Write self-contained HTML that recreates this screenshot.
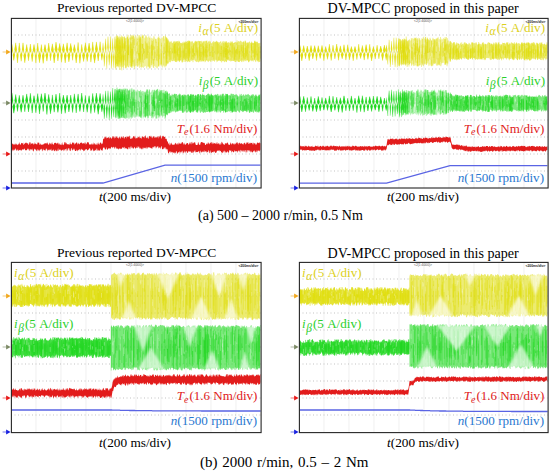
<!DOCTYPE html>
<html><head><meta charset="utf-8"><style>
html,body{margin:0;padding:0;background:#fff;width:550px;height:473px;overflow:hidden;position:relative;font-family:"Liberation Serif",serif;}
.t{position:absolute;white-space:nowrap;color:#000;line-height:1;}
</style></head><body>
<svg width="550" height="473" viewBox="0 0 550 473" style="position:absolute;left:0;top:0">
<defs><filter id="sb" x="-20%" y="-20%" width="140%" height="140%"><feGaussianBlur stdDeviation="1.2"/></filter></defs>
<rect width="550" height="473" fill="#fff"/>
<path d="M36 18V188M61 18V188M86 18V188M111 18V188M136 18V188M161 18V188M186 18V188M211 18V188M236 18V188" stroke="#e6e6e6" stroke-width="0.6" fill="none"/>
<path d="M11 35H261M11 52H261M11 69H261M11 86H261M11 103H261M11 120H261M11 137H261M11 154H261M11 171H261" stroke="#b4b4b4" stroke-width="0.8" stroke-dasharray="1 2.5" fill="none"/>
<path d="M12 44.2L13.8 60.4M13.8 60.4L15.7 42.8M15.7 42.8L17.5 62.9M17.5 62.9L19.3 42.9M19.3 42.9L21.2 61.3M21.2 61.3L23 42.8M23 42.8L24.8 62.8M24.8 62.8L26.7 44.5M26.7 44.5L28.5 60.8M28.5 60.8L30.4 44M30.4 44L32.2 61.6M32.2 61.6L34 44.4M34 44.4L35.9 63.1M35.9 63.1L37.7 43M37.7 43L39.5 62.7M39.5 62.7L41.4 44.6M41.4 44.6L43.2 63.4M43.2 63.4L45 44.6M45 44.6L46.9 61.2M46.9 61.2L48.7 43.1M48.7 43.1L50.5 60.7M50.5 60.7L52.4 43.8M52.4 43.8L54.2 63M54.2 63L56 42.1M56 42.1L57.9 61M57.9 61L59.7 43.4M59.7 43.4L61.5 62.3M61.5 62.3L63.4 43.8M63.4 43.8L65.2 63M65.2 63L67.1 42.8M67.1 42.8L68.9 61.9M68.9 61.9L70.7 43.4M70.7 43.4L72.6 60.3M72.6 60.3L74.4 44.6M74.4 44.6L76.2 63M76.2 63L78.1 42.4M78.1 42.4L79.9 63.3M79.9 63.3L81.7 44.4M81.7 44.4L83.6 61.6M83.6 61.6L85.4 42.7M85.4 42.7L87.2 61.5M87.2 61.5L89.1 43.1M89.1 43.1L90.9 62.2M90.9 62.2L92.7 41.9M92.7 41.9L94.6 63.1M94.6 63.1L96.4 41.9M96.4 41.9L98.2 61M98.2 61L100.1 41.7M100.1 41.7L101.9 60.4" stroke="#e0de10" stroke-width="0.7" opacity="0.55" fill="none"/>
<path d="M12 44.2L13 50L12.3 53.1L11 50ZM13.8 60.4L15 54.9L14.1 51.9L12.7 54.9ZM15.7 42.8L16.9 49.6L16 53.1L14.4 49.6ZM17.5 62.9L18.4 55.6L17.8 51.9L16.6 55.6ZM19.3 42.9L20.3 49.6L19.6 53.1L18.4 49.6ZM21.2 61.3L22.3 55.1L21.5 51.9L20.1 55.1ZM23 42.8L24 49.6L23.3 53.1L22 49.6ZM24.8 62.8L26.1 55.6L25.1 51.9L23.5 55.6ZM26.7 44.5L27.7 50.1L27 53.1L25.6 50.1ZM28.5 60.8L29.5 55L28.8 51.9L27.5 55ZM30.4 44L31.3 50L30.7 53.1L29.4 50ZM32.2 61.6L33.3 55.2L32.5 51.9L31.1 55.2ZM34 44.4L35.4 50.1L34.3 53.1L32.7 50.1ZM35.9 63.1L36.7 55.7L36.2 51.9L35 55.7ZM37.7 43L38.6 49.7L38 53.1L36.7 49.7ZM39.5 62.7L41 55.6L39.8 51.9L38.1 55.6ZM41.4 44.6L42.2 50.1L41.7 53.1L40.5 50.1ZM43.2 63.4L44.4 55.8L43.5 51.9L42 55.8ZM45 44.6L46.4 50.1L45.3 53.1L43.6 50.1ZM46.9 61.2L48.2 55.1L47.2 51.9L45.5 55.1ZM48.7 43.1L49.8 49.7L49 53.1L47.6 49.7ZM50.5 60.7L51.4 55L50.8 51.9L49.7 55ZM52.4 43.8L53.7 49.9L52.7 53.1L51.1 49.9ZM54.2 63L55.5 55.6L54.5 51.9L52.9 55.6ZM56 42.1L57.5 49.4L56.3 53.1L54.6 49.4ZM57.9 61L59 55L58.2 51.9L56.8 55ZM59.7 43.4L61.2 49.8L60 53.1L58.2 49.8ZM61.5 62.3L62.5 55.4L61.8 51.9L60.6 55.4ZM63.4 43.8L64.8 49.9L63.7 53.1L62 49.9ZM65.2 63L66.5 55.6L65.5 51.9L63.9 55.6ZM67.1 42.8L68.3 49.6L67.4 53.1L65.8 49.6ZM68.9 61.9L70.3 55.3L69.2 51.9L67.4 55.3ZM70.7 43.4L72.2 49.8L71 53.1L69.2 49.8ZM72.6 60.3L73.4 54.8L72.9 51.9L71.7 54.8ZM74.4 44.6L75.7 50.1L74.7 53.1L73.1 50.1ZM76.2 63L77.4 55.7L76.5 51.9L75 55.7ZM78.1 42.4L78.9 49.5L78.4 53.1L77.2 49.5ZM79.9 63.3L81 55.7L80.2 51.9L78.8 55.7ZM81.7 44.4L82.6 50.1L82 53.1L80.9 50.1ZM83.6 61.6L85 55.2L83.9 51.9L82.2 55.2ZM85.4 42.7L86.7 49.6L85.7 53.1L84.1 49.6ZM87.2 61.5L88.6 55.2L87.5 51.9L85.9 55.2ZM89.1 43.1L90.6 49.7L89.4 53.1L87.6 49.7ZM90.9 62.2L91.9 55.4L91.2 51.9L90 55.4ZM92.7 41.9L93.7 49.3L93 53.1L91.8 49.3ZM94.6 63.1L96 55.7L94.9 51.9L93.1 55.7ZM96.4 41.9L97.8 49.3L96.7 53.1L95 49.3ZM98.2 61L99.4 55L98.5 51.9L97.1 55ZM100.1 41.7L101 49.3L100.4 53.1L99.1 49.3ZM101.9 60.4L103 54.9L102.2 51.9L100.8 54.9Z" fill="#e0de10" opacity="1.0"/>
<path d="M115 35.7L115.7 39.5L116.4 38.8L117.1 35.5L117.8 37.9L118.5 36.4L119.2 39.3L119.9 39.1L120.6 36.6L121.3 37.8L122 37.3L122.7 36.3L123.4 36.9L124.1 36.7L124.8 37L125.5 39.1L126.2 38.1L126.9 34.9L127.6 36.3L128.3 39L129 38L129.7 37.3L130.4 37.4L131.1 37.6L131.8 35.3L132.5 36.4L133.2 35.8L133.9 35.4L134.6 37.7L135.3 34.7L136 35.4L136.7 37.8L137.4 38.6L138.1 36L138.8 38.5L139.5 38.4L140.2 35.3L140.9 38.8L141.6 35.4L142.3 36.8L143 35.1L143.7 35.1L144.4 37.7L145.1 38.5L145.8 35.2L146.5 36.2L147.2 37.5L147.9 37.4L148.6 35.4L149.3 37.9L150 35.3L150.7 39L151.4 37.8L152.1 37.8L152.8 39L153.5 35.9L154.2 35.8L154.9 37.7L155.6 38.9L156.3 39.1L157 38.5L157.7 37.6L158.4 36.5L159.1 38.5L159.8 37.8L160.5 38.9L161.2 38.4L161.9 37.2L162.6 37.9L163.3 35.9L164 36.3L164.7 39.3L165 39.3L165 65.4L164.7 67L164 67.7L163.3 64.4L162.6 68L161.9 67L161.2 65.3L160.5 64.2L159.8 64.8L159.1 66.8L158.4 65.1L157.7 68.2L157 68.7L156.3 67.6L155.6 67.3L154.9 66L154.2 65.7L153.5 68.1L152.8 67.2L152.1 64.6L151.4 66.6L150.7 68.7L150 66.3L149.3 67.6L148.6 66.8L147.9 65.9L147.2 67.8L146.5 68.9L145.8 66.2L145.1 66L144.4 66.8L143.7 67.9L143 67.5L142.3 67.1L141.6 66.4L140.9 67L140.2 67.6L139.5 68.2L138.8 67L138.1 65.3L137.4 66.7L136.7 65L136 66.5L135.3 65.5L134.6 67.8L133.9 65.3L133.2 67.4L132.5 68.1L131.8 65.1L131.1 66.9L130.4 67.3L129.7 65.1L129 68.1L128.3 67.1L127.6 65.6L126.9 68.2L126.2 66.4L125.5 68.1L124.8 65.4L124.1 65.2L123.4 68.3L122.7 66.6L122 67.4L121.3 64.6L120.6 66.8L119.9 67L119.2 64.4L118.5 67L117.8 67L117.1 66L116.4 66.6L115.7 67.5L115 68.3Z" fill="#e0de10" opacity="0.42"/>
<path d="M128.6 39V66.7M117.6 35.8V54.7M119.8 41.7V59.1M143.4 48.2V54.2M145.3 41.4V59.2M132.8 37.3V61.9M140.3 38.4V62.1M133.6 35.8V54.3M141.6 43.5V67.8M130.4 35.2V55.7M147.2 42.5V58.3M136.9 42.7V53.7M120.5 45.4V62.6M124.7 37.5V60.2M119.2 47.5V62.4M130.2 41.3V63M137.2 39.4V63M128 46.4V60.2M132.8 39.8V64.1M163.5 45.1V54.4M159.5 45.9V59.3M131.4 44V67.7M138.6 45.5V61.4M139.9 44.8V60.1M143.1 43.5V63.1M142.4 34.7V59.7M126.2 45.1V68.1M142.2 39.3V61.8M157.2 46V56M143.6 48.3V53.8M158.7 38.3V66.8M131.5 43.2V65.9M164.7 43.2V53.8M121.4 35.4V61.1M155.7 39.2V54M120.9 49.3V53.7M151.2 44.9V58.7M128.2 34.8V58.9M151.8 40.4V63.3M119.3 36.3V57.1M135.1 45.9V55.5M116.4 35.8V54.8M125.8 37.9V61.4M152 43.6V55.9M163.8 36.1V58.4M128.7 46.5V57.8M161.6 42.7V64.7M155.2 50V57.8M146.9 43.2V58.6M151.3 44.8V65M139.1 42.2V65.3M147.4 44.4V55.1M138.5 45.2V55.2M152.7 45.7V60.4M119 36.8V62M139.5 35.2V60.9M118.1 39.9V63.9M131.6 35.4V67.4M156.4 39.6V60.4M127.4 36.9V65.3M117.5 37.9V65.8M120.2 46.1V55.8M130.9 37.4V66.4M140 38.8V56.2M125.5 41.3V68.4M118.2 45.4V67.5M132.8 34.8V65.9M160.9 49.1V65.6M157.2 49.4V61.1M137.4 48.2V66.8M123.8 43.3V61.7M139.3 49.6V57.2M115.5 46.6V65.1M119.9 40.2V60.8M132.5 42V55.5M132.8 49.1V62.3M158.4 42.2V62.5M127.9 40.4V55.1M130.9 47.1V58.1M116.9 44.6V64.1M116.3 47.5V62.8M116.6 40.2V63.8M127.6 37.2V61.5M153.4 39.7V64.1M163.9 43.2V65.6M128.2 44.9V63.1M139.2 44.9V59.3M134.6 38.7V69M122.2 38.9V57.1M149.2 42.4V68.4M158.9 36.4V56.8M146.8 43.6V58.2M140 36.7V59.6M149.7 38.3V68.3M154.5 46.5V60.4M152.5 41.1V55.2M153.8 45.8V68M131.2 43.9V65.5M140.5 36.8V59.6M161.5 44.9V63.9M158.5 46.1V66M127.9 47.5V66.8M142.7 36.2V56.5M145.9 35.1V57.7M140.1 43.5V63.6M159.2 47.9V54.6M148.4 41.4V66.6M144.5 49V59.9M138.1 49.6V55.2M138.1 34.9V56.1" stroke="#e0de10" stroke-width="0.6" opacity="0.75" fill="none"/>
<path d="M134.7 45.7V57.3M164.4 54.4V56.2M142.3 48.5V53.6M115.9 53.7V62.3M144.3 46.8V47.1M137.7 51.9V58.7M159.3 45.8V54.5M120 43.9V45.4M155.1 49.1V52.3M116.1 47.6V58.6M134.3 45.2V46.6M125.1 51V52.8M163.2 42.7V53.1M149.9 49.1V52.4M138.9 42.1V53M134.5 51.2V59.2M131.1 40.2V42.1M137.9 45.3V51.9M148.5 53.4V53.7M156.5 38.6V41.6M161.1 46.4V53.3M136.5 45.8V51.4M124.7 49.5V49.8M142.5 38.2V44M137.6 40V41.4M133.7 48.2V60.2M156 43.1V53.9M150.1 39.2V46.4M119 54V60.2M117.8 52.4V53.7M116.9 54.8V59.3M128.5 55.1V66.3M153.5 49.8V59M129.4 39.4V44.6M132 38.9V48.8M164 40.8V46.8M137.4 54.1V58.3M148.2 41.5V45.8M118.1 51.1V51.6M124.7 46.5V54.9" stroke="#ffffff" stroke-width="0.8" opacity="0.4" fill="none"/>
<path d="M103 42.8L104.3 66.4M104.3 66.4L105.6 38.7M105.6 38.7L106.8 68.6M106.8 68.6L108 36.6M108 36.6L109.2 65.3M109.2 65.3L110.4 36.5M110.4 36.5L111.6 68.6M111.6 68.6L112.7 38.4M112.7 38.4L113.8 67.8M113.8 67.8L114.9 36.8M114.9 36.8L115.9 69.7M115.9 69.7L117 35.4M117 35.4L118 66M118 66L119 38M119 38L119.9 70M119.9 70L120.9 36.7M120.9 36.7L121.8 70.4M121.8 70.4L122.7 36.5M122.7 36.5L123.6 68.1M123.6 68.1L124.5 36" stroke="#e0de10" stroke-width="0.7" opacity="0.3" fill="none"/>
<path d="M103 42.8L103.8 49.6L103.3 53.1L102.2 49.6ZM104.3 66.4L105.1 56.3L104.6 51.4L103.5 56.3ZM105.6 38.7L106.4 48L105.9 52.6L104.7 48ZM106.8 68.6L107.4 57L107.1 51.4L106.2 57ZM108 36.6L108.7 47.4L108.3 52.6L107.3 47.4ZM109.2 65.3L110.1 56L109.5 51.4L108.4 56ZM110.4 36.5L111.1 47.4L110.7 52.6L109.7 47.4ZM111.6 68.6L112.4 57L111.9 51.4L110.8 57ZM112.7 38.4L113.3 47.9L113 52.6L112.1 47.9ZM113.8 67.8L114.5 56.7L114.1 51.4L113.1 56.7ZM114.9 36.8L115.5 47.5L115.2 52.6L114.2 47.5ZM115.9 69.7L116.8 57.3L116.2 51.4L115.1 57.3ZM117 35.4L117.8 47L117.3 52.6L116.1 47ZM118 66L118.8 56.2L118.3 51.4L117.2 56.2ZM119 38L119.9 47.8L119.3 52.6L118.1 47.8ZM119.9 70L120.6 57.4L120.2 51.4L119.3 57.4ZM120.9 36.7L121.6 47.4L121.2 52.6L120.2 47.4ZM121.8 70.4L122.7 57.5L122.1 51.4L120.9 57.5ZM122.7 36.5L123.5 47.4L123 52.6L122 47.4ZM123.6 68.1L124.2 56.8L123.9 51.4L123 56.8ZM124.5 36L125.1 47.2L124.8 52.6L123.9 47.2Z" fill="#e0de10" opacity="0.95"/>
<path d="M165 35.4L165.7 35.8L166.4 38.3L167.1 37.8L167.8 39.8L168.5 39.2L169.2 42.5L169.9 42.4L170.6 41.4L171.3 40.7L172 43L172.7 43.2L173.4 41.5L174.1 40.8L174.8 43.4L175.5 43.2L176.2 41.9L176.9 40.8L177.6 42.8L178.3 43.4L179 41.4L179.7 41.6L180.4 43.1L181.1 42.7L181.8 43.3L182.5 42.4L183.2 41.2L183.9 43.4L184.6 42.9L185.3 43.1L186 41.5L186.7 41.4L187.4 43.4L188.1 43.3L188.8 40.8L189.5 40.7L190.2 40.9L190.9 42.5L191.6 41.3L192.3 41L193 42.1L193.7 43.4L194.4 41.9L195.1 40.7L195.8 40.9L196.5 41.4L197.2 41.5L197.9 41.1L198.6 40.7L199.3 41.5L200 41.2L200.7 41.1L201.4 40.8L202.1 42.2L202.8 42.8L203.5 41.6L204.2 40.8L204.9 41.8L205.6 40.7L206.3 40.9L207 41.3L207.7 43.2L208.4 40.7L209.1 42L209.8 40.5L210.5 41.6L211.2 43.4L211.9 43L212.6 41.9L213.3 41.3L214 41.3L214.7 42.1L215.4 41.8L216.1 41.3L216.8 40.6L217.5 42.8L218.2 43.5L218.9 43.4L219.6 42L220.3 41.7L221 40.8L221.7 43.5L222.4 41.8L223.1 40.7L223.8 43.4L224.5 42.5L225.2 42.7L225.9 42.1L226.6 41.1L227.3 42.9L228 42.7L228.7 42L229.4 43.3L230.1 41L230.8 43.4L231.5 42.2L232.2 40.8L232.9 43L233.6 43.1L234.3 43L235 41.8L235.7 42.3L236.4 42.3L237.1 42.7L237.8 41.7L238.5 40.9L239.2 41.5L239.9 41.6L240.6 40.6L241.3 41L242 42.5L242.7 42.1L243.4 41.1L244.1 43L244.8 40.6L245.5 40.5L246.2 42.5L246.9 43.2L247.6 43.1L248.3 42.4L249 41.9L249.7 41.3L250.4 43.3L251.1 42.5L251.8 41.1L252.5 43.1L253.2 42.7L253.9 43.4L254.6 41.6L255.3 41.8L256 42.2L256.7 41.4L257.4 41.4L258.1 43.3L258.8 43L259.5 43.2L260.2 42.8L260.4 42.5L260.4 60.5L260.2 61.8L259.5 61.9L258.8 61.4L258.1 62.4L257.4 60.9L256.7 59.7L256 62.3L255.3 61.4L254.6 60.3L253.9 59.8L253.2 62.1L252.5 60.3L251.8 60.1L251.1 61.5L250.4 59.8L249.7 61.8L249 61.1L248.3 62.3L247.6 60.1L246.9 61.5L246.2 60L245.5 61.1L244.8 61.6L244.1 59.9L243.4 62.1L242.7 61.3L242 59.6L241.3 61.7L240.6 60.4L239.9 61.5L239.2 62.3L238.5 61.5L237.8 62L237.1 59.6L236.4 61.7L235.7 61.9L235 62L234.3 61.3L233.6 61L232.9 61L232.2 60.7L231.5 61L230.8 61.8L230.1 60.6L229.4 61L228.7 60.2L228 60.5L227.3 60L226.6 62.4L225.9 61.2L225.2 60.8L224.5 62.4L223.8 61.5L223.1 60.6L222.4 61.6L221.7 59.5L221 61.5L220.3 60.9L219.6 59.9L218.9 60.8L218.2 60.6L217.5 61.4L216.8 62.5L216.1 59.6L215.4 59.9L214.7 62.2L214 60.5L213.3 61.1L212.6 60.2L211.9 62.2L211.2 59.7L210.5 62.3L209.8 61.1L209.1 60.6L208.4 62.3L207.7 61.6L207 60.4L206.3 59.8L205.6 61.8L204.9 62.4L204.2 59.9L203.5 62.1L202.8 60.5L202.1 62L201.4 61.4L200.7 60.1L200 60.6L199.3 62.1L198.6 62.4L197.9 61.4L197.2 61.8L196.5 62.3L195.8 60.7L195.1 61.8L194.4 59.6L193.7 59.7L193 60L192.3 60.5L191.6 60.9L190.9 59.9L190.2 61.9L189.5 62.2L188.8 61L188.1 61.1L187.4 62.5L186.7 60.9L186 61.6L185.3 59.9L184.6 59.6L183.9 59.6L183.2 60.2L182.5 61.9L181.8 62.3L181.1 59.6L180.4 61.1L179.7 60.1L179 61.8L178.3 59.7L177.6 61.1L176.9 62.2L176.2 61.7L175.5 60.1L174.8 59.9L174.1 60.9L173.4 60.6L172.7 61L172 61.5L171.3 60.2L170.6 62.2L169.9 62.4L169.2 61.4L168.5 63.8L167.8 63.3L167.1 64.2L166.4 66.4L165.7 65.4L165 68.6Z" fill="#e0de10" opacity="0.6"/>
<path d="M221.9 46.2V53.9M180.4 47.7V57.6M206.4 48.9V55.6M203.1 41.1V54.5M236.3 48.8V53.4M251.6 44.9V56.9M226.7 46.6V55M174.2 45.8V58.3M202.2 43.7V60.4M252.9 46.2V52.7M204.8 47.3V56.4M221.6 45.7V62.4M194.6 48.6V54.4M174.8 41.7V57.4M247.4 42.3V60M241.8 47V62.1M188.1 41.4V55.9M174.3 45.9V61.2M184.4 41.9V56.5M224 41.1V57.9M199.5 45.4V60.5M203.2 49.4V55.2M230.6 43.3V56.7M169.8 48.4V60M189.5 41.8V57.6M255.2 40.8V56.8M225.9 42.9V57M167.7 40.7V56M206.6 50.3V55.1M179 41.6V61.2M248.7 43.4V62.3M257 49.5V56.3M231 41.5V59.7M178.8 40.8V60.6M197 47.1V55.7M213.9 43.1V59.5M194 43.5V58M203.3 45.8V54.8M176.8 41.6V60.4M215.8 42.1V54.3M235.7 50.1V56.8M206.2 49.3V53.1M182.3 43.8V62.5M183.4 48.2V57.9M227.2 45.9V59M226 46.4V61.9M251.5 42.8V52.6M226.5 43.4V59M203.8 50V57.8M196.5 41.7V54.7M166.9 38.1V63M201.2 47.6V56.9M194.5 49.7V55.7M189.4 48.5V54.1M225.7 48.4V57.6M189.9 48.2V54.1M167.1 42.1V58.9M246.9 49.6V57.5M191.4 46.4V59.2M243.6 41.7V57.9M201.2 44.4V52.8M246.5 46.1V55.9M223 49.9V60.7M255.9 43.6V54.6M253.3 42.9V56.8M189.5 41.4V56.1M240.7 45.2V54.4M195.5 42.1V56.3M175.6 42.2V61.9M260.2 46.3V58.6M257.4 46.8V59.7M173.1 42.5V59.3M188.5 49.8V60M239.6 45V57.4M184 43.1V61.9M245.5 47.7V57.2M257.1 42.1V55.1M258.7 47V60M175.6 49.6V61.7M237.1 40.5V54.6M245.6 48.1V53.1M221 46.4V56.3M197.6 48.5V59.6M199.5 41.2V56.2M223.4 43.1V56.8M209.3 44.4V52.8M209.5 43.8V56.2M218.6 42V60.4M234.2 42.6V60.3M255.1 42.5V57.7M216.9 41.8V60.1M210.7 46V56.1M186.2 42V58.8M239.2 49V59M232.2 42.2V57.6M205.6 43.8V57.4M232.8 44.4V54.4M228.2 44.8V58.7M193.7 45.8V54.7M174.5 44V57.5M170.9 47.6V59.4M225 41.9V57.1M180.2 46.5V60.3M207.9 49.4V53.2M174.2 44.2V54.1M251.4 44.5V57.6M187.5 40.9V58.6M237.4 47V53.8M197.9 50.3V57.7M193 49.6V56.9M177.2 46.7V55.4M185.3 41.4V61.9M225.9 41.1V55M245.6 41.5V59.2M169.1 45.7V56.6M172.1 48.3V54.2M193 45.7V62.2M186.3 43.9V57.5M254.6 49.2V58.5M254.5 40.8V59.7M207.3 50.3V53.4M234.4 47.3V59.7M205.7 49V53.3M166.9 39.3V64.3M241.2 44.6V57.3M252 43.4V61.1M206.9 44.7V57.9M188.6 40.6V61.6M166.2 37V62.3M238.8 45.1V62M227.6 46.3V53.9M177.4 41V55.3M247.7 44.9V53.9M229.4 47.4V54.9M193.7 43.8V53.7M251.1 48.6V53.2M203.6 49.5V54.5M192.8 48.7V53.2M180.9 43.4V57.1M242 45V56.2M212.8 47V57M224.4 43.8V53.5M234.3 47.5V59.4M207.8 47.5V56.9M244 47.4V59.7M227.8 42.5V59.6M175.1 41.1V54M244.1 48.1V58.9M217.5 41.7V54.3M237.2 45.5V61.1M206.8 40.5V56.6M200.4 44.1V61.6M219.9 45.3V60.9M166.3 44.9V58.7M200.8 50.4V59.7M229.8 49.7V55.3M203.4 48.7V61M258 43.7V61M206.3 46.4V60.7M220.4 50.2V54.1M179.5 46.6V62.1M169.2 41.3V54.4M188.3 42.5V53.2M243.3 45.3V56.7M192.8 48.4V56.3M203.5 46.3V56.3M177.7 49.3V56.8M235.8 49.6V59.9M184 49.1V58.3M225.4 48.9V54.2M212.2 46V57.3" stroke="#e0de10" stroke-width="0.7" opacity="0.75" fill="none"/>
<path d="M172.7 53.2V59.9M193.4 44.4V44.8M218.5 53.5V56.6M210.3 45.6V52.1M201 47.3V48M183.1 45.2V50.4M174.8 53.4V60.4M228.8 53.3V57M211 44.9V45.4M201.1 46.7V52.3M236.5 45.2V48.9M252.8 53.7V57.8M248.9 48.3V53.8M194.7 48.5V53.3M178.7 45.7V48.2M196 52.4V59.4M208.2 52V58.6M225 52.2V52.7M250.4 48.3V55.4M213.1 51V51.6M230.5 45.5V50.3M198.7 45.1V46.9M252.8 44.9V50.2M228.2 47.4V49.6M226.1 47.1V48.1M234.7 44V45.6M251.8 50.5V56.4M186.1 48.9V53.1M244.6 46V53M167.8 52.5V60.8M207.2 48V54.6M220.5 43V44.4M257.1 46.7V53.5M208.9 50.6V52.6M221 49.8V53.1M170.5 48.9V51.1M224.1 43V47.2M239.9 44.6V50.9M178.8 50.6V54.1M192.9 52.6V55.1M241.1 51.3V58M230.1 52V58.5M227.8 48.2V49M253.1 53.3V55M181.3 46.3V50.7M202.1 48.6V51.6M194.3 45.5V53" stroke="#ffffff" stroke-width="0.8" opacity="0.3" fill="none"/>
<path d="M12 92.8L13.8 113.2M13.8 113.2L15.7 94.5M15.7 94.5L17.5 111.4M17.5 111.4L19.3 95.3M19.3 95.3L21.2 112.3M21.2 112.3L23 95.2M23 95.2L24.8 111.8M24.8 111.8L26.7 93.9M26.7 93.9L28.5 112M28.5 112L30.4 93.3M30.4 93.3L32.2 113.1M32.2 113.1L34 95.6M34 95.6L35.9 112.8M35.9 112.8L37.7 93.6M37.7 93.6L39.5 114M39.5 114L41.4 93.7M41.4 93.7L43.2 111.5M43.2 111.5L45 93M45 93L46.9 114.5M46.9 114.5L48.7 94.4M48.7 94.4L50.5 113.8M50.5 113.8L52.4 94.9M52.4 94.9L54.2 112.2M54.2 112.2L56 94.1M56 94.1L57.9 112.4M57.9 112.4L59.7 93.1M59.7 93.1L61.5 113.8M61.5 113.8L63.4 95.1M63.4 95.1L65.2 113.3M65.2 113.3L67.1 95.1M67.1 95.1L68.9 112M68.9 112L70.7 95.1M70.7 95.1L72.6 112.5M72.6 112.5L74.4 93.8M74.4 93.8L76.2 112.9M76.2 112.9L78.1 93.9M78.1 93.9L79.9 111.5M79.9 111.5L81.7 93M81.7 93L83.6 112M83.6 112L85.4 95.4M85.4 95.4L87.2 112.3M87.2 112.3L89.1 95.7M89.1 95.7L90.9 113.5M90.9 113.5L92.7 93.4M92.7 93.4L94.6 112.6M94.6 112.6L96.4 93.1M96.4 93.1L98.2 114.3M98.2 114.3L100.1 93.4M100.1 93.4L101.9 112.1" stroke="#22d822" stroke-width="0.7" opacity="0.55" fill="none"/>
<path d="M12 92.8L13.2 100.3L12.3 104.1L10.8 100.3ZM13.8 113.2L15.3 106.4L14.1 102.9L12.4 106.4ZM15.7 94.5L16.8 100.8L16 104.1L14.5 100.8ZM17.5 111.4L18.5 105.9L17.8 102.9L16.5 105.9ZM19.3 95.3L20.4 101L19.6 104.1L18.2 101ZM21.2 112.3L22.6 106.1L21.5 102.9L19.7 106.1ZM23 95.2L24.2 101L23.3 104.1L21.8 101ZM24.8 111.8L25.7 106L25.1 102.9L24 106ZM26.7 93.9L28.1 100.6L27 104.1L25.3 100.6ZM28.5 112L29.6 106.1L28.8 102.9L27.4 106.1ZM30.4 93.3L31.4 100.4L30.7 104.1L29.3 100.4ZM32.2 113.1L33.1 106.4L32.5 102.9L31.3 106.4ZM34 95.6L35.3 101.1L34.3 104.1L32.8 101.1ZM35.9 112.8L36.8 106.3L36.2 102.9L34.9 106.3ZM37.7 93.6L38.8 100.5L38 104.1L36.6 100.5ZM39.5 114L40.6 106.7L39.8 102.9L38.5 106.7ZM41.4 93.7L42.7 100.6L41.7 104.1L40 100.6ZM43.2 111.5L44 105.9L43.5 102.9L42.4 105.9ZM45 93L46.4 100.3L45.3 104.1L43.6 100.3ZM46.9 114.5L47.8 106.8L47.2 102.9L45.9 106.8ZM48.7 94.4L49.9 100.8L49 104.1L47.5 100.8ZM50.5 113.8L51.9 106.6L50.8 102.9L49.2 106.6ZM52.4 94.9L53.2 100.9L52.7 104.1L51.6 100.9ZM54.2 112.2L55.3 106.1L54.5 102.9L53.1 106.1ZM56 94.1L57.2 100.7L56.3 104.1L54.8 100.7ZM57.9 112.4L59.2 106.2L58.2 102.9L56.5 106.2ZM59.7 93.1L60.6 100.4L60 104.1L58.8 100.4ZM61.5 113.8L62.5 106.6L61.8 102.9L60.6 106.6ZM63.4 95.1L64.8 101L63.7 104.1L62 101ZM65.2 113.3L66.5 106.4L65.5 102.9L63.9 106.4ZM67.1 95.1L68.4 101L67.4 104.1L65.7 101ZM68.9 112L70.1 106L69.2 102.9L67.7 106ZM70.7 95.1L71.7 101L71 104.1L69.7 101ZM72.6 112.5L73.5 106.2L72.9 102.9L71.6 106.2ZM74.4 93.8L75.5 100.6L74.7 104.1L73.3 100.6ZM76.2 112.9L77 106.3L76.5 102.9L75.4 106.3ZM78.1 93.9L79.2 100.6L78.4 104.1L76.9 100.6ZM79.9 111.5L81.2 105.9L80.2 102.9L78.6 105.9ZM81.7 93L82.8 100.3L82 104.1L80.7 100.3ZM83.6 112L84.4 106.1L83.9 102.9L82.7 106.1ZM85.4 95.4L86.2 101.1L85.7 104.1L84.6 101.1ZM87.2 112.3L88.4 106.1L87.5 102.9L86 106.1ZM89.1 95.7L90.1 101.1L89.4 104.1L88 101.1ZM90.9 113.5L91.8 106.5L91.2 102.9L90 106.5ZM92.7 93.4L93.8 100.5L93 104.1L91.7 100.5ZM94.6 112.6L95.6 106.2L94.9 102.9L93.6 106.2ZM96.4 93.1L97.8 100.4L96.7 104.1L95 100.4ZM98.2 114.3L99.7 106.7L98.5 102.9L96.8 106.7ZM100.1 93.4L101.4 100.5L100.4 104.1L98.7 100.5ZM101.9 112.1L103.4 106.1L102.2 102.9L100.5 106.1Z" fill="#22d822" opacity="1.0"/>
<path d="M115 89.1L115.7 89.2L116.4 90.6L117.1 89.2L117.8 92.7L118.5 88.8L119.2 91L119.9 90.1L120.6 92.4L121.3 89.2L122 90L122.7 89.9L123.4 89.5L124.1 88.3L124.8 90.3L125.5 88.6L126.2 90.9L126.9 88.5L127.6 89.6L128.3 90.1L129 92.1L129.7 88.4L130.4 88.7L131.1 91.6L131.8 88.1L132.5 92.2L133.2 90.7L133.9 89.3L134.6 91.9L135.3 91.6L136 89.7L136.7 91.8L137.4 89.1L138.1 91L138.8 90.6L139.5 91.9L140.2 89.7L140.9 90.1L141.6 91.8L142.3 90.7L143 91.5L143.7 91.3L144.4 91.4L145.1 92.4L145.8 90.7L146.5 91.5L147.2 90.2L147.9 88.7L148.6 91.9L149.3 89.4L150 92.3L150.7 92.7L151.4 91.6L152.1 89.4L152.8 90.2L153.5 90.5L154.2 89L154.9 90.8L155.6 91.3L156.3 90.3L157 89.6L157.7 89.2L158.4 91.7L159.1 88.9L159.8 90.5L160.5 89.9L161.2 91.3L161.9 92.2L162.6 93.1L163.3 91.9L164 93.5L164.7 94L165 92.8L165 113.3L164.7 116L164 116L163.3 116.3L162.6 117.9L161.9 116.2L161.2 114.7L160.5 116.3L159.8 118.5L159.1 115.1L158.4 117.3L157.7 115.7L157 114.3L156.3 115.4L155.6 114.8L154.9 117.2L154.2 115.8L153.5 118.2L152.8 118.6L152.1 117.1L151.4 115.3L150.7 116.1L150 116.6L149.3 114.5L148.6 118.4L147.9 117.2L147.2 115.5L146.5 114.9L145.8 116.1L145.1 118.4L144.4 116.7L143.7 116.8L143 118.9L142.3 115.2L141.6 118.8L140.9 118.1L140.2 117.5L139.5 116.2L138.8 116L138.1 117.4L137.4 115.3L136.7 114.9L136 116.4L135.3 117.8L134.6 117.9L133.9 116L133.2 117.3L132.5 118.2L131.8 115L131.1 117.6L130.4 116.4L129.7 119.2L129 117.1L128.3 119.4L127.6 117.5L126.9 119L126.2 117.8L125.5 119.1L124.8 118.8L124.1 117.4L123.4 117.3L122.7 118L122 117.6L121.3 118L120.6 118.3L119.9 118.5L119.2 118.9L118.5 115.7L117.8 117L117.1 114.6L116.4 118.2L115.7 116.8L115 117.9Z" fill="#22d822" opacity="0.36"/>
<path d="M132 91.9V112.3M125.2 92.8V113.8M161.9 90V115.9M125 102.2V106.9M124.7 96.2V118.1M130.9 92.9V111.9M161.5 99.7V111.4M154.3 95.3V108.9M153.8 92.2V107.5M143.9 95.1V113.6M126.2 95.2V117.6M146.7 100.8V108.2M145.5 95.3V109.5M121.1 89.2V107.3M133.1 97.5V113.5M132.9 98.9V114.6M152.7 99.8V116.4M163.9 89.8V113M140 99.8V116.8M143 93.5V106.4M121.1 92.2V107.9M131.1 101.4V118.7M134.4 89.6V111.3M163.2 93.3V109.9M128.3 94.3V111.4M127.4 97.9V112.4M160.3 92.6V105.8M124.1 88.6V110.1M151.7 95.1V118.3M164.9 91.7V106.7M159.6 91.8V107.1M138.2 100.8V106.9M153.7 92.6V110.9M164.1 93.3V113.3M149.4 89.4V115.5M123.4 94.1V113.3M145.4 95.3V116.8M117.3 95.9V108.6M161.3 100.1V114.5M158.3 95.1V114.9M119.6 94.7V111.6M129 90.8V106.2M118.4 101.5V113.5M154.6 90.2V111.1M153.1 94.6V114M139.7 91V116.3M127.1 88.7V106.6M118.7 101.3V118.9M147.8 96V118.4M162.1 98.7V106.8M136.8 92.3V116.7M120.6 97.8V107.8M125.6 88.6V114.3M122.6 91.5V116.1M148.1 94.5V111.3M134.5 102V112.4M117.1 90.6V109.1M160.6 90.6V112.5M158.1 96.2V118.4M141 92.3V116.2M161.8 90.3V107.5M152.7 96.7V114.4M119.1 97.8V105.9M124 90.1V112.7M157.6 88.9V108.1M119.3 89V117.1M137.9 101.3V110M118 90.7V112.7M119.5 97.8V114.2M162.8 99.9V107.7M126.8 94.2V110M119.5 88.7V114.6M135 99.2V107.9M117.9 89.6V106.4M129.4 89.8V108.3M154.2 96.9V108.4M158 100.3V115.1M136 102V114.2M146.3 100.1V107M145.1 93.3V109.5M115.2 93.6V108.7M147.3 89.6V109.1M145.5 94.6V117.6M144.8 98.7V116.3M146.7 89.5V116.2M132.9 99.1V115.4M159.5 102V116.4M116.3 98.7V108.6M160 97.9V108.2M133.3 89.5V105.3M145.2 92.2V106.8M118.7 89.4V115.6M121.5 94.1V110.6M141 96V117.5M141.7 101.9V114.6M155 97.4V108.5M147.9 94.5V115.8M119.7 90.1V117.7M153.4 100V107.7M159.2 93.7V109.6M156 90.5V118.7M125.5 101.1V108M121.5 100.2V116.8M128.3 90.5V107M156.4 89.7V118.4M154.6 94V111.1M146.9 96V116.4M130.5 96.5V108.4M131.9 88.4V117.4M129.2 101.6V113.4" stroke="#22d822" stroke-width="0.6" opacity="0.75" fill="none"/>
<path d="M139.9 97.9V107.3M155 94.1V101.1M142.5 105.3V105.9M143.9 94.4V100.5M155.9 98.3V103.9M133.3 106V115.5M119.5 92.3V98M130.6 91.7V99.1M122.8 101.4V102.5M150.7 104.3V112.8M159.1 101V104.5M124.1 101.6V112.2M147.9 93.2V93.6M122.6 103.9V105.3M150.3 100.5V104.3M136 95.4V99.9M124.2 99.6V106.8M142.5 106.7V116.7M159.5 100.8V102.3M152.9 105.9V112.3M137.7 101.5V108.3M156.4 98.9V102.8M155.4 98.7V105.5M129.2 99.6V105.8M144.3 103.5V107.2M123.5 97.2V103.6M139.5 97.1V101.7M123.9 93.1V100.2M118.6 100.4V110.8M140.3 102.4V110.7M139.4 99.5V102M146.4 99.6V103.1M161.9 101.3V105.6M160.1 103.2V113.3M131.9 98.7V101.3M151.4 104.4V111.7M150.6 93.8V103.7M122 103.9V105.7M149.3 102.9V104.8M142.9 95.3V105.5" stroke="#ffffff" stroke-width="0.8" opacity="0.4" fill="none"/>
<path d="M103 93.9L104.3 118.8M104.3 118.8L105.6 90.8M105.6 90.8L106.8 118.3M106.8 118.3L108 90.7M108 90.7L109.2 119.8M109.2 119.8L110.4 91.6M110.4 91.6L111.6 118.8M111.6 118.8L112.7 88M112.7 88L113.8 117.2M113.8 117.2L114.9 88.9M114.9 88.9L115.9 118.3M115.9 118.3L117 87.6M117 87.6L118 118.5M118 118.5L119 91M119 91L119.9 118.4M119.9 118.4L120.9 88.7M120.9 88.7L121.8 117.8M121.8 117.8L122.7 88.8M122.7 88.8L123.6 118.2M123.6 118.2L124.5 90.4" stroke="#22d822" stroke-width="0.7" opacity="0.3" fill="none"/>
<path d="M103 93.9L103.8 100.6L103.3 104.1L102.2 100.6ZM104.3 118.8L105.2 108.4L104.6 103.4L103.4 108.4ZM105.6 90.8L106.4 100L105.9 104.6L104.7 100ZM106.8 118.3L107.7 108.3L107.1 103.4L105.9 108.3ZM108 90.7L108.8 100L108.3 104.6L107.3 100ZM109.2 119.8L110 108.7L109.5 103.3L108.5 108.7ZM110.4 91.6L111.2 100.2L110.7 104.5L109.6 100.2ZM111.6 118.8L112.4 108.4L111.9 103.3L110.8 108.4ZM112.7 88L113.4 99.2L113 104.5L112 99.2ZM113.8 117.2L114.5 107.9L114.1 103.3L113 107.9ZM114.9 88.9L115.8 99.4L115.2 104.5L113.9 99.4ZM115.9 118.3L116.7 108.2L116.2 103.3L115.2 108.2ZM117 87.6L117.8 99L117.3 104.5L116.2 99ZM118 118.5L118.6 108.3L118.3 103.3L117.3 108.3ZM119 91L119.8 100L119.3 104.5L118.2 100ZM119.9 118.4L120.9 108.2L120.2 103.2L119 108.2ZM120.9 88.7L121.9 99.3L121.2 104.4L119.9 99.3ZM121.8 117.8L122.5 108L122.1 103.2L121.1 108ZM122.7 88.8L123.7 99.3L123 104.4L121.8 99.3ZM123.6 118.2L124.2 108.1L123.9 103.2L123.1 108.1ZM124.5 90.4L125.2 99.8L124.8 104.4L123.8 99.8Z" fill="#22d822" opacity="0.95"/>
<path d="M165 91.4L165.7 90.8L166.4 90.4L167.1 93.5L167.8 92.5L168.5 94.4L169.2 92.8L169.9 93.9L170.6 96.4L171.3 95.9L172 93.6L172.7 94.9L173.4 94.8L174.1 94.2L174.8 93.8L175.5 94.4L176.2 93.9L176.9 94.1L177.6 96.1L178.3 94.6L179 94.4L179.7 94.7L180.4 93.8L181.1 96.2L181.8 95L182.5 95.5L183.2 96.5L183.9 93.8L184.6 95.2L185.3 94.9L186 95.8L186.7 95.3L187.4 94.8L188.1 93.9L188.8 95.1L189.5 95.9L190.2 96.3L190.9 94.9L191.6 95L192.3 95.9L193 94.8L193.7 94.7L194.4 95.7L195.1 96.1L195.8 95.8L196.5 96.3L197.2 94L197.9 95.1L198.6 93.7L199.3 96.3L200 94.2L200.7 95.1L201.4 95.6L202.1 94.9L202.8 94.9L203.5 94.9L204.2 95.2L204.9 95.4L205.6 95.7L206.3 94.9L207 94.7L207.7 94L208.4 93.6L209.1 94.4L209.8 96.4L210.5 94.9L211.2 94L211.9 94.9L212.6 95.7L213.3 96L214 94.6L214.7 95.3L215.4 93.7L216.1 96L216.8 94.7L217.5 93.8L218.2 94.1L218.9 95.9L219.6 96.2L220.3 94.1L221 96.4L221.7 94.2L222.4 93.7L223.1 93.6L223.8 94L224.5 95.7L225.2 95.2L225.9 96.2L226.6 94.1L227.3 94L228 96.1L228.7 94.9L229.4 94.9L230.1 95.8L230.8 93.5L231.5 93.7L232.2 93.8L232.9 94.6L233.6 93.8L234.3 95.1L235 94.8L235.7 94.6L236.4 94.3L237.1 94.8L237.8 95.8L238.5 96.4L239.2 96.4L239.9 93.6L240.6 95.4L241.3 95.7L242 96.3L242.7 95.1L243.4 94.2L244.1 94.8L244.8 96.3L245.5 93.9L246.2 95L246.9 94.6L247.6 94.5L248.3 93.7L249 94.9L249.7 95.3L250.4 95.9L251.1 96.4L251.8 94.4L252.5 94.4L253.2 93.9L253.9 95.1L254.6 95.9L255.3 95.5L256 94.8L256.7 96.4L257.4 96.4L258.1 96.2L258.8 94.5L259.5 95.6L260.2 93.6L260.4 95.4L260.4 110.3L260.2 111.6L259.5 110.7L258.8 111.8L258.1 111.8L257.4 112.5L256.7 110.2L256 111.4L255.3 111.6L254.6 110.3L253.9 112.2L253.2 113L252.5 111.6L251.8 111.5L251.1 112.1L250.4 111.1L249.7 112.9L249 112.6L248.3 110.1L247.6 110.4L246.9 112.7L246.2 110.8L245.5 111.3L244.8 110.4L244.1 111L243.4 111.3L242.7 110.2L242 111.1L241.3 111.2L240.6 110.1L239.9 112.2L239.2 112.8L238.5 111.5L237.8 110.6L237.1 111L236.4 112.6L235.7 111.2L235 112.2L234.3 110.8L233.6 111.5L232.9 112.1L232.2 112.5L231.5 111.1L230.8 110.7L230.1 110.9L229.4 111.7L228.7 111.2L228 111.2L227.3 112.2L226.6 111.7L225.9 112.7L225.2 112.5L224.5 110.7L223.8 111.1L223.1 110L222.4 111L221.7 111.1L221 111.8L220.3 113L219.6 111.7L218.9 110.1L218.2 112.7L217.5 110.1L216.8 110.9L216.1 111.6L215.4 111.3L214.7 112.3L214 110.1L213.3 110.6L212.6 111.1L211.9 110.7L211.2 110.5L210.5 111.6L209.8 112.8L209.1 111.9L208.4 111.1L207.7 111.9L207 111.9L206.3 111.7L205.6 112.7L204.9 112.1L204.2 112.6L203.5 112.9L202.8 112.6L202.1 111.4L201.4 111.6L200.7 112.7L200 112.7L199.3 110.2L198.6 110.2L197.9 111.9L197.2 111L196.5 113L195.8 110.3L195.1 110.3L194.4 110.5L193.7 111.8L193 110.3L192.3 111.7L191.6 111.6L190.9 112.5L190.2 112.8L189.5 110.4L188.8 110.4L188.1 111.2L187.4 112.4L186.7 112.7L186 112.3L185.3 110.2L184.6 111.5L183.9 112.7L183.2 112.5L182.5 112.7L181.8 111L181.1 110.5L180.4 111L179.7 110.8L179 110.7L178.3 111.4L177.6 110.6L176.9 111.7L176.2 111.3L175.5 112.8L174.8 111.7L174.1 110.3L173.4 111.7L172.7 111.7L172 110.7L171.3 112.6L170.6 110.6L169.9 112.3L169.2 113.6L168.5 112.7L167.8 114.8L167.1 115.5L166.4 114.2L165.7 116.5L165 118Z" fill="#22d822" opacity="0.6"/>
<path d="M246 101.2V110.7M208.1 93.6V107.5M175.8 97.4V107.9M251.2 94.9V112.1M225.5 93.8V112.1M169.4 101.7V108.1M209.6 95.8V110.8M222.8 98.6V109.7M180.4 97.3V109.5M209.7 97.3V111.5M232.5 98.3V112.4M210.2 96.4V105.6M187.9 101.3V105.3M186.6 101.6V109M259.3 94.7V111.7M177.2 99.4V106.4M193 94.6V105.2M215.8 95V109.4M246.9 98.1V111.9M220.8 99.4V110M227.3 93.9V105.6M234.3 99V109.7M213 95.8V111.1M202.3 100.2V110.2M174.9 93.7V107.5M203.9 94.6V109.6M199.2 99V105.4M186.9 99.4V108.6M218.2 96.2V104.8M254.6 101.2V109.7M206.6 100.8V110M234.5 100.2V108.3M206.6 95.2V106.2M237.2 98V109.8M222.4 94.6V111M183.8 97V106M178.2 98.9V106.5M255.9 94.4V106.3M193.1 94.5V112.3M223.9 101.3V110.4M193.6 101.1V110.2M200.3 94.1V105.8M225.2 97.8V107.5M211.6 98.2V108.6M197.6 96.9V112.8M255.3 97V111.8M170.7 95.4V112.8M223.6 101.3V112.6M175.8 97.8V105.4M229.6 99.9V104.7M223.1 99.1V106M166 95.7V113.8M196.2 101.3V111.9M192.9 98.4V112.1M191.3 93.9V111M232.6 101.2V104.2M188.8 97.2V111.6M166.9 92.7V114.3M189.4 95.7V107.3M217.7 101.9V107.5M194.9 98V106.8M241.3 93.9V105.8M177.6 100.2V110.5M166.3 99.6V111.4M220.2 99.9V105.4M192.8 101.4V104.8M196.9 97.2V107.2M189.2 101.7V109.4M243.9 99.7V109.9M216 100.4V110.4M221.2 96.6V109.1M227.1 94.5V105M188.3 94.5V105.6M204.1 97.8V111.4M179.9 99.9V108.9M195.5 94.8V109.8M209 98.9V106.2M221.2 101.9V107.6M218.1 96.4V105.7M232.1 99.3V111.5M233 96V111.8M209.1 95.4V111.8M244.7 98.8V109.7M177.3 98.9V110.1M199.4 101.6V106M201.2 98.1V108.8M177.5 98.1V104.2M196 95.1V108.3M209.7 94.2V108.1M245.7 98.7V106.5M211.9 95.7V112M217.1 97.9V112.4M244.8 99.2V111.1M190.6 94.2V112.3M192.7 94.8V110M198.4 94V106.4M212.3 95V109.3M209.2 100.4V111M193.9 98.4V111.2M190.6 94.5V112.6M212.2 97.9V104.9M197.7 94.5V111.7M211 94.9V111.2M223.4 96.5V109.3M169.6 102.1V107.5M190.1 98.3V111.9M167.7 97.9V107.8M190.6 96.1V105.6M249.8 97.4V112.6M248 101.8V108.2M259.3 96.9V105.8M250.8 100.8V110.8M211.4 93.6V110.7M208.3 96.5V105.3M256.7 95.8V112.3M175.4 100.4V106M225.7 100.4V111.9M234.2 98V108M227.4 94.6V108.2M165.3 93.7V107.6M189.8 102.1V112.3M205.9 98.9V107.9M200.5 94.5V107.3M172.4 100.2V108.6M185.1 94.6V104.9M165.1 94.5V118.7M176.2 102.2V106.9M210.3 96.9V111.8M169.3 96.3V113.1M179.6 93.6V110M205.2 98.7V108.6M248.7 99V110.3M188.9 102V109.8M232.9 99V108.9M183.7 95.6V106M250.4 99.9V108.8M192.3 96.3V106.3M177.2 101.2V111.9M171.1 100.1V104.3M246.1 99.9V109.8M237.4 96.5V107.3M197.5 98.5V106.8M240.5 101V109.9M258.8 95.8V112.8M231.5 99.9V109.5M252.2 96V109.4M235 99.4V112.1M242.7 101.4V111.8M179.8 95.2V106.2M217.2 101.6V105.7M230.8 101.2V110.7M256.5 100V105.8M180.8 101V106.2M247.2 101.5V109.4M220.1 101.1V106.2M182.7 94.8V110.7M226.7 94V109.1M237.1 101.2V105.8M231.1 99V112.7M254.4 97.9V108.9M202.4 93.7V107.2M170.3 97V109.9M216.4 94.7V112.3M170.6 99.5V105.6M220 94.7V104.7M230.3 95.8V108.3M243.1 101.7V112.1M254.9 102V108.4M182.4 95V112.7M167.5 91.6V106.5M174.5 100.4V107.1" stroke="#22d822" stroke-width="0.7" opacity="0.75" fill="none"/>
<path d="M174.9 98.6V103.4M219.4 97.5V101.3M206.1 103.2V106.6M200.3 100.7V102.8M199.9 104.2V108M221.9 101V102.3M200.5 96.3V96.8M174.7 97.8V101.6M192.9 96.1V100.7M230.8 101.8V102.1M204.6 101.4V103.7M174.5 101.9V102M240.1 105V105.1M247.9 97.5V98.5M237.1 105.1V109.8M168.8 95.4V98.9M257.9 103.2V105.5M259.9 100.3V107.1M230.1 100.7V102M244.7 100.8V105.5M205.7 96.7V98.5M201.2 99.9V101.1M235.8 97.3V101.3M235 100.4V105.8M213 103.6V110.1M251.6 98.1V101.1M174 97.4V99.1M169.7 100.4V101.1M174 102.9V107.6M166.9 98.8V104.4M237 99V102.6M224.9 104.5V109.1M169.2 105.4V107.3M248.3 99.7V104.5M176.7 102V103.5M228.9 98.9V102.4M194.6 101.9V102.9M172.2 102.5V102.8M248.8 102V102.9M172.9 102.4V104.8M216.3 104.6V106.5M187.8 104.2V110.6M217.2 100.2V104.2M190.3 102.4V106.4M215.2 97.7V103.4M214.6 104.7V107.8M221.5 104.9V107.1" stroke="#ffffff" stroke-width="0.8" opacity="0.3" fill="none"/>
<path d="M11.6 142.3L12.1 144L12.6 143.3L13.1 145.2L13.6 144.1L14.1 143.8L14.6 145.2L15.1 142.9L15.6 144.9L16.1 143.4L16.6 144.3L17.1 145.3L17.6 144.8L18.1 144.1L18.6 144.8L19.1 142L19.6 143.5L20.1 145L20.6 144.6L21.1 143.5L21.6 142.8L22.1 143.2L22.6 143.5L23.1 142.4L23.6 145.2L24.1 144.2L24.6 143.8L25.1 142.6L25.6 143.1L26.1 143.4L26.6 142.5L27.1 143.1L27.6 143.2L28.1 144.5L28.6 145.1L29.1 142L29.6 142.4L30.1 144.9L30.6 142L31.1 142.9L31.6 143.9L32.1 143.8L32.6 142.7L33.1 144.6L33.6 144.4L34.1 142L34.6 144.4L35.1 143.3L35.6 143.7L36.1 144L36.6 144.2L37.1 144.8L37.6 142.6L38.1 142.6L38.6 142.7L39.1 142.6L39.6 144.7L40.1 145L40.6 143.2L41.1 144.4L41.6 144.7L42.1 145L42.6 144.6L43.1 144L43.6 144.7L44.1 143.1L44.6 144L45.1 142.9L45.6 143.4L46.1 143.3L46.6 143.7L47.1 142L47.6 143.5L48.1 143.7L48.6 145.1L49.1 144.4L49.6 142.5L50.1 143.3L50.6 144.6L51.1 142.2L51.6 145L52.1 142.1L52.6 144.3L53.1 143.9L53.6 145.3L54.1 143.2L54.6 143L55.1 142.6L55.6 142.9L56.1 143.1L56.6 144L57.1 142.9L57.6 142.6L58.1 145L58.6 142.2L59.1 145.3L59.6 142.9L60.1 144.6L60.6 144.5L61.1 145.3L61.6 144.6L62.1 142L62.6 144.6L63.1 145.3L63.6 144.7L64.1 143.8L64.6 142.1L65.1 142L65.6 142.8L66.1 144.5L66.6 142.5L67.1 143.9L67.6 144.6L68.1 143.9L68.6 144.5L69.1 144.8L69.6 144.5L70.1 142L70.6 144.3L71.1 144L71.6 144.8L72.1 142.9L72.6 142.5L73.1 142.1L73.6 143.5L74.1 142.5L74.6 144.7L75.1 144L75.6 143.3L76.1 143.1L76.6 142.3L77.1 142.4L77.6 145.1L78.1 142.5L78.6 143.8L79.1 144L79.6 144.6L80.1 142.5L80.6 143.3L81.1 142.4L81.6 142.4L82.1 143.3L82.6 143.8L83.1 143.1L83.6 143.3L84.1 143.9L84.6 142.1L85.1 144.9L85.6 142L86.1 143.4L86.6 144.5L87.1 142L87.6 142.5L88.1 142L88.6 142.4L89.1 144L89.6 144.6L90.1 145.3L90.6 143.8L91.1 145L91.6 143.4L92.1 143.8L92.6 145.3L93.1 142L93.6 145.1L94.1 143L94.6 143.5L95.1 145.2L95.6 143.5L96.1 145.2L96.6 144.3L97.1 142.5L97.6 145.4L98.1 142.1L98.6 144.4L99.1 143.1L99.6 145.3L100.1 142.8L100.6 142.6L101.1 142.8L101.6 144.4L102.1 143.3L102.6 144.1L103.1 139.2L103.6 138.5L104.1 138.9L104.6 136.9L105.1 136.3L105.6 137.7L106.1 136.6L106.6 138.6L107.1 137.9L107.6 138L108.1 136.7L108.6 137.3L109.1 138.8L109.6 138.1L110.1 137.1L110.6 137.8L111.1 137.7L111.6 138.9L112.1 138.1L112.6 136.2L113.1 136.2L113.6 136.6L114.1 138.7L114.6 137.2L115.1 135.8L115.6 138.1L116.1 137.4L116.6 136.6L117.1 136.1L117.6 138.3L118.1 137.6L118.6 139L119.1 136.5L119.6 137L120.1 138.7L120.6 138.3L121.1 136.5L121.6 136.6L122.1 138.2L122.6 137.2L123.1 135.7L123.6 137.3L124.1 138.9L124.6 137.4L125.1 137.1L125.6 137L126.1 136L126.6 138.7L127.1 136.1L127.6 137.1L128.1 137.3L128.6 136.6L129.1 135.8L129.6 135.8L130.1 138.7L130.6 138.9L131.1 137.5L131.6 139L132.1 138.6L132.6 138L133.1 136.3L133.6 136.4L134.1 135.7L134.6 138.1L135.1 135.6L135.6 138.8L136.1 137.9L136.6 138.5L137.1 137.1L137.6 138.5L138.1 137.1L138.6 136.6L139.1 138.6L139.6 135.6L140.1 138.2L140.6 137.4L141.1 138.5L141.6 138.5L142.1 135.7L142.6 136.8L143.1 137.1L143.6 137.5L144.1 135.7L144.6 138.4L145.1 135.6L145.6 135.5L146.1 138.6L146.6 137.2L147.1 138.5L147.6 136.6L148.1 138.8L148.6 138.6L149.1 135.8L149.6 136.5L150.1 135.6L150.6 137.3L151.1 135.6L151.6 137.9L152.1 136.2L152.6 138.5L153.1 136.8L153.6 136.2L154.1 136L154.6 138.3L155.1 136.8L155.6 137.9L156.1 136.7L156.6 137.9L157.1 135.8L157.6 137.8L158.1 135.7L158.6 138.7L159.1 135.6L159.6 137.5L160.1 135.4L160.6 135.4L161.1 138.2L161.6 138.7L162.1 135.4L162.6 136.5L163.1 136.7L163.6 135.6L164.1 136.9L164.6 136.8L165.1 137.1L165.6 139.1L166.1 139L166.6 138.6L167.1 141.7L167.6 141.1L168.1 142.9L168.6 144.4L169.1 142.1L169.6 145.3L170.1 145.3L170.6 143.7L171.1 142.4L171.6 143.5L172.1 144.7L172.6 144.4L173.1 145.1L173.6 144.6L174.1 144.7L174.6 144.4L175.1 143L175.6 142.7L176.1 144.7L176.6 143.9L177.1 143L177.6 144.9L178.1 142L178.6 144.9L179.1 142.4L179.6 143.8L180.1 143.8L180.6 144L181.1 141.9L181.6 144L182.1 142.1L182.6 142.3L183.1 142.8L183.6 145L184.1 142.5L184.6 144.3L185.1 144.8L185.6 144.7L186.1 143.8L186.6 143.5L187.1 143.1L187.6 142.9L188.1 143.6L188.6 144.9L189.1 144.3L189.6 142L190.1 144.4L190.6 141.7L191.1 144.7L191.6 142.1L192.1 141.8L192.6 144L193.1 142.2L193.6 143.5L194.1 143.1L194.6 142L195.1 142.2L195.6 144.5L196.1 144.9L196.6 145L197.1 145L197.6 144.8L198.1 141.8L198.6 143L199.1 145L199.6 144.6L200.1 144.9L200.6 142.7L201.1 142L201.6 142.1L202.1 142.5L202.6 141.9L203.1 143.2L203.6 142.4L204.1 142.9L204.6 142.8L205.1 145L205.6 144.9L206.1 144.2L206.6 143.9L207.1 142.3L207.6 144.5L208.1 143.6L208.6 142.1L209.1 144.6L209.6 143.6L210.1 142.9L210.6 142.2L211.1 144L211.6 141.9L212.1 142L212.6 144.6L213.1 142.2L213.6 144.1L214.1 143.1L214.6 143.2L215.1 143.6L215.6 143.9L216.1 142L216.6 144.6L217.1 141.8L217.6 144.2L218.1 143.7L218.6 142.7L219.1 144.9L219.6 144L220.1 142.7L220.6 144.7L221.1 144.4L221.6 141.8L222.1 142L222.6 143.3L223.1 143.7L223.6 144.2L224.1 145L224.6 144.7L225.1 142.7L225.6 143.7L226.1 143.3L226.6 143.8L227.1 142.2L227.6 142.7L228.1 143.4L228.6 144.7L229.1 144.9L229.6 144.9L230.1 143.7L230.6 141.9L231.1 145L231.6 143.7L232.1 143.2L232.6 143.5L233.1 143.2L233.6 144L234.1 144.9L234.6 143.6L235.1 143.5L235.6 144.4L236.1 142.1L236.6 143.4L237.1 142.3L237.6 142.4L238.1 145L238.6 142.9L239.1 143.4L239.6 142.6L240.1 143L240.6 144.3L241.1 143.1L241.6 143.2L242.1 144.3L242.6 143.4L243.1 145L243.6 143.6L244.1 143.1L244.6 142.6L245.1 143.8L245.6 144.8L246.1 141.7L246.6 144.1L247.1 142.2L247.6 142.9L248.1 141.8L248.6 143.9L249.1 144.1L249.6 142.9L250.1 142.6L250.6 143.4L251.1 142.9L251.6 142.9L252.1 142.4L252.6 144L253.1 144.9L253.6 142.3L254.1 143.9L254.6 143L255.1 142.9L255.6 144.7L256.1 144.4L256.6 144.6L257.1 142.1L257.6 143L258.1 142.8L258.6 143.1L259.1 143.6L259.6 142.1L260.1 143.2L260.4 143.1L260.4 150.7L260.1 149.7L259.6 151L259.1 151.6L258.6 150.3L258.1 150.8L257.6 150.6L257.1 152.5L256.6 152L256.1 149.9L255.6 152.7L255.1 151.8L254.6 149.9L254.1 151.9L253.6 150.6L253.1 151.7L252.6 152.7L252.1 151.9L251.6 152.2L251.1 150.5L250.6 152.7L250.1 150.6L249.6 150.3L249.1 151.9L248.6 150.6L248.1 150.1L247.6 150L247.1 152.5L246.6 152.5L246.1 149.9L245.6 150L245.1 153.1L244.6 149.7L244.1 152.2L243.6 149.8L243.1 152.3L242.6 150.1L242.1 152.1L241.6 151.1L241.1 149.9L240.6 149.8L240.1 153L239.6 151.6L239.1 150.3L238.6 151.6L238.1 150L237.6 153L237.1 151.3L236.6 151.1L236.1 151.5L235.6 151L235.1 151.8L234.6 149.9L234.1 152.1L233.6 152.2L233.1 152.3L232.6 150.7L232.1 151.8L231.6 152.7L231.1 150.2L230.6 151.2L230.1 150L229.6 150L229.1 151.6L228.6 152.5L228.1 153.1L227.6 151.1L227.1 151.8L226.6 153L226.1 151.8L225.6 153L225.1 151L224.6 150.4L224.1 152.7L223.6 151.9L223.1 150.5L222.6 153.2L222.1 152.7L221.6 152.6L221.1 151.9L220.6 150.8L220.1 150.9L219.6 150.1L219.1 151.8L218.6 150.2L218.1 150.7L217.6 150.6L217.1 150.9L216.6 151.7L216.1 153L215.6 152.4L215.1 153.2L214.6 150.8L214.1 152.2L213.6 151.2L213.1 152.8L212.6 152.1L212.1 152.1L211.6 152.7L211.1 152.9L210.6 149.9L210.1 153L209.6 153.2L209.1 150.9L208.6 150L208.1 152.2L207.6 151.8L207.1 152.4L206.6 152.5L206.1 150.8L205.6 152.1L205.1 150.7L204.6 152.4L204.1 150.1L203.6 151.7L203.1 152.2L202.6 152.1L202.1 151L201.6 152.8L201.1 152L200.6 150.2L200.1 153L199.6 153.4L199.1 150.7L198.6 151.5L198.1 151.4L197.6 152.2L197.1 152L196.6 152.3L196.1 151.8L195.6 152.7L195.1 150.1L194.6 152L194.1 150.2L193.6 152.8L193.1 152.2L192.6 153.2L192.1 151.1L191.6 152.8L191.1 152.9L190.6 151.2L190.1 151.6L189.6 151.7L189.1 151.2L188.6 151.1L188.1 152.2L187.6 152.4L187.1 153.2L186.6 150.7L186.1 151.5L185.6 151.6L185.1 153.6L184.6 150.6L184.1 152.5L183.6 153.6L183.1 151.7L182.6 150.6L182.1 153.4L181.6 151.1L181.1 152.5L180.6 151.4L180.1 153.8L179.6 150.8L179.1 152.9L178.6 152.2L178.1 152.1L177.6 153.8L177.1 153.6L176.6 151.4L176.1 151.1L175.6 152.9L175.1 153.3L174.6 153.4L174.1 151.8L173.6 153.2L173.1 152.3L172.6 151.8L172.1 153.6L171.6 151.6L171.1 152.6L170.6 151L170.1 153.2L169.6 150.9L169.1 152.5L168.6 153.5L168.1 152.9L167.6 149.7L167.1 148.9L166.6 148.6L166.1 150.1L165.6 148.6L165.1 146.8L164.6 149.1L164.1 146.7L163.6 148.8L163.1 149.3L162.6 149.3L162.1 149L161.6 146.1L161.1 146.5L160.6 147.9L160.1 148.9L159.6 146.7L159.1 147.9L158.6 148.5L158.1 146.1L157.6 147L157.1 145.9L156.6 148.5L156.1 146.8L155.6 146L155.1 148.8L154.6 145.9L154.1 146.6L153.6 147.7L153.1 146.4L152.6 147.3L152.1 149.2L151.6 148.1L151.1 148.4L150.6 148.1L150.1 147.6L149.6 146.9L149.1 148.2L148.6 146.8L148.1 147.8L147.6 147.3L147.1 149.2L146.6 146.6L146.1 149.3L145.6 148L145.1 147.4L144.6 147.8L144.1 148.5L143.6 147.2L143.1 149.2L142.6 149.3L142.1 147.3L141.6 149.2L141.1 149.3L140.6 148.5L140.1 147.6L139.6 149L139.1 146.4L138.6 146.4L138.1 147.8L137.6 148.3L137.1 146.1L136.6 147.7L136.1 148L135.6 148.6L135.1 148.5L134.6 146.7L134.1 147.6L133.6 148.7L133.1 148.4L132.6 146.9L132.1 148.7L131.6 147.7L131.1 146.1L130.6 146.7L130.1 149.6L129.6 148.6L129.1 146.8L128.6 147.2L128.1 149.6L127.6 149.3L127.1 148.8L126.6 148.3L126.1 148.6L125.6 148.4L125.1 147.7L124.6 146.5L124.1 149.3L123.6 147L123.1 148.3L122.6 146.7L122.1 148.2L121.6 148.9L121.1 148.6L120.6 148.4L120.1 149.2L119.6 148.5L119.1 148.3L118.6 149.1L118.1 149.7L117.6 147.9L117.1 149L116.6 148.8L116.1 147.5L115.6 146.5L115.1 148.5L114.6 148.7L114.1 147.1L113.6 147.5L113.1 146.6L112.6 148.4L112.1 147L111.6 146.7L111.1 147.5L110.6 149.3L110.1 148L109.6 148.1L109.1 149.6L108.6 147.7L108.1 149.1L107.6 149.7L107.1 149.5L106.6 146.8L106.1 149.4L105.6 149L105.1 149.9L104.6 148.2L104.1 147.3L103.6 147.5L103.1 147.9L102.6 150L102.1 150.9L101.6 150.3L101.1 150L100.6 148.2L100.1 150.6L99.6 151L99.1 149.8L98.6 151.1L98.1 149.4L97.6 151.2L97.1 148.4L96.6 148.4L96.1 151L95.6 149.6L95.1 150.4L94.6 150.7L94.1 150.6L93.6 151.5L93.1 149.8L92.6 148.3L92.1 150.6L91.6 150L91.1 150.9L90.6 150.8L90.1 148.6L89.6 148.3L89.1 148.6L88.6 149.7L88.1 149.7L87.6 150.6L87.1 150.2L86.6 148.9L86.1 149L85.6 149.9L85.1 148.9L84.6 151L84.1 150.5L83.6 151.5L83.1 149.7L82.6 149.4L82.1 150.2L81.6 148.6L81.1 149.7L80.6 151.1L80.1 149.1L79.6 149.1L79.1 150.6L78.6 149.6L78.1 150.6L77.6 150.2L77.1 151.4L76.6 149.2L76.1 151.1L75.6 150.9L75.1 150.9L74.6 148.2L74.1 150.8L73.6 148.3L73.1 150.1L72.6 149.6L72.1 150.9L71.6 148.3L71.1 148.1L70.6 151.2L70.1 150.8L69.6 150.4L69.1 148.1L68.6 148.1L68.1 149.4L67.6 151.3L67.1 148.5L66.6 148.4L66.1 151.4L65.6 148.9L65.1 149.1L64.6 150.9L64.1 149.1L63.6 151.5L63.1 149L62.6 150L62.1 150.2L61.6 150.4L61.1 150.8L60.6 150L60.1 149.3L59.6 149.4L59.1 150.1L58.6 151.3L58.1 148.1L57.6 150.2L57.1 151.3L56.6 151.3L56.1 150.2L55.6 149.6L55.1 151.3L54.6 150.6L54.1 151.4L53.6 149.1L53.1 150.5L52.6 150.6L52.1 150.6L51.6 151.1L51.1 148.6L50.6 149.7L50.1 150.3L49.6 149.3L49.1 150.8L48.6 150L48.1 149.5L47.6 151.5L47.1 149.2L46.6 149.2L46.1 148.1L45.6 149.9L45.1 151.1L44.6 150L44.1 150.3L43.6 150L43.1 148.5L42.6 150.5L42.1 151.4L41.6 148.6L41.1 149.3L40.6 149.6L40.1 149.5L39.6 151.5L39.1 149.6L38.6 151L38.1 149.3L37.6 149.2L37.1 151.2L36.6 150.9L36.1 149.8L35.6 148.9L35.1 150.3L34.6 148.5L34.1 149.3L33.6 151.5L33.1 151.3L32.6 148.2L32.1 151L31.6 149L31.1 149.7L30.6 148.7L30.1 150.4L29.6 151L29.1 149L28.6 148.6L28.1 150.4L27.6 148.2L27.1 149.6L26.6 150.4L26.1 149.9L25.6 150.4L25.1 149.9L24.6 148.7L24.1 148.6L23.6 150L23.1 149.2L22.6 149.5L22.1 149.6L21.6 150.2L21.1 151L20.6 149.5L20.1 150.5L19.6 149.8L19.1 150.2L18.6 151.2L18.1 149.5L17.6 150.8L17.1 148.7L16.6 151.2L16.1 149.7L15.6 148.1L15.1 149.7L14.6 150.4L14.1 149L13.6 149.9L13.1 150.9L12.6 149.2L12.1 151.4L11.6 151.2Z" fill="#e01010" opacity="0.95"/>
<path d="M11.6 183L103 183L165 165.2L260.4 165.2" fill="none" stroke="#5a64e4" stroke-width="1.3"/>
<rect x="11.4" y="18.4" width="249.7" height="169.6" fill="none" stroke="#262626" stroke-width="1.1"/>
<text x="126" y="22.2" font-family="Liberation Sans" font-size="3.6" fill="#555" textLength="18" lengthAdjust="spacingAndGlyphs">&lt;2(1:4000)&gt;</text>
<text x="238.5" y="22.5" font-family="Liberation Sans" font-size="4" font-weight="bold" fill="#222" textLength="20" lengthAdjust="spacingAndGlyphs">&lt;200ms/div&gt;</text>
<path d="M6.1 49.6L10.6 52L6.1 54.4Z" fill="#f2a81e"/>
<path d="M2.6 52H6.6" stroke="#f2a81e" stroke-width="1.3" opacity="0.45"/>
<path d="M6.1 100.6L10.6 103L6.1 105.4Z" fill="#7c8a66"/>
<path d="M2.6 103H6.6" stroke="#7c8a66" stroke-width="1.3" opacity="0.45"/>
<path d="M6.1 151.6L10.6 154L6.1 156.4Z" fill="#e81818"/>
<path d="M2.6 154H6.6" stroke="#e81818" stroke-width="1.3" opacity="0.45"/>
<path d="M6.1 185.6L10.6 188L6.1 190.4Z" fill="#1820e0"/>
<path d="M2.6 188H6.6" stroke="#1820e0" stroke-width="1.3" opacity="0.45"/>
<text x="258" y="31.8" fill="#dcd020" font-family="Liberation Serif" font-size="13.1" text-anchor="end"><tspan font-style="italic">i</tspan><tspan font-style="italic" font-size="11.5" dy="3.5" dx="0.5">&#945;</tspan><tspan dy="-3.5" dx="1.1">(5 A/div)</tspan></text>
<text x="258" y="85.3" fill="#2ad02a" font-family="Liberation Serif" font-size="13.1" text-anchor="end"><tspan font-style="italic">i</tspan><tspan font-style="italic" font-size="11.5" dy="3.5" dx="0.5">&#946;</tspan><tspan dy="-3.5" dx="1.1">(5 A/div)</tspan></text>
<text x="257.4" y="132.8" fill="#e02020" font-family="Liberation Serif" font-size="13" text-anchor="end"><tspan font-style="italic">T</tspan><tspan font-style="italic" font-size="10" dy="2.5" dx="0">e</tspan><tspan dy="-2.5" dx="1.1">(1.6 Nm/div)</tspan></text>
<text x="257" y="181.8" fill="#2a78d0" font-family="Liberation Serif" font-size="13.1" text-anchor="end"><tspan font-style="italic">n</tspan>(1500 rpm/div)</text>
<path d="M324 18V188M349 18V188M374 18V188M399 18V188M424 18V188M449 18V188M474 18V188M499 18V188M524 18V188" stroke="#e6e6e6" stroke-width="0.6" fill="none"/>
<path d="M299 35H548M299 52H548M299 69H548M299 86H548M299 103H548M299 120H548M299 137H548M299 154H548M299 171H548" stroke="#b4b4b4" stroke-width="0.8" stroke-dasharray="1 2.5" fill="none"/>
<path d="M300 45.4L301.8 60.9M301.8 60.9L303.7 45.6M303.7 45.6L305.5 58.8M305.5 58.8L307.3 46M307.3 46L309.2 60.7M309.2 60.7L311 45.5M311 45.5L312.8 58.9M312.8 58.9L314.7 45.6M314.7 45.6L316.5 60.5M316.5 60.5L318.3 45.7M318.3 45.7L320.2 58.5M320.2 58.5L322 45.4M322 45.4L323.9 60.7M323.9 60.7L325.7 46.5M325.7 46.5L327.5 59.4M327.5 59.4L329.4 44.2M329.4 44.2L331.2 60.5M331.2 60.5L333 45.2M333 45.2L334.9 58.9M334.9 58.9L336.7 44M336.7 44L338.5 60.3M338.5 60.3L340.4 45.8M340.4 45.8L342.2 58.8M342.2 58.8L344 44.7M344 44.7L345.9 60.1M345.9 60.1L347.7 44.7M347.7 44.7L349.5 59.8M349.5 59.8L351.4 46.5M351.4 46.5L353.2 60.8M353.2 60.8L355 46.4M355 46.4L356.9 59.6M356.9 59.6L358.7 44.2M358.7 44.2L360.6 58.6M360.6 58.6L362.4 45.5M362.4 45.5L364.2 60.1M364.2 60.1L366.1 44.6M366.1 44.6L367.9 59.4M367.9 59.4L369.7 44.3M369.7 44.3L371.6 61M371.6 61L373.4 46.4M373.4 46.4L375.2 59.1M375.2 59.1L377.1 45.2M377.1 45.2L378.9 58.8M378.9 58.8L380.7 46M380.7 46L382.6 60.5M382.6 60.5L384.4 45.1M384.4 45.1L386.2 60.5" stroke="#e0de10" stroke-width="0.7" opacity="0.55" fill="none"/>
<path d="M300 45.4L301.3 50.4L300.3 53.1L298.7 50.4ZM301.8 60.9L303.2 55L302.1 51.9L300.4 55ZM303.7 45.6L304.9 50.4L304 53.1L302.4 50.4ZM305.5 58.8L306.5 54.4L305.8 51.9L304.5 54.4ZM307.3 46L308.6 50.6L307.6 53.1L306.1 50.6ZM309.2 60.7L310.5 54.9L309.5 51.9L307.9 54.9ZM311 45.5L312.4 50.4L311.3 53.1L309.6 50.4ZM312.8 58.9L314.1 54.4L313.1 51.9L311.6 54.4ZM314.7 45.6L316.1 50.4L315 53.1L313.2 50.4ZM316.5 60.5L317.4 54.9L316.8 51.9L315.6 54.9ZM318.3 45.7L319.6 50.5L318.6 53.1L317.1 50.5ZM320.2 58.5L321.5 54.3L320.5 51.9L318.9 54.3ZM322 45.4L323.4 50.4L322.3 53.1L320.6 50.4ZM323.9 60.7L324.8 55L324.2 51.9L322.9 55ZM325.7 46.5L327 50.7L326 53.1L324.4 50.7ZM327.5 59.4L328.7 54.6L327.8 51.9L326.4 54.6ZM329.4 44.2L330.4 50L329.7 53.1L328.3 50ZM331.2 60.5L332.2 54.9L331.5 51.9L330.2 54.9ZM333 45.2L333.9 50.3L333.3 53.1L332.2 50.3ZM334.9 58.9L335.8 54.4L335.2 51.9L334 54.4ZM336.7 44L337.9 50L337 53.1L335.5 50ZM338.5 60.3L339.5 54.8L338.8 51.9L337.6 54.8ZM340.4 45.8L341.6 50.5L340.7 53.1L339.1 50.5ZM342.2 58.8L343.7 54.4L342.5 51.9L340.7 54.4ZM344 44.7L345.2 50.2L344.3 53.1L342.9 50.2ZM345.9 60.1L346.9 54.8L346.2 51.9L344.9 54.8ZM347.7 44.7L348.8 50.2L348 53.1L346.7 50.2ZM349.5 59.8L350.8 54.7L349.8 51.9L348.3 54.7ZM351.4 46.5L352.8 50.7L351.7 53.1L350 50.7ZM353.2 60.8L354.2 55L353.5 51.9L352.2 55ZM355 46.4L356.5 50.7L355.3 53.1L353.6 50.7ZM356.9 59.6L357.8 54.6L357.2 51.9L355.9 54.6ZM358.7 44.2L359.5 50L359 53.1L357.9 50ZM360.6 58.6L361.9 54.3L360.9 51.9L359.2 54.3ZM362.4 45.5L363.6 50.4L362.7 53.1L361.1 50.4ZM364.2 60.1L365.4 54.8L364.5 51.9L363.1 54.8ZM366.1 44.6L367.4 50.1L366.4 53.1L364.8 50.1ZM367.9 59.4L369.1 54.6L368.2 51.9L366.7 54.6ZM369.7 44.3L370.6 50L370 53.1L368.9 50ZM371.6 61L372.9 55L371.9 51.9L370.2 55ZM373.4 46.4L374.7 50.7L373.7 53.1L372.1 50.7ZM375.2 59.1L376.3 54.5L375.5 51.9L374.2 54.5ZM377.1 45.2L378 50.3L377.4 53.1L376.1 50.3ZM378.9 58.8L379.7 54.4L379.2 51.9L378.1 54.4ZM380.7 46L382.2 50.6L381 53.1L379.3 50.6ZM382.6 60.5L383.8 54.9L382.9 51.9L381.3 54.9ZM384.4 45.1L385.8 50.3L384.7 53.1L383 50.3ZM386.2 60.5L387.4 54.9L386.5 51.9L385.1 54.9Z" fill="#e0de10" opacity="1.0"/>
<path d="M398.5 39.1L399.2 39.4L399.9 38.4L400.6 40.1L401.3 40.5L402 39.5L402.7 39.6L403.4 40.3L404.1 38.9L404.8 39.4L405.5 40.3L406.2 39.8L406.9 41.3L407.6 41.2L408.3 40.6L409 40.1L409.7 38.8L410.4 40.8L411.1 40.6L411.8 38.6L412.5 38.1L413.2 39.1L413.9 38.6L414.6 38.6L415.3 38.5L416 38.5L416.7 36.9L417.4 39.1L418.1 40.9L418.8 37L419.5 39.7L420.2 39.6L420.9 40.8L421.6 37.7L422.3 39.2L423 36.8L423.7 37.1L424.4 39.3L425.1 37.3L425.8 37.1L426.5 40.1L427.2 39.2L427.9 39.5L428.6 38.8L429.3 40.4L430 39.3L430.7 38.4L431.4 41L432.1 39L432.8 37.6L433.5 37.9L434.2 40.4L434.9 39.9L435.6 38.7L436.3 39.3L437 37.9L437.7 37.5L438.4 36.8L439.1 39.6L439.8 38.7L440.5 40.3L441.2 39.5L441.9 38.3L442.6 39.7L443.3 37.8L444 38.4L444.7 39.8L445.4 38.9L446.1 36.7L446.8 36.9L447.5 40.8L448.2 41L448.9 39.4L449.6 44.2L450 42.2L450 60.3L449.6 58.3L448.9 59.5L448.2 63.9L447.5 64.8L446.8 62.6L446.1 65.5L445.4 64L444.7 65.2L444 62.4L443.3 62.9L442.6 62.4L441.9 63.7L441.2 66.5L440.5 66.3L439.8 65.2L439.1 63.3L438.4 64.5L437.7 65.5L437 66.1L436.3 65.6L435.6 64.1L434.9 62.3L434.2 63.9L433.5 63.2L432.8 65.3L432.1 66.4L431.4 63.5L430.7 66.2L430 64.1L429.3 65.9L428.6 66.3L427.9 62.4L427.2 64.2L426.5 64.9L425.8 63.4L425.1 64.4L424.4 64.3L423.7 66.4L423 65.8L422.3 64.3L421.6 62.5L420.9 65.8L420.2 64.5L419.5 65.6L418.8 66.5L418.1 63.3L417.4 63L416.7 66.8L416 65.3L415.3 65.6L414.6 65.4L413.9 66.2L413.2 65.7L412.5 63.4L411.8 66.4L411.1 63.4L410.4 62.8L409.7 64.2L409 64.8L408.3 65.2L407.6 63L406.9 63.2L406.2 64.7L405.5 66.3L404.8 63.9L404.1 64.5L403.4 65.2L402.7 65L402 61.7L401.3 65.6L400.6 64.7L399.9 62.8L399.2 65.7L398.5 64.1Z" fill="#e0de10" opacity="0.42"/>
<path d="M445.6 45.1V64.4M415.5 42.8V60.5M435.4 40.5V63.3M398.7 42.7V65.8M449.1 44.2V58M429.5 48.5V58.9M413.6 43V64.3M429.2 40.7V59.4M407.4 41.4V58.9M422.5 38.9V57.8M446.4 44.2V62.6M428.2 40V61.2M426.2 49.5V60.8M419.6 38.2V65.3M434 44.9V63.3M418 46.5V66.1M404 45.4V60M415.5 37.7V55.3M401.7 47.6V64M404 38.5V54.6M441.9 42.9V63M416.8 39.2V62.9M411.3 38.1V58.3M427.6 39.1V60.8M425.1 47.9V56.4M449.9 41.2V60.8M424.2 45.4V54.2M427.4 38.1V62.2M434.3 39V64M427.3 37.5V59.3M406.2 49.8V59.1M444.2 41.5V55.7M416.2 43V59.2M399.5 38.8V65.6M430 37.8V59.9M432.9 47.1V53.7M439.1 43.4V65.5M430.3 47.1V55.9M403.5 46.4V58.1M440.9 46.2V55.7M408.4 48.1V62.9M409 40.4V66.5M402.6 44.8V63.2M417.7 38.2V65.8M438.8 44.7V64.6M412.2 46.9V59.2M403.8 41.3V63.1M409.5 48.9V64.3M419.5 46.2V56.1M433 48.3V65.5M414.9 41.8V55M424.4 44.4V63.6M403.5 45.4V60.4M440.7 44.5V61.8M446.6 42.6V54.8M445.5 39.2V63M400.6 41.4V54.2M401.8 41V59.3M427.6 41.8V57.5M405 46.4V64.3M440.5 37.1V59.5M422.8 44.2V63.5M431.8 40.7V65.8M447.3 38.1V62.8M404.3 43.3V60.3M425.8 39.3V58.5M434.1 39V55.1M405.7 39.1V63.6M416.3 46.3V59.4M437.3 38.4V64.6M418.3 49.3V55.5M398.9 42.3V55.3M425.6 36.8V54M421.5 44.7V66.9M415.3 38.3V62.6M417.6 41.1V65.8M409.1 50.4V56.5M426.3 46.1V64.8M447.1 44.5V66.3M412.6 47.9V59.9M449.9 48.7V57.2M426.7 41.9V63.1M422.8 45.9V65.3M425.6 39.4V59.5M436.9 42.1V59.3M421.5 44.4V58.4M414.3 37.7V57M402.6 43.7V64.4M439.2 47.9V64.9M419.1 46.9V59.3M445.2 44.2V64.8M443.4 47.8V56.2M412 44.4V60.9M411.7 47V65.6M439.3 47.7V55.6M434.2 40.3V57.8M448 43.8V59.4M444.9 45.4V57.1M415.7 46.9V56.1M433.1 43.3V58M436.3 38.5V53.2M409.9 49.9V63.5M442.7 42V56.9M444.4 38.8V60.4M431.5 40.6V66.3M403.8 40.1V54.3M445.1 37V59.7M402 50.6V62.6M419.7 45.4V62.3M448.5 45.4V54.2M417.8 42.1V66.8M414.6 48.3V54.2M419.4 49.1V59.7" stroke="#e0de10" stroke-width="0.6" opacity="0.75" fill="none"/>
<path d="M443.6 42.7V47.6M432 46.6V50.5M449.7 47.4V52.9M415.9 50.7V51.3M413.8 45.6V52.4M439 41.7V46.7M428.7 52.9V58.6M439.2 44.1V53.6M427.4 53.1V62.4M417.2 51.1V54.5M409 46.2V49.5M423.7 47.6V55.2M439.5 42.7V51.3M410 52.9V60.5M432.9 44.3V45.7M412.1 48.5V51.3M416.4 53.2V60.6M402.6 53.4V63M401.6 48V49.6M418.9 54.6V64.1M429.7 52.2V62.7M431.7 53V56.6M438.1 51.6V58.2M447.8 52.6V61.4M424.2 44.8V52.9M410.7 47.4V53.1M401.7 51.4V51.6M406.4 50.3V58M436.6 46.3V51.8M414.5 40.7V44.5M401.3 54.7V55.1M444.7 50.9V53.1M417.9 41.6V43.4M431.9 51.4V59.8M421.6 44.1V54.3M432.5 45.3V46.5M445.9 50.5V56.8M419.4 52.4V55.1M424.9 42.4V45.4M420.9 48V51.7M418.6 41.2V47.8" stroke="#ffffff" stroke-width="0.8" opacity="0.4" fill="none"/>
<path d="M386.5 44.8L387.8 64.5M387.8 64.5L389.1 39.8M389.1 39.8L390.3 67M390.3 67L391.5 41.2M391.5 41.2L392.7 64.9M392.7 64.9L393.9 37.7M393.9 37.7L395.1 67.1M395.1 67.1L396.2 37.7M396.2 37.7L397.3 67.3M397.3 67.3L398.4 38.2M398.4 38.2L399.4 66.4M399.4 66.4L400.5 39.1M400.5 39.1L401.5 65.5M401.5 65.5L402.5 39.1M402.5 39.1L403.4 64.1M403.4 64.1L404.4 38.7M404.4 38.7L405.3 65.1M405.3 65.1L406.2 36.5M406.2 36.5L407.1 66.9M407.1 66.9L408 39.7" stroke="#e0de10" stroke-width="0.7" opacity="0.3" fill="none"/>
<path d="M386.5 44.8L387.5 50.2L386.8 53.1L385.5 50.2ZM387.8 64.5L388.4 56.1L388.1 51.9L387.2 56.1ZM389.1 39.8L389.7 48.7L389.4 53L388.5 48.7ZM390.3 67L391.2 56.8L390.6 51.8L389.4 56.8ZM391.5 41.2L392.3 49L391.8 53L390.8 49ZM392.7 64.9L393.3 56.1L393 51.8L392.2 56.1ZM393.9 37.7L394.6 47.9L394.2 52.9L393.3 47.9ZM395.1 67.1L395.9 56.8L395.4 51.7L394.2 56.8ZM396.2 37.7L396.9 47.9L396.5 52.9L395.5 47.9ZM397.3 67.3L397.9 56.8L397.6 51.7L396.7 56.8ZM398.4 38.2L399.1 48L398.7 52.8L397.6 48ZM399.4 66.4L400.2 56.5L399.7 51.6L398.7 56.5ZM400.5 39.1L401.1 48.3L400.8 52.8L399.9 48.3ZM401.5 65.5L402 56.2L401.8 51.6L400.9 56.2ZM402.5 39.1L403.4 48.2L402.8 52.7L401.6 48.2ZM403.4 64.1L404.4 55.7L403.7 51.5L402.5 55.7ZM404.4 38.7L405.3 48.1L404.7 52.7L403.4 48.1ZM405.3 65.1L406.2 56L405.6 51.5L404.5 56ZM406.2 36.5L406.8 47.4L406.5 52.7L405.7 47.4ZM407.1 66.9L408.1 56.5L407.4 51.4L406.2 56.5ZM408 39.7L408.9 48.3L408.3 52.6L407.1 48.3Z" fill="#e0de10" opacity="0.95"/>
<path d="M450 40.8L450.7 41.2L451.4 42.1L452.1 43.6L452.8 43.3L453.5 42.7L454.2 42.1L454.9 42.6L455.6 44.7L456.3 44.8L457 44L457.7 42.8L458.4 43.6L459.1 44.4L459.8 44.4L460.5 42.2L461.2 45L461.9 44.4L462.6 43.8L463.3 44.6L464 42.2L464.7 42.4L465.4 44L466.1 43L466.8 43.9L467.5 44.1L468.2 44.6L468.9 42.6L469.6 43.3L470.3 44.9L471 43.4L471.7 42L472.4 42.2L473.1 43.5L473.8 42.6L474.5 43.2L475.2 43.4L475.9 42.1L476.6 42.4L477.3 44.9L478 43.9L478.7 43.8L479.4 43.3L480.1 44.6L480.8 43.7L481.5 44.7L482.2 42.2L482.9 43.1L483.6 44.9L484.3 43.3L485 44.7L485.7 43.4L486.4 44.6L487.1 44.1L487.8 42.6L488.5 42.2L489.2 42.4L489.9 43.1L490.6 44.7L491.3 43.7L492 43.7L492.7 44.5L493.4 42L494.1 44.4L494.8 42.4L495.5 44.2L496.2 44L496.9 43.1L497.6 44.8L498.3 43L499 43.4L499.7 44.4L500.4 44.6L501.1 44.1L501.8 44.4L502.5 42.6L503.2 43.1L503.9 42.9L504.6 42.8L505.3 43.9L506 43.1L506.7 42.2L507.4 42.4L508.1 44.7L508.8 44.9L509.5 42.6L510.2 44.3L510.9 42.6L511.6 42.2L512.3 43.3L513 42.5L513.7 43.7L514.4 44.8L515.1 43.8L515.8 43.5L516.5 42.9L517.2 43.9L517.9 43L518.6 43.3L519.3 43.4L520 43.6L520.7 44.8L521.4 42.1L522.1 43.3L522.8 43.9L523.5 43L524.2 42.7L524.9 42.8L525.6 44L526.3 43.4L527 44.4L527.7 42.5L528.4 43.2L529.1 43.1L529.8 43.3L530.5 43.7L531.2 43.2L531.9 42.6L532.6 43.5L533.3 44.7L534 42.5L534.7 44.3L535.4 45L536.1 42.7L536.8 42.8L537.5 42.8L538.2 44.3L538.9 43.6L539.6 42.2L540.3 44.8L541 45L541.7 42.9L542.4 44.3L543.1 44.1L543.8 44.7L544.5 43.3L545.2 44.3L545.9 44.9L546.6 44.6L547.3 43.4L547.4 43.5L547.4 59.8L547.3 59.3L546.6 58.6L545.9 60.4L545.2 58.8L544.5 57.5L543.8 59.8L543.1 60.4L542.4 58.6L541.7 57.8L541 57.7L540.3 59.8L539.6 59L538.9 58.5L538.2 58.9L537.5 58.5L536.8 57.6L536.1 58.5L535.4 60.2L534.7 58.6L534 59.4L533.3 58.5L532.6 58.6L531.9 59L531.2 58.8L530.5 60.5L529.8 60.5L529.1 60.4L528.4 58.8L527.7 60.4L527 59.1L526.3 59.3L525.6 58.7L524.9 59.7L524.2 60.4L523.5 58.9L522.8 58.2L522.1 58.9L521.4 60L520.7 58L520 59.7L519.3 59.7L518.6 58L517.9 60.1L517.2 59.7L516.5 59.3L515.8 58.6L515.1 57.9L514.4 59.8L513.7 60.4L513 58.2L512.3 58.7L511.6 58.3L510.9 59.1L510.2 58.8L509.5 58.7L508.8 59.5L508.1 58L507.4 57.8L506.7 60.3L506 57.7L505.3 58.6L504.6 57.9L503.9 58.4L503.2 60.1L502.5 58.1L501.8 59.6L501.1 58.1L500.4 57.6L499.7 59.4L499 60.3L498.3 58.9L497.6 59.8L496.9 59.8L496.2 57.7L495.5 58.2L494.8 59L494.1 58.3L493.4 60.2L492.7 57.9L492 59.7L491.3 57.7L490.6 60.2L489.9 59.7L489.2 57.5L488.5 58.2L487.8 58.2L487.1 57.7L486.4 58L485.7 59L485 60.4L484.3 59.2L483.6 57.8L482.9 57.9L482.2 59.1L481.5 59.4L480.8 59.7L480.1 58.3L479.4 59.8L478.7 58.2L478 59.7L477.3 59.5L476.6 59.1L475.9 59.3L475.2 60.3L474.5 58.4L473.8 57.8L473.1 58L472.4 59.3L471.7 57.6L471 58.8L470.3 59.3L469.6 58.8L468.9 57.6L468.2 58.6L467.5 60.2L466.8 58.7L466.1 58.9L465.4 57.6L464.7 59.5L464 57.8L463.3 58.8L462.6 57.6L461.9 58.5L461.2 59.9L460.5 57.8L459.8 57.9L459.1 59.3L458.4 58L457.7 59.6L457 59.4L456.3 58.8L455.6 58.8L454.9 59.4L454.2 59.7L453.5 59L452.8 58.4L452.1 59.2L451.4 58.7L450.7 60.8L450 61Z" fill="#e0de10" opacity="0.6"/>
<path d="M518.6 50.3V54.5M457 47.3V57M537.7 43.8V56.8M537.7 49.2V60M466.5 43.4V58.2M523.7 45.3V52.5M529.7 45.3V60.2M450.2 42.4V62M507.1 42.8V58.3M541.1 43V56.1M450.6 47.3V57.3M499.5 48.5V54.4M463.9 45.7V53.2M465.2 42.4V57M545.5 49.6V56M460.7 48.8V54.6M466.2 49.4V58.6M503.2 49.8V54.5M468.8 46V56.8M504.4 46.2V53.4M541.9 42.3V60.1M524.6 43.7V60.1M495.8 42.3V58.8M518.4 50V54.2M470.7 49.4V58.2M512.9 47.7V56.4M528.8 48.7V57.1M521.8 44.3V56.2M472.5 42.6V56.7M544 47.1V53.5M481.2 47.3V58.7M468.1 47.2V59M545.7 47.5V55.8M453.4 49.4V58.6M531.9 43.6V58M514.5 45.4V55.9M456.5 42.5V56.8M531 45.8V57.5M509 44.6V53.8M475.1 49.2V58.3M520.6 49.5V52.2M512.9 48.5V53.3M521.7 43.1V55.1M457.7 48.3V52.2M451 45.2V54.5M491.4 43.7V59.7M531 48.5V56.4M492.5 45.4V58.5M455.7 49.7V53.5M503.3 45.5V53.7M527 42.1V59.2M498.1 45.4V58M456.2 45.3V53.3M478.7 42V55.2M463.3 47.9V52.3M526.9 43V58.4M539.8 47.5V58.4M505.4 46.2V56.9M511.2 49.2V56.9M495.7 45.3V54.1M452.7 48.2V60.1M478.9 44.5V57.1M478.2 49.6V59.2M459.3 46.2V59.9M493.1 46.8V58.9M524.6 49.7V57.3M507.9 42.2V56.3M526 49V60.5M540.8 43.7V60M537.5 43.6V59.5M533.5 42.2V54.5M507.1 47.7V54.5M529.2 44.3V54.1M464.2 46.7V56.5M460.5 49.3V58.6M513.1 46V60M495.5 47V56.6M461.7 42.4V59.2M458.6 43.7V56.5M468.1 45V59.2M534.4 42.7V54.3M453.6 45.8V57.9M485.5 44.1V54.7M472.6 47.3V59.6M544.1 44.2V58.3M454.7 44.6V55.2M526.6 43.4V58M538.2 49.4V55.8M532.7 42.7V53M458.4 48.4V59M512.5 49.6V59.2M531.1 45.7V60M485 49.9V59.7M489.9 49.8V55.7M478.2 44.6V55.8M546.1 48.5V55.9M528.5 42.7V52.2M503.9 43.4V55.2M514.5 42.3V57.5M489.9 43V52.9M546.1 45.2V52.3M468.3 49.9V53M537.9 45.7V55.4M543.7 46.5V55.9M540.9 42.4V54M480.5 48.4V54.5M517.5 50.1V60.2M483 43.4V59.9M470.7 48.9V58M507.5 46.6V52.9M481.2 48V57.7M519.5 45.8V59.2M488.6 50.2V53.5M473.9 48.4V53.5M455.8 45.9V60M540.6 45.7V55.4M528.7 42.2V56.9M453.3 47.2V53.6M522.2 42.3V57.3M512.8 43.8V58.1M450.2 49.4V59.5M509 43.9V53.3M513.3 48.7V59.3M500.5 49.7V58.8M499.1 48.7V52.9M524.8 42.8V58.5M535.8 45.6V53.4M470 49.3V54M535.8 49.5V57.2M479.1 47.8V52.7M496.2 42.6V54.9M481 47V59.1M531.3 49.9V54.1M450.2 48.5V57.5M538.1 46.6V57.7M480.9 46.3V58.1M519 46.3V54.9M509.4 49.7V60.3M546.9 42.3V53.6M474 47.3V58M456.7 48V60.3M468.5 49.3V53.3M498.2 42.5V55.2M471.4 48.4V57.3M473.1 48.4V53.4M503.2 45.1V53.8M465.6 45.3V56.4M458.6 46.8V59.4M528.9 46V55.7M526.6 49.3V55.7M540.3 48.6V53.7M470.6 48.3V58.7M500.8 46V52.3M496.4 45.5V58.9M475.1 45.8V56.4M522.9 43.2V55.6M481 46.6V58.9M453.7 42.1V56.7M513.9 43.8V54.9M528 47.5V56.6M528.4 49.2V59.1M483.3 42.2V58.1M468.6 47.4V60M517.1 46.5V57.6M533.7 45.9V57.6M493.4 44.6V58.5M535.7 49.3V58.9M501.6 45V60.3M505.8 47V58.2M505.7 45.5V53.6M492.7 49V58.8M497 48.8V56M516.5 42.4V52.7M457.9 48V59.7M498.9 42.2V56.8" stroke="#e0de10" stroke-width="0.7" opacity="0.75" fill="none"/>
<path d="M539.8 46.7V49.4M504.8 50V54.2M539.5 48.2V51.4M542.9 49.5V51.8M530 49.2V51.2M526.6 44.8V48M458.8 45V50.6M463.9 48.8V54.5M491.4 52.4V58.7M460.9 46.9V51.3M534.4 50.8V53.1M485.1 46V46.2M521.7 50.5V52.7M545.9 49.6V53.4M513 49.3V50.3M468.8 45.6V50.6M503.1 44.4V50.4M514.1 49.5V52.1M490.4 46.5V46.7M501.1 50.5V53.3M543.4 52.1V53.3M457.1 45.7V48.8M542.6 47.5V53M511 50.7V53.9M507.2 46.6V49.7M459.5 47.5V52.7M489.1 44.6V44.8M487 48.2V52M463.2 47.2V48.6M545 52.8V55.7M523.3 50.2V51.6M451.7 48.3V48.4M525.4 45V45.6M517.8 46.1V50.9M480.2 47.6V48.6M527.8 45.6V47.5M469.2 51.2V55.3M501.5 53V57.3M539.5 49.1V53.5M495.5 47.1V47.1M533 46V49M493.9 50.7V52.5M512 48.4V52.1M542.8 48.4V52.4M523.4 45.9V50.7M474.8 52.5V56.1M455 45.1V45.5M521.5 52.1V56" stroke="#ffffff" stroke-width="0.8" opacity="0.3" fill="none"/>
<path d="M300 96.3L301.8 112M301.8 112L303.7 96.3M303.7 96.3L305.5 111.8M305.5 111.8L307.3 97.5M307.3 97.5L309.2 110.5M309.2 110.5L311 96.4M311 96.4L312.8 111.4M312.8 111.4L314.7 98.1M314.7 98.1L316.5 111.8M316.5 111.8L318.3 96.4M318.3 96.4L320.2 111.1M320.2 111.1L322 97.4M322 97.4L323.9 110.2M323.9 110.2L325.7 97.9M325.7 97.9L327.5 110.4M327.5 110.4L329.4 95.9M329.4 95.9L331.2 112M331.2 112L333 96.2M333 96.2L334.9 110.4M334.9 110.4L336.7 97.2M336.7 97.2L338.5 112.2M338.5 112.2L340.4 97.7M340.4 97.7L342.2 112.5M342.2 112.5L344 95.8M344 95.8L345.9 110.8M345.9 110.8L347.7 98.2M347.7 98.2L349.5 111.1M349.5 111.1L351.4 95.9M351.4 95.9L353.2 110.7M353.2 110.7L355 98.1M355 98.1L356.9 112.6M356.9 112.6L358.7 95.7M358.7 95.7L360.6 111.7M360.6 111.7L362.4 95.7M362.4 95.7L364.2 112.2M364.2 112.2L366.1 96.9M366.1 96.9L367.9 111M367.9 111L369.7 96.6M369.7 96.6L371.6 111.5M371.6 111.5L373.4 96M373.4 96L375.2 110.3M375.2 110.3L377.1 96.3M377.1 96.3L378.9 111.8M378.9 111.8L380.7 96.8M380.7 96.8L382.6 111.3M382.6 111.3L384.4 98M384.4 98L386.2 110.8" stroke="#22d822" stroke-width="0.7" opacity="0.55" fill="none"/>
<path d="M300 96.3L300.9 101.8L300.3 104.8L299.1 101.8ZM301.8 112L303.2 106.5L302.1 103.6L300.5 106.5ZM303.7 96.3L305 101.8L304 104.8L302.3 101.8ZM305.5 111.8L306.6 106.5L305.8 103.6L304.4 106.5ZM307.3 97.5L308.2 102.2L307.6 104.8L306.5 102.2ZM309.2 110.5L310.4 106.1L309.5 103.6L307.9 106.1ZM311 96.4L311.9 101.8L311.3 104.8L310.1 101.8ZM312.8 111.4L314.2 106.4L313.1 103.6L311.5 106.4ZM314.7 98.1L315.5 102.4L315 104.8L313.8 102.4ZM316.5 111.8L318 106.5L316.8 103.6L315.1 106.5ZM318.3 96.4L319.7 101.9L318.6 104.8L317 101.9ZM320.2 111.1L321.5 106.3L320.5 103.6L318.9 106.3ZM322 97.4L322.9 102.2L322.3 104.8L321.1 102.2ZM323.9 110.2L325.2 106L324.2 103.6L322.5 106ZM325.7 97.9L327 102.3L326 104.8L324.4 102.3ZM327.5 110.4L328.7 106.1L327.8 103.6L326.4 106.1ZM329.4 95.9L330.4 101.7L329.7 104.8L328.4 101.7ZM331.2 112L332.7 106.5L331.5 103.6L329.7 106.5ZM333 96.2L333.9 101.8L333.3 104.8L332.2 101.8ZM334.9 110.4L336.2 106.1L335.2 103.6L333.5 106.1ZM336.7 97.2L337.8 102.1L337 104.8L335.6 102.1ZM338.5 112.2L339.7 106.6L338.8 103.6L337.4 106.6ZM340.4 97.7L341.7 102.2L340.7 104.8L339 102.2ZM342.2 112.5L343.4 106.7L342.5 103.6L341 106.7ZM344 95.8L345.5 101.7L344.3 104.8L342.6 101.7ZM345.9 110.8L346.7 106.2L346.2 103.6L345 106.2ZM347.7 98.2L348.6 102.4L348 104.8L346.8 102.4ZM349.5 111.1L350.6 106.3L349.8 103.6L348.5 106.3ZM351.4 95.9L352.6 101.7L351.7 104.8L350.1 101.7ZM353.2 110.7L354.1 106.2L353.5 103.6L352.3 106.2ZM355 98.1L356.2 102.4L355.3 104.8L353.9 102.4ZM356.9 112.6L357.8 106.7L357.2 103.6L356 106.7ZM358.7 95.7L360.2 101.7L359 104.8L357.3 101.7ZM360.6 111.7L361.5 106.5L360.9 103.6L359.6 106.5ZM362.4 95.7L363.6 101.7L362.7 104.8L361.2 101.7ZM364.2 112.2L365.3 106.6L364.5 103.6L363.2 106.6ZM366.1 96.9L367 102L366.4 104.8L365.1 102ZM367.9 111L369.1 106.2L368.2 103.6L366.7 106.2ZM369.7 96.6L371.2 101.9L370 104.8L368.3 101.9ZM371.6 111.5L372.8 106.4L371.9 103.6L370.3 106.4ZM373.4 96L374.5 101.7L373.7 104.8L372.3 101.7ZM375.2 110.3L376.7 106L375.5 103.6L373.7 106ZM377.1 96.3L378.5 101.8L377.4 104.8L375.6 101.8ZM378.9 111.8L380.2 106.5L379.2 103.6L377.6 106.5ZM380.7 96.8L382.1 102L381 104.8L379.4 102ZM382.6 111.3L383.4 106.3L382.9 103.6L381.7 106.3ZM384.4 98L385.4 102.3L384.7 104.8L383.4 102.3ZM386.2 110.8L387.5 106.2L386.5 103.6L385 106.2Z" fill="#22d822" opacity="1.0"/>
<path d="M398.5 92.1L399.2 92.5L399.9 92.3L400.6 92.8L401.3 92.7L402 93.4L402.7 93.8L403.4 92.6L404.1 93.2L404.8 93.6L405.5 92.9L406.2 94.4L406.9 92.9L407.6 94L408.3 90.4L409 91.4L409.7 91.4L410.4 91.5L411.1 90L411.8 92.7L412.5 92.9L413.2 93.9L413.9 91.2L414.6 93.1L415.3 93L416 91.9L416.7 90.5L417.4 90L418.1 92.8L418.8 89.6L419.5 92.7L420.2 91.2L420.9 89.3L421.6 90.6L422.3 91.5L423 92.6L423.7 90.8L424.4 92.3L425.1 92.9L425.8 91.6L426.5 89.8L427.2 90.5L427.9 92.5L428.6 91.4L429.3 91.7L430 93.1L430.7 91.3L431.4 93.4L432.1 89.3L432.8 91.9L433.5 90.2L434.2 89.6L434.9 89.8L435.6 92.1L436.3 93.4L437 91.3L437.7 93.8L438.4 89.4L439.1 90L439.8 90.8L440.5 90.6L441.2 91.2L441.9 90.2L442.6 92.8L443.3 90.6L444 89.5L444.7 91.9L445.4 90.1L446.1 89.9L446.8 93L447.5 92.8L448.2 92.8L448.9 92L449.6 93.9L450 94.1L450 111L449.6 109.9L448.9 113.3L448.2 109.8L447.5 113L446.8 113.4L446.1 112.9L445.4 113.2L444.7 114.9L444 112.7L443.3 113.5L442.6 112.8L441.9 113.2L441.2 114L440.5 114.7L439.8 111.6L439.1 115.1L438.4 112.4L437.7 112.1L437 115.7L436.3 114.4L435.6 114.6L434.9 114.8L434.2 114.3L433.5 115.6L432.8 114.4L432.1 112.4L431.4 115.9L430.7 115.9L430 112.6L429.3 113.1L428.6 112.8L427.9 114.3L427.2 113.2L426.5 112.6L425.8 114.1L425.1 114L424.4 112.8L423.7 115.6L423 114.8L422.3 116.4L421.6 112.9L420.9 114.9L420.2 115.8L419.5 112.7L418.8 114.2L418.1 115.9L417.4 113.2L416.7 115.3L416 112L415.3 114.4L414.6 112.8L413.9 114.2L413.2 114L412.5 112.1L411.8 113.4L411.1 112.9L410.4 115.7L409.7 113.5L409 112L408.3 112.1L407.6 113.8L406.9 115.5L406.2 114.3L405.5 112.7L404.8 113.7L404.1 112.1L403.4 113.3L402.7 115.8L402 115.4L401.3 113.4L400.6 112.5L399.9 113.6L399.2 111.9L398.5 113.2Z" fill="#22d822" opacity="0.36"/>
<path d="M431.1 94V108.7M403 97.6V114.9M448.3 93.6V108.3M426.8 99.8V111.2M402.6 96.1V110.2M448.3 100.7V110.4M407.4 100.7V108.7M435.2 95.3V109.3M420.9 93.8V106.6M428.5 100.8V107.1M398.6 101.5V105.5M419 95.1V110.6M447.9 97.5V104.1M435.1 92.4V108.3M435.4 100.2V109.7M443 98.4V105.6M405.4 92.5V113.1M417.9 89.3V112.6M431.6 100.2V104.5M427.9 90V104.9M437.5 98.7V104.7M405.7 92.5V108.6M411.6 91.2V109.1M411.9 99.8V106.6M425.1 99.1V111.6M434.2 91V109.7M416.9 96.2V110M410.5 95.7V105.5M399.7 96.6V115.5M431.8 92.2V107.4M428.5 94.4V113.9M428.4 95.3V106.7M446.1 90.2V114.1M441.3 96.2V104.8M431.1 97.6V113.9M425.6 89.8V105.8M411.8 100V105.7M408.4 100.3V114.5M446.7 95.3V113.4M434.8 96.2V107M430.8 98.5V105M402.1 97.6V110M430.2 99.1V104.1M411.2 92.6V105.2M436 97.5V107.4M449.8 99V108.7M402.7 94.3V109.9M406.3 90.1V113.9M403.6 91.2V104.7M446.5 100.8V112.4M449.8 96.3V110.1M431.8 97.5V111.8M416.9 91.1V107.4M423.3 95.7V105.4M443.3 91.8V114.8M422.5 97.3V112.5M404.5 91.7V113M427.1 98.9V108.4M425 98.8V107.7M409.2 91.1V112.7M399.4 94.9V107.2M424.4 89.6V114.8M404.7 93.9V107.9M434 95.1V114.4M431.3 98.8V112.8M413.3 97.4V106.3M403.1 92V106M432.1 92.8V114.4M439.3 95.7V108.8M427.6 90V114.7M448.2 97.6V109.9M433.8 91.9V114.4M428.7 95.3V105.1M448.5 93.2V113.1M445.9 100.3V114.5M433.5 90.9V109.3M425.8 89.2V105.7M442.1 91.7V108.9M444.9 95.6V111.2M421.4 99.6V109.1M426.3 95.8V115.7M440.3 90.7V114.4M419.5 100.6V104.4M408.4 93.2V111M402.4 96.4V108.8M420.4 97V110.7M437.5 96.3V106M413.8 92.2V106.9M442.7 96.1V105.4M432.3 91.8V113.3M412.9 94V108.3M443.6 96.9V106.2M407.7 101.3V113.6M431.7 90.5V105.8M404.8 100.5V112.3M446.2 96.8V106.7M424.2 93V105.6M441.1 97.4V109.9M429.1 95.5V107.7M434.9 100.2V114.7M430.1 91.8V110.3M412.2 90.2V114.3M420.2 95.7V111.8M446.6 92.6V108.2M422 96.4V113.5M440.7 89.5V106M442.5 91.7V112.3M440.9 98.7V110.4M430 100.2V114.7M442.5 90.5V112.4M438.4 95.4V110.6M408.8 101.5V108.5M417.9 93.4V112.1" stroke="#22d822" stroke-width="0.6" opacity="0.75" fill="none"/>
<path d="M410.9 99.6V107.9M419 96.2V96.3M401.5 103.2V104.4M442.7 102.5V110.9M417.2 96.9V97.8M415.3 101V107.2M433.9 94.3V95.6M408.5 98.4V102.3M399.8 95.2V95.5M402.7 96V101.6M438.5 92.3V97.8M423.6 98.3V103.5M432.4 101.9V109.6M414.5 105.2V112M415.5 92.5V97.7M437.7 100.6V106.5M448.1 103.4V109.4M446 98.5V99.4M415.1 104.4V106.1M409.1 98.7V101.8M423.8 96.4V102.1M422.6 93.2V97.6M419.9 103V104.2M449.5 101.5V107M440.1 100.4V106.3M417.8 96.8V105M431.2 95.3V102.1M408.3 102.2V111M414.3 103.9V106.7M405.3 96.7V102.3M444.4 96.8V100M401.4 95.1V97.6M403.5 102.1V105.2M410.2 100.9V102.5M421.8 104.2V110.4M431.7 99.2V102.1M436.6 95.1V95.9M417.6 104.3V106.2M437.3 103.6V109.4M437.1 101.5V102.8M405.8 93.9V95.7" stroke="#ffffff" stroke-width="0.8" opacity="0.4" fill="none"/>
<path d="M386.5 97.4L387.8 116M387.8 116L389.1 90.6M389.1 90.6L390.3 115.6M390.3 115.6L391.5 89.7M391.5 89.7L392.7 116.9M392.7 116.9L393.9 91.2M393.9 91.2L395.1 116.4M395.1 116.4L396.2 90.8M396.2 90.8L397.3 114.2M397.3 114.2L398.4 89.3M398.4 89.3L399.4 117.3M399.4 117.3L400.5 91.3M400.5 91.3L401.5 117.1M401.5 117.1L402.5 89.4M402.5 89.4L403.4 114.6M403.4 114.6L404.4 90.5M404.4 90.5L405.3 115.3M405.3 115.3L406.2 91.8M406.2 91.8L407.1 114.4M407.1 114.4L408 90.4" stroke="#22d822" stroke-width="0.7" opacity="0.3" fill="none"/>
<path d="M386.5 97.4L387.1 102.1L386.8 104.8L385.9 102.1ZM387.8 116L388.3 107.2L388.1 102.9L387.3 107.2ZM389.1 90.6L389.9 99.6L389.4 104L388.2 99.6ZM390.3 115.6L390.9 107.1L390.6 102.8L389.8 107.1ZM391.5 89.7L392.5 99.3L391.8 104L390.6 99.3ZM392.7 116.9L393.5 107.4L393 102.8L392 107.4ZM393.9 91.2L394.6 99.7L394.2 103.9L393.2 99.7ZM395.1 116.4L395.7 107.2L395.4 102.7L394.4 107.2ZM396.2 90.8L396.9 99.5L396.5 103.9L395.5 99.5ZM397.3 114.2L398.2 106.5L397.6 102.7L396.4 106.5ZM398.4 89.3L399 99.1L398.7 103.8L397.7 99.1ZM399.4 117.3L400.2 107.4L399.7 102.6L398.7 107.4ZM400.5 91.3L401.2 99.6L400.8 103.8L399.7 99.6ZM401.5 117.1L402.1 107.4L401.8 102.6L400.8 107.4ZM402.5 89.4L403.3 99L402.8 103.7L401.6 99ZM403.4 114.6L404.2 106.6L403.7 102.5L402.6 106.6ZM404.4 90.5L405.3 99.3L404.7 103.7L403.5 99.3ZM405.3 115.3L405.9 106.8L405.6 102.5L404.7 106.8ZM406.2 91.8L407 99.7L406.5 103.7L405.4 99.7ZM407.1 114.4L407.8 106.4L407.4 102.4L406.4 106.4ZM408 90.4L408.8 99.2L408.3 103.6L407.2 99.2Z" fill="#22d822" opacity="0.95"/>
<path d="M450 92L450.7 93.3L451.4 93.9L452.1 96L452.8 95.1L453.5 95.7L454.2 97.2L454.9 96L455.6 94.5L456.3 95.4L457 96L457.7 94.7L458.4 96.9L459.1 95.7L459.8 95.5L460.5 95.7L461.2 95.2L461.9 95.6L462.6 96.5L463.3 96.6L464 96.6L464.7 97.1L465.4 95.6L466.1 96.3L466.8 96.8L467.5 96.4L468.2 94.7L468.9 97.2L469.6 96.8L470.3 94.6L471 95.6L471.7 94.7L472.4 97.1L473.1 95.7L473.8 96.1L474.5 95.9L475.2 97.2L475.9 96.9L476.6 95.5L477.3 96L478 97.2L478.7 96.5L479.4 96.6L480.1 97.2L480.8 95.5L481.5 96.5L482.2 95.7L482.9 95.1L483.6 95.9L484.3 96.3L485 97.3L485.7 95.8L486.4 95.2L487.1 97.3L487.8 96.9L488.5 97L489.2 94.7L489.9 96.7L490.6 95.9L491.3 94.9L492 95.2L492.7 97.3L493.4 95.5L494.1 96L494.8 97L495.5 94.9L496.2 96.2L496.9 94.7L497.6 96.3L498.3 96.6L499 96.6L499.7 95.8L500.4 96.3L501.1 97.2L501.8 96.1L502.5 95.7L503.2 97L503.9 94.6L504.6 96L505.3 94.6L506 95L506.7 94.5L507.4 95.4L508.1 95.1L508.8 97.4L509.5 94.4L510.2 97L510.9 95.2L511.6 97.4L512.3 97.1L513 97.1L513.7 95.6L514.4 94.9L515.1 95.5L515.8 94.5L516.5 97L517.2 96.1L517.9 95.1L518.6 95.2L519.3 97.3L520 96.9L520.7 96L521.4 94.6L522.1 96L522.8 94.5L523.5 96.6L524.2 94.6L524.9 95.7L525.6 95.2L526.3 95.5L527 97L527.7 96.2L528.4 96.8L529.1 97.2L529.8 95.1L530.5 96.9L531.2 95.9L531.9 97L532.6 96L533.3 96.9L534 95.7L534.7 97.1L535.4 97.1L536.1 95.3L536.8 97L537.5 96.8L538.2 95.9L538.9 94.7L539.6 95L540.3 96.4L541 95.6L541.7 97.4L542.4 94.7L543.1 95.9L543.8 96.7L544.5 95.3L545.2 94.8L545.9 96.5L546.6 96L547.3 96.5L547.4 96.3L547.4 110.4L547.3 112L546.6 110.4L545.9 110.3L545.2 111.7L544.5 109.9L543.8 109.3L543.1 111.9L542.4 109.3L541.7 111.7L541 111L540.3 109.1L539.6 110.7L538.9 109.4L538.2 111.5L537.5 111.5L536.8 110.7L536.1 111.6L535.4 111.1L534.7 111.5L534 110.8L533.3 110.9L532.6 109.8L531.9 109.7L531.2 109.5L530.5 109.8L529.8 109.6L529.1 111.3L528.4 111.2L527.7 109.4L527 109.8L526.3 111.8L525.6 109.7L524.9 110L524.2 109.2L523.5 111.6L522.8 110.2L522.1 110.7L521.4 110.1L520.7 111.5L520 110.4L519.3 110.8L518.6 110.2L517.9 110.2L517.2 111.3L516.5 111.1L515.8 109.7L515.1 110.7L514.4 109.8L513.7 109.1L513 110.2L512.3 111.7L511.6 111.4L510.9 110.6L510.2 110.8L509.5 111L508.8 111.9L508.1 110.2L507.4 111.8L506.7 111.7L506 110.9L505.3 111L504.6 110.3L503.9 111.7L503.2 110.6L502.5 111.1L501.8 110.2L501.1 110.3L500.4 111.9L499.7 109.6L499 109.8L498.3 110.4L497.6 110L496.9 111.3L496.2 109.8L495.5 109.6L494.8 111L494.1 109.2L493.4 109.4L492.7 110.9L492 111.7L491.3 110.1L490.6 109.4L489.9 109.9L489.2 112L488.5 111.7L487.8 111.9L487.1 111.7L486.4 110.1L485.7 111.2L485 111L484.3 110.7L483.6 111.6L482.9 110.4L482.2 109.8L481.5 110.5L480.8 110.2L480.1 109.1L479.4 110.4L478.7 110.8L478 110.1L477.3 110.7L476.6 111.2L475.9 110.6L475.2 109.9L474.5 110L473.8 109.4L473.1 110.2L472.4 109.3L471.7 111.9L471 111.3L470.3 111.9L469.6 109.2L468.9 111.5L468.2 111.5L467.5 110.3L466.8 109.4L466.1 109.5L465.4 111.2L464.7 109.2L464 110.4L463.3 111.6L462.6 111.7L461.9 110.2L461.2 110.6L460.5 111.4L459.8 111.6L459.1 110.5L458.4 110.7L457.7 110.9L457 109.7L456.3 111.7L455.6 110.9L454.9 109.3L454.2 111.7L453.5 110.1L452.8 111.9L452.1 111.3L451.4 110L450.7 111.4L450 111.9Z" fill="#22d822" opacity="0.6"/>
<path d="M476.2 102.1V107.7M467.1 95.2V110.3M492.4 97.4V108.1M495 97.3V108M527 95.2V109.9M533.6 97.1V110.5M507.1 95.2V107.9M483.4 101.1V110.1M491.9 101.7V106.5M510.5 101.3V110.1M546.9 100.6V109.8M507.8 101.3V106.5M456.7 99.1V106.8M509.8 102.1V107.7M475.7 97.8V105.8M518.9 97V110.3M485.7 95.2V111.7M534.9 96.8V109.6M546.5 97V104.2M502.3 100.6V111.6M480.8 96.7V105.4M529 96V107.8M453.6 100.5V109.4M474.4 96.3V104.8M526.4 95.6V111.6M458 95V110.7M511.6 98.4V111.9M473.7 99V109.5M526.5 96.5V104.4M521 101.3V105M546.5 98.9V105M472.1 97.7V104.3M477.4 100.4V111.4M479.5 94.8V110.8M483.2 96.9V107.7M523.6 100.6V111.5M534.9 97.2V111.3M489 98V111.7M460.3 99.6V109.9M459.1 95.8V107.4M521.8 99.3V111.4M498 99.7V106.3M486.4 100.8V105.3M471.2 96.8V109.8M509.9 95.4V105M512.4 97.3V109.4M456.4 95.1V109.5M503.6 98.8V107.3M532.2 99.3V107.3M545.7 96.9V105.6M532.9 101.2V109.7M463.2 96V111.3M505.5 95.3V109.6M530.5 101.4V108.4M513.1 95.3V104.8M537.1 98.4V109.4M456.4 99.7V109.6M523.5 98.6V109.6M453.1 96.3V108.8M489.1 95.5V106.3M510.1 102.2V110M500.7 95.6V109M487.6 95.4V107.4M467.5 95.1V107.9M528 97.1V109.3M499.5 99.6V107.6M488.8 94.9V104.8M467.2 96.3V107.4M475.5 100.3V106M462.8 98.2V106M463.2 101.1V111.5M468.5 99.3V111.2M502.2 97.1V107.9M530.9 101V107.9M478.9 96V110.4M467.8 101.5V106.9M491.4 101.1V107.2M527 99.6V111.7M502.6 99.1V106.3M492.5 102.1V108.6M480.6 96.7V105.3M451.3 94.3V105M538.9 101.6V109.9M537.7 98.9V110.3M476.6 94.6V106.6M531.4 97.1V110.5M536.9 97.2V105.5M532.9 99.3V106.5M512.9 98.3V110.6M466.9 96.6V111M510.1 101.9V109.5M535.7 100.7V108.5M510.2 98.9V106.8M465.1 100.6V111.2M510.2 99.1V110.3M470.5 95V109.2M463.8 100V107.4M511.4 100.9V110.2M529.7 96.7V106M482.5 101.5V111.5M486 96.4V110.7M456 99.6V106.7M464 102.2V105.7M470.9 97.8V105.1M495.1 100V110.9M492.2 100.2V109.9M529 97V105.1M532 97.6V106.9M461.4 99.1V111.4M454.5 95.7V106.6M466.5 101.5V105.7M454.8 101V109.6M519.9 95.5V110.8M465.8 95.5V110M544.1 99.2V105.2M520.9 100.2V108.2M465.6 96.2V105.7M492 95.5V107.9M526.2 98.2V108.7M504.5 95.7V106.1M511.8 96.8V109.2M502.7 97.6V108.1M459.4 100.2V111.3M493.1 99.8V110.8M482.2 99.4V109.5M502.8 100.1V108.8M456 94.4V111M490.5 101.4V107.3M526.5 101V109.8M499.3 96.3V109.2M496.4 97.3V111.8M544.2 101.4V110.7M543.8 98.7V106.8M479.2 99.4V104.4M451.9 97.9V110.3M500.2 102.1V110.1M508.5 100.1V106.9M506.8 97.4V106.7M457.5 94.9V106.7M456.2 97.7V106.1M491.6 100.5V104.3M510.4 97V111.4M464.5 100.6V111.9M480.2 95.8V109.6M537.7 101.2V106.4M521.6 99.2V109.5M457.2 96.6V110.5M523.1 99.3V108.6M510.6 100.7V110.6M450.9 94.2V106.7M490.9 101.4V104.9M509.5 100.1V111.3M474.9 96.6V108.2M545.4 101V110.2M511 98.4V106.3M492.2 96.4V107.8M533.3 97V107.8M545.1 96.9V109.4M519.1 101.3V105.6M488.3 99.1V110.9M478.7 97V108.1M528.1 97.9V109.5M466.3 96V108.9M537.7 100.7V109.2M533.5 101.9V107.5M488.8 95.3V111.9M535.2 100.3V106.7M522 99.1V107M452.4 101.9V111.7M518.9 94.9V111.6M544.2 98.5V108.3M512.8 101.9V106M506.4 97V105.6M506.9 95.1V109.7M460.9 98.9V108.1" stroke="#22d822" stroke-width="0.7" opacity="0.75" fill="none"/>
<path d="M515.2 99.7V100.7M482.2 101.1V105M532.4 103.2V105.5M512.2 104.3V107.2M515.5 98.4V100.5M539.9 99.5V103M530.2 101.1V104.3M485.6 101V106.2M452.6 100.3V104.4M459.1 101V105.4M450.6 98V100.2M463.3 99V103.7M544.1 98.8V103.1M513.1 104.3V108.5M509.7 98.1V103.5M543.3 99.1V100.4M529.5 101.8V102.6M507.1 102.9V104.5M514.9 96.7V102.7M496.1 100.9V102.9M522.4 96.4V97.8M469 98.3V98.5M489.3 101.6V105.8M456.5 101.2V103.8M543.8 104.3V110.1M520.5 100.9V102.9M527.8 98.4V102.8M452 99.5V100.9M475.9 99.4V102.2M526.4 97.1V100.2M535 100.8V105.8M541.6 101.1V106.4M479 98.1V101.5M496.1 99.2V105.1M515.5 99.7V101.8M467.9 102.4V104.6M476.5 104.7V108.8M481.8 102.5V106.6M490.3 100V101.7M463.9 103.1V106M489.2 103V104.4M517.2 102.2V107.1M489.8 102.9V106.8M507.1 98V103.6M517.2 103.8V105.3M506.4 100.2V101.5M540 101.5V105.2M479.1 102.7V106.9" stroke="#ffffff" stroke-width="0.8" opacity="0.3" fill="none"/>
<path d="M299.6 145.8L300.1 145.6L300.6 145.9L301.1 146.8L301.6 145.8L302.1 146.7L302.6 146L303.1 146.2L303.6 146.6L304.1 145.5L304.6 146.9L305.1 146.5L305.6 145.8L306.1 145.7L306.6 146.2L307.1 146.8L307.6 147L308.1 145.5L308.6 146L309.1 147L309.6 145.9L310.1 146.7L310.6 146.4L311.1 146.6L311.6 146.5L312.1 145.6L312.6 147.1L313.1 146.7L313.6 146.9L314.1 146.6L314.6 146.9L315.1 146.3L315.6 145.6L316.1 145.9L316.6 145.9L317.1 147.1L317.6 145.8L318.1 145.5L318.6 146.9L319.1 146.8L319.6 146.4L320.1 146L320.6 145.7L321.1 146.3L321.6 146.7L322.1 146.8L322.6 145.5L323.1 146.3L323.6 145.4L324.1 147L324.6 146.7L325.1 145.5L325.6 147L326.1 145.7L326.6 146.5L327.1 146L327.6 145.5L328.1 146.5L328.6 146.7L329.1 145.7L329.6 147L330.1 146.2L330.6 145.4L331.1 145.7L331.6 145.4L332.1 147L332.6 146L333.1 145.7L333.6 145.4L334.1 146.4L334.6 145.7L335.1 146L335.6 146.2L336.1 145.8L336.6 146.5L337.1 146.3L337.6 146L338.1 147L338.6 146.2L339.1 146.5L339.6 145.6L340.1 146.1L340.6 147L341.1 147.1L341.6 145.8L342.1 147L342.6 146L343.1 146.6L343.6 146.2L344.1 146.8L344.6 146.4L345.1 145.5L345.6 146.9L346.1 145.8L346.6 146.7L347.1 146.5L347.6 146.1L348.1 145.5L348.6 147.1L349.1 145.7L349.6 146.4L350.1 146.5L350.6 146.7L351.1 146.5L351.6 146.7L352.1 146.4L352.6 145.6L353.1 145.8L353.6 146L354.1 146.5L354.6 146.5L355.1 146L355.6 145.5L356.1 146.4L356.6 145.8L357.1 146.8L357.6 146.7L358.1 145.9L358.6 146.9L359.1 146.5L359.6 146.7L360.1 146L360.6 145.9L361.1 147L361.6 145.9L362.1 146.5L362.6 146.1L363.1 146.6L363.6 146.6L364.1 147L364.6 145.5L365.1 146.5L365.6 146.5L366.1 146.1L366.6 146.7L367.1 145.8L367.6 147L368.1 146.2L368.6 145.9L369.1 146.4L369.6 145.8L370.1 146.2L370.6 146.7L371.1 146.9L371.6 146.6L372.1 146.6L372.6 146.7L373.1 146.4L373.6 145.7L374.1 146.9L374.6 145.9L375.1 146.1L375.6 145.6L376.1 145.7L376.6 146.2L377.1 146L377.6 146.6L378.1 145.4L378.6 146.4L379.1 145.8L379.6 145.8L380.1 146L380.6 146.7L381.1 145.7L381.6 146.4L382.1 145.8L382.6 145.8L383.1 146L383.6 146.8L384.1 145.7L384.6 146L385.1 147.1L385.6 146L386.1 146.3L386.6 145.1L387.1 141.5L387.6 139.2L388.1 138.8L388.6 139.8L389.1 139L389.6 139.9L390.1 138.9L390.6 138.6L391.1 138.8L391.6 139.1L392.1 138.4L392.6 138.6L393.1 139.7L393.6 138.5L394.1 139.8L394.6 139.1L395.1 139.1L395.6 138.5L396.1 139.2L396.6 138.6L397.1 138.4L397.6 139.8L398.1 139.6L398.6 139.5L399.1 138.4L399.6 139.1L400.1 138.6L400.6 139.6L401.1 139.1L401.6 138.1L402.1 138.9L402.6 138.5L403.1 138.4L403.6 139.1L404.1 138.4L404.6 138.7L405.1 138.4L405.6 139.3L406.1 139.2L406.6 138.1L407.1 138L407.6 139L408.1 139.2L408.6 138.2L409.1 138.3L409.6 138.3L410.1 138.3L410.6 139L411.1 138.4L411.6 139.1L412.1 139.1L412.6 138L413.1 138.4L413.6 139.1L414.1 139L414.6 139.2L415.1 138L415.6 138.8L416.1 137.5L416.6 138.6L417.1 138.8L417.6 138.5L418.1 138.6L418.6 137.6L419.1 137.7L419.6 137.9L420.1 137.7L420.6 138.6L421.1 138.8L421.6 138.1L422.1 138.9L422.6 138.9L423.1 138.1L423.6 137.4L424.1 138.7L424.6 138.1L425.1 137.3L425.6 137.9L426.1 137.7L426.6 137.9L427.1 137.5L427.6 138.7L428.1 138.2L428.6 138.7L429.1 138L429.6 138.1L430.1 138.5L430.6 138L431.1 138.6L431.6 137L432.1 137.2L432.6 138.3L433.1 138L433.6 137.4L434.1 137.4L434.6 138.2L435.1 137.4L435.6 137.3L436.1 138.3L436.6 136.8L437.1 137.7L437.6 137.9L438.1 136.9L438.6 136.8L439.1 138L439.6 137.3L440.1 137.1L440.6 137.4L441.1 137.6L441.6 138L442.1 138.1L442.6 137.8L443.1 136.6L443.6 137.7L444.1 136.9L444.6 137.3L445.1 138.1L445.6 136.6L446.1 136.8L446.6 136.9L447.1 136.9L447.6 137.3L448.1 136.7L448.6 137.7L449.1 138.1L449.6 136.7L450.1 137.6L450.6 137.6L451.1 140.9L451.6 142.7L452.1 144.4L452.6 144.7L453.1 143.9L453.6 145L454.1 145L454.6 144.7L455.1 144.7L455.6 145L456.1 144.4L456.6 144.5L457.1 145.1L457.6 144.5L458.1 144.2L458.6 145.4L459.1 144.4L459.6 145.3L460.1 145.4L460.6 146.1L461.1 145.1L461.6 144.9L462.1 146.4L462.6 145.5L463.1 145.3L463.6 146.4L464.1 146.4L464.6 145.6L465.1 146.4L465.6 145.8L466.1 145.5L466.6 145.4L467.1 146.9L467.6 146.4L468.1 146.8L468.6 146.4L469.1 147L469.6 146.6L470.1 146.5L470.6 147.2L471.1 146L471.6 147.2L472.1 147.3L472.6 146.1L473.1 146.8L473.6 147.1L474.1 146.7L474.6 146.9L475.1 146.3L475.6 147.4L476.1 147.3L476.6 146.6L477.1 147L477.6 146.8L478.1 145.9L478.6 146.3L479.1 147.3L479.6 147.2L480.1 147.1L480.6 146.8L481.1 147L481.6 146.8L482.1 146.8L482.6 146L483.1 146.1L483.6 147.3L484.1 145.8L484.6 147.1L485.1 146.1L485.6 147.3L486.1 146L486.6 145.9L487.1 146.1L487.6 146L488.1 146.6L488.6 147.2L489.1 146.4L489.6 146.1L490.1 146.6L490.6 147L491.1 146.2L491.6 146L492.1 146L492.6 146.1L493.1 147.1L493.6 146.4L494.1 146.7L494.6 146L495.1 147.3L495.6 146.4L496.1 147.2L496.6 146.7L497.1 147.2L497.6 146.5L498.1 146.9L498.6 146.2L499.1 146L499.6 147.3L500.1 147.2L500.6 145.7L501.1 145.9L501.6 146.3L502.1 146.4L502.6 147.4L503.1 146.4L503.6 146.2L504.1 146.9L504.6 145.9L505.1 146.7L505.6 147L506.1 145.7L506.6 146.1L507.1 146.1L507.6 147.3L508.1 146.3L508.6 147.3L509.1 146.5L509.6 146.2L510.1 147L510.6 146L511.1 146.9L511.6 147.3L512.1 146.5L512.6 146L513.1 146.4L513.6 145.7L514.1 146.6L514.6 146.8L515.1 146.7L515.6 146.8L516.1 146.7L516.6 146.1L517.1 145.9L517.6 147.3L518.1 145.8L518.6 145.9L519.1 146.8L519.6 146.1L520.1 146.4L520.6 145.9L521.1 146L521.6 145.7L522.1 145.7L522.6 146L523.1 146.6L523.6 145.8L524.1 146L524.6 146.1L525.1 145.8L525.6 147L526.1 147.3L526.6 146.9L527.1 146.3L527.6 146.5L528.1 147.3L528.6 145.9L529.1 146L529.6 145.8L530.1 147.2L530.6 146.2L531.1 145.9L531.6 146.1L532.1 146.1L532.6 145.7L533.1 146.4L533.6 145.7L534.1 146.8L534.6 145.9L535.1 146.7L535.6 147L536.1 147.1L536.6 146.1L537.1 145.9L537.6 146.7L538.1 145.8L538.6 147.2L539.1 146.2L539.6 146L540.1 146.1L540.6 147.2L541.1 145.7L541.6 147.2L542.1 146.9L542.6 145.7L543.1 146.9L543.6 147L544.1 145.9L544.6 146.4L545.1 146.3L545.6 147.1L546.1 147.1L546.6 146.7L547.1 145.8L547.4 147.1L547.4 150.1L547.1 150L546.6 150L546.1 150.9L545.6 151.5L545.1 151.6L544.6 150.4L544.1 151L543.6 151.3L543.1 151.5L542.6 151.5L542.1 151.1L541.6 150.7L541.1 150.6L540.6 150.2L540.1 151L539.6 151.4L539.1 150.7L538.6 151.1L538.1 150.3L537.6 150.1L537.1 150.9L536.6 151.4L536.1 151L535.6 151.2L535.1 151.1L534.6 151L534.1 150.2L533.6 151L533.1 150.7L532.6 151.2L532.1 151.5L531.6 151.3L531.1 150L530.6 150.1L530.1 151L529.6 150.5L529.1 151.6L528.6 150.4L528.1 150.8L527.6 150.5L527.1 150.8L526.6 150.6L526.1 150.6L525.6 150.6L525.1 151.4L524.6 151.1L524.1 151.2L523.6 151.2L523.1 151.6L522.6 151L522.1 151L521.6 150.7L521.1 151.3L520.6 150.2L520.1 151.3L519.6 150.9L519.1 151.6L518.6 150.2L518.1 150.2L517.6 150.3L517.1 151.8L516.6 150.2L516.1 150.9L515.6 151.6L515.1 151L514.6 150.9L514.1 151.4L513.6 150.7L513.1 150.4L512.6 151.3L512.1 150.3L511.6 150.4L511.1 151.1L510.6 150.8L510.1 151.7L509.6 150.3L509.1 151.5L508.6 150.7L508.1 150.4L507.6 150.5L507.1 151.6L506.6 151.6L506.1 150.4L505.6 151.2L505.1 151.5L504.6 150.7L504.1 151L503.6 150.9L503.1 151.4L502.6 151.8L502.1 150.2L501.6 150.3L501.1 151.8L500.6 151.1L500.1 150.3L499.6 151.6L499.1 151.7L498.6 151.5L498.1 151.1L497.6 150.8L497.1 150.6L496.6 150.9L496.1 151.3L495.6 150.9L495.1 151.4L494.6 150.4L494.1 150.3L493.6 151.1L493.1 151.4L492.6 151.9L492.1 151.1L491.6 150.8L491.1 151L490.6 151.3L490.1 150.7L489.6 152L489.1 151L488.6 150.5L488.1 151.2L487.6 151.4L487.1 151.4L486.6 150.6L486.1 150.7L485.6 150.5L485.1 151.6L484.6 150.7L484.1 151.4L483.6 150.8L483.1 151.8L482.6 151.6L482.1 151.6L481.6 152L481.1 151.7L480.6 151.9L480.1 151.4L479.6 151.4L479.1 151.1L478.6 151.8L478.1 150.8L477.6 150.5L477.1 151.8L476.6 151.2L476.1 151.1L475.6 150.6L475.1 151.6L474.6 150.8L474.1 150.9L473.6 151.1L473.1 151.2L472.6 151L472.1 150.5L471.6 151L471.1 151.7L470.6 151.8L470.1 151.6L469.6 151.6L469.1 150.4L468.6 151.5L468.1 151.7L467.6 151.5L467.1 150.2L466.6 150.6L466.1 151.6L465.6 150.8L465.1 151.2L464.6 151.1L464.1 150.1L463.6 150.7L463.1 149.7L462.6 150.1L462.1 149.4L461.6 149.7L461.1 149.6L460.6 149.4L460.1 150.5L459.6 149.1L459.1 149.1L458.6 150.4L458.1 149.3L457.6 150.3L457.1 149.1L456.6 149.7L456.1 149.5L455.6 148.9L455.1 148.4L454.6 149.3L454.1 149.3L453.6 149.3L453.1 149.6L452.6 148.7L452.1 148.4L451.6 147.5L451.1 144.5L450.6 142.4L450.1 142.5L449.6 141.7L449.1 141.5L448.6 142.3L448.1 142L447.6 142.9L447.1 142.5L446.6 141.4L446.1 141.7L445.6 141.9L445.1 142.8L444.6 141.5L444.1 141.4L443.6 141.7L443.1 141.3L442.6 141.9L442.1 142.7L441.6 141.7L441.1 142.2L440.6 142.4L440.1 142.9L439.6 142.2L439.1 143L438.6 141.8L438.1 141.7L437.6 143.1L437.1 142.1L436.6 141.6L436.1 141.7L435.6 142L435.1 142.3L434.6 141.9L434.1 142L433.6 142.9L433.1 142.3L432.6 143.1L432.1 143.1L431.6 141.8L431.1 142.2L430.6 142.2L430.1 141.9L429.6 143.1L429.1 142.9L428.6 142.2L428.1 143.6L427.6 143.1L427.1 142.4L426.6 142.5L426.1 142.1L425.6 143.7L425.1 142.5L424.6 143.7L424.1 142.3L423.6 143.3L423.1 143.5L422.6 143L422.1 143.8L421.6 142.9L421.1 143.4L420.6 143L420.1 142.5L419.6 143.6L419.1 143.1L418.6 142.8L418.1 143.3L417.6 143L417.1 143.5L416.6 142.9L416.1 143.4L415.6 142.8L415.1 143.2L414.6 142.9L414.1 143.4L413.6 143.6L413.1 143.6L412.6 143.6L412.1 144.2L411.6 143.8L411.1 144.1L410.6 144.2L410.1 144.2L409.6 144L409.1 143L408.6 142.8L408.1 143.4L407.6 143.8L407.1 144.3L406.6 143.9L406.1 143.6L405.6 144.4L405.1 144.2L404.6 143L404.1 143.6L403.6 144.4L403.1 144.5L402.6 144L402.1 144.4L401.6 144.2L401.1 144.3L400.6 143.8L400.1 143.9L399.6 144.6L399.1 144.4L398.6 144.2L398.1 144.4L397.6 144.5L397.1 144.7L396.6 144.2L396.1 144.6L395.6 143.9L395.1 143.5L394.6 144.9L394.1 145L393.6 144.8L393.1 143.6L392.6 143.9L392.1 145.2L391.6 145.1L391.1 144.8L390.6 145.2L390.1 143.9L389.6 143.9L389.1 144.9L388.6 144.7L388.1 145.4L387.6 144.7L387.1 146.1L386.6 148.8L386.1 149.8L385.6 149.7L385.1 150.9L384.6 149.8L384.1 149.6L383.6 149.7L383.1 150.9L382.6 150.4L382.1 150.3L381.6 151L381.1 150.1L380.6 149.4L380.1 149.8L379.6 150.1L379.1 149.5L378.6 150.6L378.1 149.7L377.6 149.3L377.1 149.4L376.6 150.3L376.1 149.4L375.6 150.9L375.1 150L374.6 149.3L374.1 150.2L373.6 150.2L373.1 149.6L372.6 149.4L372.1 150.7L371.6 149.7L371.1 149.6L370.6 151L370.1 149.9L369.6 150.9L369.1 149.9L368.6 149.5L368.1 150.3L367.6 150.5L367.1 150.7L366.6 150.2L366.1 149.6L365.6 149.3L365.1 150.5L364.6 150.4L364.1 150.7L363.6 150.7L363.1 150.1L362.6 150.1L362.1 150.1L361.6 150.4L361.1 149.9L360.6 150.5L360.1 150.8L359.6 150.6L359.1 150.7L358.6 150.8L358.1 149.6L357.6 150.7L357.1 150.6L356.6 150L356.1 150.8L355.6 150.7L355.1 149.4L354.6 149.6L354.1 150.2L353.6 150.3L353.1 149.7L352.6 150.7L352.1 150L351.6 150.8L351.1 150.6L350.6 149.8L350.1 150.9L349.6 149.8L349.1 150.7L348.6 149.5L348.1 149.4L347.6 150.3L347.1 150.1L346.6 149.7L346.1 150.5L345.6 150.7L345.1 150.3L344.6 150L344.1 149.5L343.6 150.3L343.1 150.4L342.6 150.2L342.1 150.6L341.6 150.8L341.1 149.9L340.6 150.9L340.1 150.1L339.6 149.3L339.1 150.5L338.6 150L338.1 150.4L337.6 149.5L337.1 149.6L336.6 150.9L336.1 150.2L335.6 150.7L335.1 150.4L334.6 150.7L334.1 150.4L333.6 149.6L333.1 149.7L332.6 149.7L332.1 149.7L331.6 149.7L331.1 149.3L330.6 149.8L330.1 150.5L329.6 149.6L329.1 151L328.6 150.3L328.1 149.9L327.6 149.9L327.1 150.8L326.6 149.8L326.1 151L325.6 150.1L325.1 150.5L324.6 150.2L324.1 149.5L323.6 149.9L323.1 149.9L322.6 150.2L322.1 149.8L321.6 149.3L321.1 150.5L320.6 150.1L320.1 150.7L319.6 149.4L319.1 150.9L318.6 149.8L318.1 149.5L317.6 149.4L317.1 150L316.6 150.6L316.1 149.8L315.6 150.1L315.1 150.9L314.6 151L314.1 150.5L313.6 150.9L313.1 149.9L312.6 151L312.1 150.2L311.6 150.5L311.1 150.9L310.6 150.6L310.1 150.2L309.6 150.7L309.1 150.2L308.6 150L308.1 150L307.6 150.1L307.1 150L306.6 149.9L306.1 150.8L305.6 150L305.1 150.5L304.6 150L304.1 150.7L303.6 149.9L303.1 150.1L302.6 151L302.1 149.7L301.6 149.6L301.1 149.7L300.6 149.5L300.1 149.7L299.6 150.8Z" fill="#e01010" opacity="0.95"/>
<path d="M299.6 183.2L386.5 183.2L450 165.7L547.4 165.7" fill="none" stroke="#5a64e4" stroke-width="1.3"/>
<rect x="299.4" y="18.4" width="248.7" height="169.6" fill="none" stroke="#262626" stroke-width="1.1"/>
<text x="414" y="22.2" font-family="Liberation Sans" font-size="3.6" fill="#555" textLength="18" lengthAdjust="spacingAndGlyphs">&lt;2(1:4000)&gt;</text>
<text x="525.5" y="22.5" font-family="Liberation Sans" font-size="4" font-weight="bold" fill="#222" textLength="20" lengthAdjust="spacingAndGlyphs">&lt;200ms/div&gt;</text>
<path d="M294.1 49.6L298.6 52L294.1 54.4Z" fill="#f2a81e"/>
<path d="M290.6 52H294.6" stroke="#f2a81e" stroke-width="1.3" opacity="0.45"/>
<path d="M294.1 100.6L298.6 103L294.1 105.4Z" fill="#7c8a66"/>
<path d="M290.6 103H294.6" stroke="#7c8a66" stroke-width="1.3" opacity="0.45"/>
<path d="M294.1 151.6L298.6 154L294.1 156.4Z" fill="#e81818"/>
<path d="M290.6 154H294.6" stroke="#e81818" stroke-width="1.3" opacity="0.45"/>
<path d="M294.1 185.6L298.6 188L294.1 190.4Z" fill="#1820e0"/>
<path d="M290.6 188H294.6" stroke="#1820e0" stroke-width="1.3" opacity="0.45"/>
<text x="545" y="31.8" fill="#dcd020" font-family="Liberation Serif" font-size="13.1" text-anchor="end"><tspan font-style="italic">i</tspan><tspan font-style="italic" font-size="11.5" dy="3.5" dx="0.5">&#945;</tspan><tspan dy="-3.5" dx="1.1">(5 A/div)</tspan></text>
<text x="545" y="85.3" fill="#2ad02a" font-family="Liberation Serif" font-size="13.1" text-anchor="end"><tspan font-style="italic">i</tspan><tspan font-style="italic" font-size="11.5" dy="3.5" dx="0.5">&#946;</tspan><tspan dy="-3.5" dx="1.1">(5 A/div)</tspan></text>
<text x="544.4" y="132.8" fill="#e02020" font-family="Liberation Serif" font-size="13" text-anchor="end"><tspan font-style="italic">T</tspan><tspan font-style="italic" font-size="10" dy="2.5" dx="0">e</tspan><tspan dy="-2.5" dx="1.1">(1.6 Nm/div)</tspan></text>
<text x="544" y="181.8" fill="#2a78d0" font-family="Liberation Serif" font-size="13.1" text-anchor="end"><tspan font-style="italic">n</tspan>(1500 rpm/div)</text>
<path d="M36 262V432M61 262V432M86 262V432M111 262V432M136 262V432M161 262V432M186 262V432M211 262V432M236 262V432" stroke="#e6e6e6" stroke-width="0.6" fill="none"/>
<path d="M11 279H261M11 296H261M11 313H261M11 330H261M11 347H261M11 364H261M11 381H261M11 398H261M11 415H261" stroke="#b4b4b4" stroke-width="0.8" stroke-dasharray="1 2.5" fill="none"/>
<path d="M11.6 285.3L12.3 286.9L13 285.7L13.7 285.5L14.4 284.6L15.1 286.4L15.8 284.7L16.5 287.6L17.2 284.7L17.9 287.5L18.6 284.1L19.3 285.5L20 285.9L20.7 287.5L21.4 287.1L22.1 284.9L22.8 286.2L23.5 287.1L24.2 284.4L24.9 287L25.6 286.9L26.3 287.6L27 284.6L27.7 286.7L28.4 285.5L29.1 287.5L29.8 286.8L30.5 283.8L31.2 287.5L31.9 287L32.6 284.8L33.3 287.6L34 284.4L34.7 287.5L35.4 286.1L36.1 283.8L36.8 286.9L37.5 285L38.2 284L38.9 284.4L39.6 284L40.3 285.5L41 284.8L41.7 287.4L42.4 285.2L43.1 284.1L43.8 283.7L44.5 286.5L45.2 284.1L45.9 287.5L46.6 286.7L47.3 286L48 286L48.7 284.8L49.4 287.3L50.1 284.9L50.8 284.3L51.5 286L52.2 287.2L52.9 287.6L53.6 285.2L54.3 284.7L55 285.6L55.7 284.1L56.4 286.1L57.1 284.6L57.8 284.9L58.5 286.9L59.2 287.5L59.9 286.2L60.6 284.8L61.3 287.5L62 286.1L62.7 285.9L63.4 285.3L64.1 287L64.8 285L65.5 284.3L66.2 285.1L66.9 285L67.6 284.4L68.3 284.2L69 286.5L69.7 284.7L70.4 287.2L71.1 286.3L71.8 287.1L72.5 286.4L73.2 283.9L73.9 286.9L74.6 283.8L75.3 285.4L76 287.1L76.7 285.9L77.4 287.3L78.1 285.7L78.8 286.8L79.5 285.3L80.2 285.1L80.9 286.3L81.6 285.6L82.3 285.1L83 286.9L83.7 285.3L84.4 287.5L85.1 285.8L85.8 285.4L86.5 287.5L87.2 285.8L87.9 285.3L88.6 286.1L89.3 285.7L90 283.8L90.7 284.6L91.4 284.9L92.1 286.2L92.8 285.5L93.5 285.4L94.2 285.1L94.9 286.8L95.6 285.1L96.3 284.5L97 284.5L97.7 286.9L98.4 285L99.1 285L99.8 284.2L100.5 283.9L101.2 287.5L101.9 283.8L102.6 284.7L103.3 284.6L104 284.8L104.7 287.1L105.4 283.9L106.1 287.5L106.8 285.6L107.5 285.6L108.2 285.8L108.9 287.2L109.6 284.4L110.3 285.6L111 284.5L111 307.1L110.3 306.8L109.6 304.5L108.9 304.7L108.2 304L107.5 304.1L106.8 303.8L106.1 307.2L105.4 305.4L104.7 303.8L104 303.8L103.3 306.4L102.6 303.7L101.9 304.8L101.2 303.6L100.5 306.3L99.8 306.8L99.1 304.1L98.4 305L97.7 307.3L97 303.3L96.3 304.5L95.6 305L94.9 306.2L94.2 307L93.5 306.4L92.8 304.6L92.1 303.7L91.4 307.1L90.7 306L90 304.7L89.3 306.1L88.6 307.2L87.9 304L87.2 304.9L86.5 306.7L85.8 306.5L85.1 303.8L84.4 304.8L83.7 305.5L83 306.9L82.3 305L81.6 304.4L80.9 306.1L80.2 306.7L79.5 304.9L78.8 305.3L78.1 306.1L77.4 306.4L76.7 306.4L76 306.5L75.3 305.3L74.6 304.8L73.9 305.8L73.2 304.7L72.5 304.7L71.8 303.5L71.1 306.6L70.4 306.8L69.7 306.1L69 307.1L68.3 303.7L67.6 304.3L66.9 306.6L66.2 304.4L65.5 307.1L64.8 306.6L64.1 305.2L63.4 305.7L62.7 304.3L62 304.1L61.3 304L60.6 306.8L59.9 307.1L59.2 305.8L58.5 306.5L57.8 303.6L57.1 305.3L56.4 304.6L55.7 305.2L55 306.7L54.3 306.2L53.6 304.7L52.9 303.8L52.2 306.5L51.5 303.8L50.8 306L50.1 303.3L49.4 304.2L48.7 303.8L48 306.9L47.3 306.1L46.6 303.4L45.9 305.5L45.2 304.1L44.5 306.9L43.8 306.6L43.1 305.2L42.4 304.3L41.7 305.8L41 304L40.3 304.8L39.6 306.5L38.9 306.6L38.2 305.6L37.5 306.6L36.8 303.4L36.1 307.1L35.4 303.4L34.7 303.3L34 305.4L33.3 307.2L32.6 304.9L31.9 305.1L31.2 303.9L30.5 304.1L29.8 303.6L29.1 306L28.4 304L27.7 304.7L27 306.6L26.3 304.9L25.6 305L24.9 306L24.2 306.1L23.5 304.1L22.8 307.2L22.1 304.5L21.4 305.4L20.7 306.9L20 306.7L19.3 304.9L18.6 305.1L17.9 304.6L17.2 305.8L16.5 307.2L15.8 304.7L15.1 303.6L14.4 303.3L13.7 305L13 303.8L12.3 306.4L11.6 304.5Z" fill="#e0de10" opacity="0.85"/>
<path d="M100.2 290.5V300.8M79.9 285.7V299M103.2 293.2V303.4M29.1 289.8V305.5M96.1 294.3V302.9M72.7 293.8V301.5M75.2 293.1V301.9M98.4 284.1V300.2M94.3 288.8V304.5M99.4 291V307M15.7 292.8V307M77.8 288.3V297.9M26.7 292.8V301.7M72.4 287.5V304.1M53.2 284.1V302.8M52.5 288.5V297.5M96.9 285.6V300.7M57.6 291.7V303.7M44.9 289.3V301.7M20.8 289.5V299.2M74.6 290.9V303M56.6 288.2V298.1M62 293.5V305.3M108.1 283.7V306.2M37.7 289.2V301.6M84.3 291.9V300.7M20.9 292.9V304.5M104.8 290.6V306.4M52.4 293.6V301.5M57.3 293.9V297.6M35.4 286.5V298.7M52.4 292.2V307.1M31.5 287.4V299.6M106.1 285.8V307.2M88.1 288.5V300.3M59 286.3V302.5M33.1 291.4V305.1M20.4 293.3V297.5M17.5 291.5V302.6M23 293V307M27.3 285.4V305.8M19.4 290.5V301.9M72.3 286.1V297.3M29.3 290.1V305.6M12.2 290.3V306.9M53.4 290.5V301.7M94.1 292.2V302.1M75.3 291.6V303M21.9 292.5V299.1M98.9 284.8V300.5M50.6 292.5V299.3M64.5 283.8V299.8M75.2 294.1V300.7M54 294V296.9M76.8 284.7V300.9M105.1 291V306.9M79.3 284.3V298.8M103.4 284.5V300.5M88.3 289.9V298.8M76.5 288.3V300.8M31 294.3V303.7M43.4 285.7V297.1M66.2 285.6V300.3M91.5 289.9V298.4M14.1 293.2V297.5M20.2 284.5V301.7M64.4 288.7V303.5M63.5 290.8V300.7M55.3 289.3V298.6M47.1 292V307.2M27.8 293.6V300M98.1 288.4V301.4M75 289.4V298.8M74.6 287.5V302.3M38.2 293V298.2M24.6 294.1V298.8M107.1 289.1V298.8M20.3 285.3V298.4M50.6 292.4V303.3M15 285.6V304.4M104.1 286.1V299.2M68.3 292.1V298.5M77.9 284.1V306.4M85.9 285V300.3M72.4 287.3V303.4M73.5 286.5V300.2M89.5 284.3V305.8M21.3 285.5V306.9M17.4 292V298.8M107.5 293.7V303.2M12.8 289.9V297.1M21.9 283.8V306.9M48.1 285.3V305.2M74.3 289V303.6M36.3 284.1V300.3M37.2 285.5V300.2M90.5 288.1V298.8M59.1 294.3V299.9M40.7 283.8V305.5M101.4 286.5V299.3M91.8 284.1V298.9M30.6 284.1V302M108.2 293.6V302.5M97.7 286V304.4M62.4 284.3V297.7M66.1 283.8V301.8M36.2 285V306.1M63.1 293.9V306.4M24.5 294.2V305.8M16 286.4V304.1M24.6 293.4V305.3M86.1 288V307.2M53.7 293.5V298.2M72.9 292.7V303.4M109.1 292.6V307.2M77.3 283.8V301.4M42.1 286.9V305.3M15.7 291.1V298.5M60.2 285V301.5M100 284.9V300M71.5 286.7V306.7M31 288.9V300.2M94.9 284.7V303.2M102.7 291V298.1M78.2 288.7V303.7M28.7 288.2V305.2M44.2 285V298.5M46.4 289.4V300.3M36.7 283.8V302.2M19.5 292.2V297.1M34.2 284.7V303.5M98.4 290.9V302M74.6 290.6V302.7M45.1 288.2V304.7M49.9 294V298.4M66.1 284.8V299.5M73.5 284.3V301.3M78.3 291.4V298M36.9 288.8V304.7M27.4 293.5V302.2M46.9 283.9V302.2M94.1 286V304.5M95.8 289V305.6M28.3 287.5V306.6M59.1 290.2V302.6M26.7 289.9V297.9M89.3 284.1V304.8M81.7 289.1V303.2M23.2 293.9V304.8M86.6 294.1V300.2M37.4 290.5V300.2M37.8 290.6V301.5M64.1 289.4V297.7M14.4 289.8V297.4M72.4 285.5V298.5M27.1 293.3V302.7M21.2 289.5V296.7M42 289.9V306.7M64.5 287.3V298.5M18.8 289.5V305.3M108.1 284.3V298.1M14 291.9V306.3M74.7 291.9V302.2M80.7 286.2V297.9M66.8 289.9V302.3M92.5 287.8V304.8M31.3 286.1V297.5M67.1 293.8V299.3M109 287.9V297.4M12.6 291.1V301M87.6 292V299.8M63.8 288.9V305M58.8 287.3V302.1M74.8 284.5V301.5M93.2 286.7V304.5M21.5 292.7V306.9M44.6 291.8V300.1M42.4 287.3V302M21.1 288V301.7M34.4 292.3V305.4M73.9 287.1V297.3M80.1 291.5V301.9M65.7 284.4V306.2M30.3 289V299.6M68.1 291V304.5M53.4 290.6V300.1M100.7 292.3V302.2M88.7 287.3V307M14.5 294.2V306.8M29 288.7V306.2M110.7 286.7V298.4M77.2 291.3V306.2M101.7 294.2V299.7M51 287.1V303M102.4 292.1V305.1M47 287.6V304.8M60 288.7V306.1M109.8 291.3V301.9" stroke="#e0de10" stroke-width="0.7" opacity="0.8" fill="none"/>
<path d="M86.4 297.3V304.5M25.7 288.1V288.5M101.5 293V297.7M21.6 286.1V288.1M60.2 286.2V293M71.4 295.3V296.2M73.8 292.7V297.3M67.6 289.6V294.2M17.6 294.1V296.7M19.2 287.4V294.3M18.9 296.4V302.1M76.5 288.2V288.6M107 290.1V293.3M68.6 289.6V290.7M98.2 291.4V292.6M53.7 287.2V292.7M58.3 288.3V290.7M75.5 297V301.6M22.8 288.3V290.1M78.4 293.6V298.9M54.5 291.8V293.8M58.1 286.9V288.1M16.3 287.3V289.8M69.1 287.2V294M21.4 286.1V291.1M21.1 293.9V300.9M94.2 295.2V299.4M22.5 292.5V293M75.7 291.3V293.9M53 289.1V295.2M34.1 295.6V298.9M44.9 289.9V297.6M19.6 293.4V300M39.3 288.3V294.5M65.2 289.8V296.8M30.7 292.6V295.7M70.1 295.9V299.8M99.2 286.8V289M73.5 291.3V297.7M30.6 295V300.3M77 287.5V290.6M16.5 291.9V299.3M93 290.3V297.6M47.9 288.7V293.7M46.3 289.6V296.9M53 294.1V298.7M36 287.6V291.1M63.4 296.3V302.8M37.1 294V294.9" stroke="#ffffff" stroke-width="0.8" opacity="0.35" fill="none"/>
<path d="M111 275.7L111.7 274.2L112.4 274.2L113.1 274L113.8 273L114.5 272.4L115.2 273.7L115.9 274.1L116.6 275L117.3 273.5L118 275.7L118.7 272.7L119.4 274.6L120.1 272.4L120.8 273.1L121.5 272.7L122.2 275.7L122.9 274.7L123.6 274.2L124.3 275.3L125 275.6L125.7 273.6L126.4 275.3L127.1 273.3L127.8 274.8L128.5 275.2L129.2 273.6L129.9 274.6L130.6 274.9L131.3 272.6L132 275L132.7 273L133.4 273.3L134.1 273.1L134.8 273.3L135.5 275.6L136.2 273.8L136.9 275.3L137.6 272.8L138.3 273.2L139 272.3L139.7 274L140.4 275.6L141.1 274.1L141.8 274.8L142.5 272.9L143.2 272.5L143.9 273.1L144.6 275.6L145.3 274.7L146 275.6L146.7 275L147.4 273.2L148.1 273L148.8 274.4L149.5 272.8L150.2 274L150.9 274.2L151.6 273.2L152.3 275.7L153 272.5L153.7 275.5L154.4 272.4L155.1 275.7L155.8 273.7L156.5 272.8L157.2 274.5L157.9 274.8L158.6 273.7L159.3 274L160 274.6L160.7 273.3L161.4 273.4L162.1 274.7L162.8 273.9L163.5 275.2L164.2 273.9L164.9 274.8L165.6 274.2L166.3 273.1L167 273.6L167.7 274.3L168.4 274L169.1 274.8L169.8 274.7L170.5 274.7L171.2 273.2L171.9 275.3L172.6 275.5L173.3 273.6L174 275.5L174.7 274L175.4 273.3L176.1 272.5L176.8 274.7L177.5 274.7L178.2 274.6L178.9 273.8L179.6 272.6L180.3 272.3L181 274.5L181.7 274.6L182.4 275.6L183.1 275.1L183.8 274.2L184.5 275.7L185.2 272.3L185.9 275.6L186.6 274.1L187.3 273.9L188 274.5L188.7 273.5L189.4 274.1L190.1 275.4L190.8 274.7L191.5 275.5L192.2 274L192.9 272.9L193.6 274L194.3 274.9L195 273.4L195.7 274.5L196.4 274.7L197.1 273.6L197.8 272.3L198.5 274.8L199.2 273.4L199.9 275.8L200.6 272.3L201.3 274.8L202 274.4L202.7 275.4L203.4 275.3L204.1 275.4L204.8 274.8L205.5 274.6L206.2 274.9L206.9 274.9L207.6 274L208.3 273.6L209 272.9L209.7 273.7L210.4 274.1L211.1 275.5L211.8 273.1L212.5 275.4L213.2 275L213.9 273.5L214.6 274.7L215.3 275.7L216 275.4L216.7 275L217.4 273.5L218.1 273.6L218.8 273.7L219.5 273.3L220.2 273.9L220.9 275.2L221.6 274.9L222.3 273.3L223 274.6L223.7 274.3L224.4 272.6L225.1 273.1L225.8 273.2L226.5 272.6L227.2 274.7L227.9 274.5L228.6 273.6L229.3 275.6L230 273.7L230.7 273L231.4 273.8L232.1 273.8L232.8 272.9L233.5 273.5L234.2 274.8L234.9 274.5L235.6 272.6L236.3 274.6L237 274.4L237.7 272.6L238.4 273.3L239.1 274.8L239.8 275.1L240.5 275L241.2 273.5L241.9 275.4L242.6 274.2L243.3 274.6L244 273.3L244.7 273.4L245.4 272.8L246.1 272.8L246.8 274.8L247.5 272.6L248.2 274.6L248.9 273.8L249.6 273.4L250.3 273.9L251 275.3L251.7 274.4L252.4 273.8L253.1 274.3L253.8 274.3L254.5 272.4L255.2 273.1L255.9 275.4L256.6 275.1L257.3 274.7L258 275.7L258.7 274.7L259.4 274.6L260.1 275.3L260.4 272.9L260.4 319.7L260.1 319.6L259.4 318.6L258.7 318.2L258 318.2L257.3 319.8L256.6 319.4L255.9 318.2L255.2 319.8L254.5 318.2L253.8 318.6L253.1 319.8L252.4 320.3L251.7 320L251 316.9L250.3 318.5L249.6 317.5L248.9 318.5L248.2 318.3L247.5 318.2L246.8 319.9L246.1 316.9L245.4 318.4L244.7 317.1L244 318.2L243.3 319.5L242.6 319.8L241.9 317.6L241.2 318.5L240.5 318.2L239.8 316.9L239.1 319.8L238.4 319.9L237.7 318.4L237 319.9L236.3 317.4L235.6 319.8L234.9 320.2L234.2 317.7L233.5 318.1L232.8 317.8L232.1 319.8L231.4 317.8L230.7 319.8L230 317.3L229.3 317.2L228.6 318.8L227.9 317.5L227.2 319.7L226.5 317.5L225.8 319.1L225.1 319.2L224.4 318.5L223.7 318.7L223 318.9L222.3 318.4L221.6 320L220.9 316.9L220.2 319.5L219.5 319L218.8 317.1L218.1 320L217.4 317.9L216.7 317L216 320.3L215.3 317.5L214.6 320L213.9 318.5L213.2 319.2L212.5 320.1L211.8 318.9L211.1 317.3L210.4 317.3L209.7 319.9L209 318.8L208.3 317.8L207.6 318.4L206.9 320.1L206.2 319.6L205.5 318.7L204.8 319.4L204.1 318L203.4 317.2L202.7 317.4L202 319.2L201.3 320.2L200.6 317.9L199.9 318.9L199.2 317L198.5 317.1L197.8 318.7L197.1 320L196.4 319.4L195.7 318.8L195 317L194.3 318.1L193.6 319.5L192.9 317.5L192.2 317.9L191.5 319.8L190.8 318.5L190.1 319.1L189.4 318.2L188.7 319.4L188 317.6L187.3 320L186.6 317.1L185.9 318.2L185.2 318.8L184.5 317.4L183.8 319.1L183.1 317.2L182.4 319.4L181.7 317.5L181 318.2L180.3 318.5L179.6 317L178.9 316.9L178.2 317.8L177.5 320L176.8 318.4L176.1 319.2L175.4 317.1L174.7 317.5L174 318.1L173.3 317.8L172.6 316.9L171.9 316.9L171.2 317.4L170.5 318.1L169.8 319L169.1 319.1L168.4 319.8L167.7 320.1L167 319.6L166.3 318.6L165.6 316.9L164.9 319.4L164.2 317L163.5 317.5L162.8 318.5L162.1 319.3L161.4 319.3L160.7 316.9L160 319.2L159.3 319.5L158.6 317.9L157.9 319.1L157.2 317.6L156.5 318.8L155.8 319.3L155.1 318.7L154.4 318.1L153.7 317.9L153 317.3L152.3 319.6L151.6 318.9L150.9 320.2L150.2 318.7L149.5 317.8L148.8 319.1L148.1 319L147.4 317.1L146.7 318.3L146 319.9L145.3 318.9L144.6 317.9L143.9 318.6L143.2 317.4L142.5 319.8L141.8 317.3L141.1 318.5L140.4 317.1L139.7 319.9L139 316.9L138.3 317.1L137.6 318.6L136.9 317.2L136.2 318.3L135.5 318.3L134.8 317.7L134.1 317.1L133.4 319.8L132.7 317.2L132 319.7L131.3 318L130.6 319L129.9 320L129.2 318.2L128.5 317.1L127.8 317.7L127.1 319.3L126.4 318.4L125.7 318.5L125 317.7L124.3 318.2L123.6 318.3L122.9 318.7L122.2 318.1L121.5 317L120.8 318.9L120.1 319.6L119.4 319.1L118.7 318.9L118 318L117.3 318.7L116.6 317.5L115.9 317.8L115.2 319.1L114.5 320.1L113.8 320L113.1 318L112.4 319.7L111.7 317.6L111 318.8Z" fill="#e0de10" opacity="0.6"/>
<path d="M220.9 290.7V306.6M255.4 275.2V305.3M238.1 279.1V319.7M141.1 283.8V320M257.4 291.2V314.3M235 283.3V313.4M179.1 279.2V310.2M201.1 282.3V319.5M137 293.6V308.4M179.1 275.9V316.5M247.9 286V308.8M123.2 282.5V313M163.3 272.7V308.5M122.7 281.1V307.5M185.5 282.5V318.7M213.7 273.3V312.9M142.5 273.2V319M189.5 276.8V310.2M198.7 286.8V313.9M127.6 275.5V312.1M148.1 285.3V318.5M242.6 276.9V315.1M116.9 290.2V319.5M180.9 276.5V310M214.6 288.7V312.8M191.1 274.3V302.5M165.5 285.4V318.3M231.4 293.4V299.2M145.9 274.1V308.6M144.8 274.1V318.4M236.9 293.8V301M113.6 287.6V309.9M127.6 275.7V311.5M190.2 291.9V310.4M119.9 281V315.9M112 292.3V316.3M142.3 281.8V304.2M162.4 292.7V303.1M140.2 283.2V307.4M133 288.1V304.5M248.8 279.8V314.7M243.4 276.7V309.6M164.8 273.7V309.8M190.3 289.2V309M257.8 283.7V304M119.9 276.5V303.8M213.4 272.5V319.1M187.1 292.7V318.4M223.4 291.5V309.8M179.5 273.9V306.6M236.2 277.4V304.5M115.4 293.4V318.1M130.8 282V310.7M210.2 278.9V308.3M159.5 292.2V303.2M208.7 275.9V317.5M224.4 289.2V317.8M155.4 287.1V309.7M217.6 289.4V311.9M229.9 291.9V308.4M173 282V305.6M255.9 278.5V310.6M227.1 277.8V315.4M207.3 288.5V318.8M247.9 291.7V311.5M227 278.8V305.8M232.8 272.5V303.5M175.6 290.1V317.1M186.5 282.4V312.7M178.1 273.8V301.5M208.2 285.5V311.7M216 287.8V299.7M166.5 285V303.5M176.7 283.9V304.6M245.1 285.3V301.1M131.8 291.8V316.1M212.9 289.3V309.5M134.4 289.6V312.8M177 284.6V300.5M231.4 285.6V310.6M181.9 276V299.3M139 275.6V317.4M133 290.6V314.3M115.3 286.9V298.9M117.4 283.7V303.2M193.2 290.7V318M251.2 277.6V316.7M152.4 273.9V302M172.2 272.8V315.7M158.6 292V309.2M190.5 287.9V307.8M137.7 291.2V304.9M132.6 274.2V310.4M254 283.7V311.3M176.8 273.2V310.5M258.4 276.6V318.5M219.2 290.8V318.8M187.2 272.5V305.1M224.5 282.8V313.3M224.9 281.9V308.6M229.5 287.5V312.2M115.8 289.9V306M150.8 290.8V319.1M185.8 284.7V319.7M229.9 286.5V304.1M254.3 293.7V308.1M163.6 284.8V311M129.8 282.2V309.3M235.2 282.5V318.2M175.5 272.5V310.9M128.5 274.7V299.1M143.9 288.4V299.7M166.1 278.5V316.3M164.1 291.8V301.2M257.4 284.9V301.4M180.3 285.8V313.9M157.8 286.4V314.1M167.5 278.6V313.4M144.3 285.2V303.8M154.6 282.7V308M226.3 286.3V313.8M241.3 274.1V304.4M233.8 291.9V307M162.3 289.1V315.2M200.4 286.9V316.4M183 286.2V309.6M112.5 293.2V314.8M237.3 282V313.4M119.8 289.4V320M251.1 290.5V303M213.9 272.4V305.8M241.3 281.2V302.9M215.8 289.3V319.1M159.3 273.1V300.3M152.8 291V299.8M245.6 289.3V309.8M250.3 293.4V303.9M117.2 293.5V313.9M145.2 289.8V310.8M247.9 276.3V299.5M216.5 283.3V315M131.1 289.8V303.1M183.5 288.5V307M116.9 274.6V308.3M180.2 272.5V303.7M164.9 274.4V310.4M195.7 278.3V304.1M189.8 292.9V307.6M127.7 286.8V300.4M164.9 276.3V300.1M127.7 273.5V313.3M238.1 279.4V300M129.4 287.4V319.1M205.9 282.4V298.7M197.2 286.5V315.1M157.2 289.8V319.7M200 285.8V304.4M247.7 276.5V319.7M173.8 282.3V303.9M215.3 284.4V319.3M163.3 283.1V305.4M173.5 277.3V313.9M119.7 287.5V302.7M175.1 284.4V319.6M175.6 280.1V308.1M226 274.9V314.8M151.4 280.2V317.8M242.9 278.5V299.1M241.8 279.9V313.8M112.6 285.7V314.7M163.7 284.4V305.2M163.1 282.3V301.1M165.9 277V310.3M227.2 286.4V314.5M188.7 273.9V315.6M197.9 285V299.5M238.1 275.2V308.1M144.6 279.7V303.7M187.9 276.3V305.8M199.1 273.6V304M126.2 278.2V302.6M170.6 291.4V314.8M179.4 274.5V317.2M137.9 274V318.7M232.5 282.3V300.4M250 284.8V315.3M122.3 273.9V302.3M152.8 288.6V314.5M196.2 276.1V314.7M208.6 276.9V320.3M203.5 292.4V313.6M259.7 292V300.8M116.3 291.7V305.7M247.8 274.7V311.3M175.2 290.5V299.3M173 276V300.7M129.2 276.8V311.8M238.4 278.3V315.3M195.5 281.2V301.1M132.7 292.5V301.4M186.5 280.5V304.5M135.4 292.4V307.3M227.4 288.1V315.4M225.5 287.4V304.1M192.4 283.9V299.9M111.6 287.2V300.4M123.3 292.2V315.1M173.7 291.7V312.9M115.2 282.8V309.7M203.6 287.6V320.1M258.6 273.3V311.7M175.1 274.3V311.2M160.3 274.5V312.7M205.2 287.1V305.3M248.9 279.9V317M168.1 284.5V308.6M250.6 283.9V310.6M239.2 284.6V315.5M117.6 286.5V312.4M189.9 284.6V303.4M252.5 278.7V319.3M189.8 281.7V308.3M248.5 285V310.3M114.6 276.9V312.6" stroke="#e0de10" stroke-width="0.7" opacity="0.55" fill="none"/>
<path d="M239.3 296.3V307.5M234.9 290.5V298.8M159.7 280.8V296.6M180.3 280.8V289.1M242.2 293.7V310.3M229.2 288.3V304.7M179.6 295.8V307.7M251.7 292V295.9M219.4 283.3V297.9M204.4 279.5V295.8M158.6 288.1V291.7M198.1 283.8V295.3M227.2 278.2V290.2M185.6 284.8V294.9M197.6 278.1V290.8M125.8 293.6V304.7M189.1 285.7V287.3M132.6 282V282.5M257 282.3V296.4M217.3 283.9V291.7M117.6 295.5V306.5M133.9 285.4V302.1M220.5 280.3V292.5M204.8 298.8V301.2M200.9 297.5V313.8M132.1 294.2V300.3M137.2 297V306.6M238.8 288.8V298.5M167.7 294V309.2M140.6 280.4V284.6M124.3 294.1V302.3M166.9 277.8V292.7M144.1 291.6V301.9M182.7 290.9V300.6M133.7 284.2V288.3M225.3 281.8V291.9M231.4 282.9V296.4M158.2 296.6V307.7M211 284.5V287.4M254.3 288.8V289.5M119.1 278.5V285.4M231.7 293.2V301.9M128.7 290.1V294.1M152.5 299.1V305.9M164.8 292V295.1M220.5 277.9V293.2M259.8 295.7V305.9M125.9 300.5V306.4M216.7 288.7V289.7M227.2 284.7V299.9M150.4 278V288.4M170.6 279.6V293.2M118.1 293.5V300.8M228.2 298V310.7M234.9 297V306.7M118.9 299.5V312.9M257.8 291.8V308.6M175.1 292.2V307.3M224.9 277.1V293.6M170.9 277.5V286.7M166.8 288.3V292.7M218.7 285.9V295M191.5 284.6V291.6M159.7 281.6V291.8M257.3 283.3V292.8M180.8 279.2V286.9M236.6 281.4V282.3M120.2 284.4V295.5M142.9 279.8V288M201.9 299.7V308.5M120.2 277.8V284.6M226.1 279.9V286.4M225.8 278.8V292.7M255.9 288.9V291" stroke="#ffffff" stroke-width="0.8" opacity="0.3" fill="none"/>
<path d="M117 273.8L125 273.8L121 286.7ZM157 273.8L179 273.8L168 298.7ZM211 273.8L227 273.8L219 296.3ZM238 273.8L248 273.8L243 291.5ZM122 318.8L136 318.8L129 301.1ZM191 318.8L211 318.8L201 296.3ZM224 318.8L238 318.8L231 298.7Z" fill="#ffffff" opacity="0.62" filter="url(#sb)"/>
<path d="M11.6 337L12.3 340.8L13 337.7L13.7 340.9L14.4 340.7L15.1 337.9L15.8 339L16.5 338.5L17.2 338.5L17.9 340.1L18.6 340.2L19.3 337.9L20 339.1L20.7 339.6L21.4 339.3L22.1 337.4L22.8 338.5L23.5 338.9L24.2 340.6L24.9 340.2L25.6 339.6L26.3 338L27 340.7L27.7 337.8L28.4 338.3L29.1 337.5L29.8 339.3L30.5 340.1L31.2 339.7L31.9 340.2L32.6 339.7L33.3 339.5L34 337.9L34.7 340.7L35.4 340.9L36.1 339.8L36.8 340.9L37.5 340.4L38.2 340.4L38.9 339.9L39.6 340.1L40.3 339.7L41 337.4L41.7 340.2L42.4 338.3L43.1 339.5L43.8 340.5L44.5 338.9L45.2 338L45.9 339.1L46.6 340.4L47.3 340.3L48 340.9L48.7 340.5L49.4 340.1L50.1 338.8L50.8 337.6L51.5 340.6L52.2 337.1L52.9 340.7L53.6 339.5L54.3 337.8L55 337.6L55.7 339.8L56.4 337.2L57.1 338.6L57.8 337.3L58.5 337.4L59.2 337.9L59.9 339.5L60.6 337L61.3 340.3L62 339.4L62.7 337.9L63.4 339.8L64.1 337.2L64.8 337.9L65.5 338.9L66.2 340.3L66.9 339.6L67.6 337.1L68.3 340.7L69 337.5L69.7 337.6L70.4 339.2L71.1 337.2L71.8 338.5L72.5 337.7L73.2 338.7L73.9 338.3L74.6 338.6L75.3 338.3L76 338.8L76.7 339.5L77.4 338.6L78.1 339L78.8 338.1L79.5 338.5L80.2 337.2L80.9 338.7L81.6 338.9L82.3 337.5L83 338.2L83.7 339.1L84.4 338.8L85.1 339.4L85.8 337.9L86.5 340.2L87.2 337.5L87.9 340.6L88.6 338.3L89.3 338L90 338.2L90.7 340.7L91.4 339.7L92.1 340.7L92.8 340.9L93.5 338.8L94.2 340.1L94.9 337.1L95.6 340.2L96.3 337.9L97 338.2L97.7 339.6L98.4 338.9L99.1 339.1L99.8 338.2L100.5 338.5L101.2 340.6L101.9 337L102.6 337L103.3 339.5L104 337.2L104.7 337.9L105.4 338L106.1 337L106.8 338.5L107.5 340.8L108.2 340.3L108.9 337.1L109.6 340.9L110.3 340.5L111 340.3L111 355.4L110.3 356.1L109.6 355.1L108.9 357.2L108.2 354.7L107.5 357.3L106.8 356.4L106.1 356.8L105.4 357L104.7 358.1L104 354.4L103.3 357.2L102.6 356.5L101.9 356L101.2 355.4L100.5 357.2L99.8 355.9L99.1 356.4L98.4 357.6L97.7 356.7L97 355.3L96.3 356.9L95.6 357.4L94.9 354.6L94.2 354.5L93.5 355.9L92.8 358L92.1 357.9L91.4 354.7L90.7 355.6L90 356.6L89.3 355.5L88.6 354.5L87.9 355.1L87.2 357L86.5 357.5L85.8 355.6L85.1 356.3L84.4 357.8L83.7 355L83 354.8L82.3 356.4L81.6 356.6L80.9 355.7L80.2 357.8L79.5 356.7L78.8 355.9L78.1 357.2L77.4 356.9L76.7 358.2L76 356L75.3 354.9L74.6 354.6L73.9 355.6L73.2 355.7L72.5 354.5L71.8 354.8L71.1 356.5L70.4 357.1L69.7 357L69 357.5L68.3 355.8L67.6 356.7L66.9 357.7L66.2 355.8L65.5 355.2L64.8 356.4L64.1 355.1L63.4 357.6L62.7 355.1L62 355.9L61.3 354.4L60.6 356L59.9 355.8L59.2 357.2L58.5 354.6L57.8 357.9L57.1 357.4L56.4 354.3L55.7 355.6L55 355.9L54.3 357.8L53.6 357L52.9 355L52.2 358L51.5 355.4L50.8 358L50.1 356.9L49.4 355.8L48.7 357.3L48 355.6L47.3 358.2L46.6 355.2L45.9 356.7L45.2 356.7L44.5 357.8L43.8 357.2L43.1 358L42.4 358.3L41.7 356.6L41 356L40.3 356.5L39.6 354.6L38.9 357.6L38.2 357.9L37.5 355.3L36.8 354.5L36.1 358.3L35.4 356.2L34.7 355.2L34 357.7L33.3 354.8L32.6 357.8L31.9 356.3L31.2 356.4L30.5 355.3L29.8 357.8L29.1 355.2L28.4 356.4L27.7 355L27 356.5L26.3 356.1L25.6 356.1L24.9 356.8L24.2 357L23.5 354.6L22.8 357.4L22.1 358.1L21.4 358L20.7 354.6L20 355.2L19.3 356.1L18.6 354.9L17.9 356.6L17.2 355.4L16.5 355.4L15.8 354.5L15.1 357.2L14.4 355.4L13.7 355.3L13 357.7L12.3 357L11.6 357.6Z" fill="#22d822" opacity="0.85"/>
<path d="M96.3 341.1V357.9M53.2 337.1V358.2M19.1 338.1V349.8M86.4 339.3V357.5M14.6 341V354M101.3 340.6V352.9M71 338.9V355.9M32.9 340.3V352.3M53.4 345.2V352.4M33.4 340.1V349.7M13.4 340.7V353.8M27.9 344.3V349.2M41.6 340.5V355.8M81.4 336.9V353.8M20.5 343.6V352.6M66.8 343.5V356.9M103.5 345.3V355.8M68.3 342.1V349.5M74 341.6V356.5M41.1 341.9V358.3M46.7 340.2V352M77.1 337.8V355.5M95 337.4V354.8M21.3 339.5V348.9M55.9 345.5V357.6M72.5 342V355.9M87.6 338.3V352.2M76.5 337.8V352.7M39.7 345.7V349.4M41.1 345.8V354.5M56.7 342.3V351.6M71.8 346.2V355.3M96.9 337.8V353.8M22 338.7V349.3M31.7 345.5V351.9M53.7 341.8V353M41.9 340.3V351.7M76.1 338.2V355.1M63.8 345.1V357.2M93 343.9V353M20.2 339.3V350.8M75.1 338.4V352.8M47.3 344.5V357.6M40.3 338.7V351.7M93.6 346.2V354M65.1 345.8V349.2M73 338.8V353.2M74.1 344.7V356.6M83.9 343.5V355.7M33.8 346.4V354.9M59.5 339.1V358.3M63.3 343.5V355.7M49 344.6V354.2M49.2 339.8V352.9M110.3 339.2V353.8M34.4 338.4V355M63.1 342.5V352.5M79 338.4V356.8M33.9 338V356.4M26.4 344.7V353.6M90.2 344.2V353.3M107 341.8V355.3M92.2 339.8V354.2M78 342.3V356.6M33.6 346.1V352M103 337.1V357.5M80.1 344.3V350.4M32.9 345.6V356.8M39.7 341.6V354.3M57.6 338.9V354.7M76.9 346.5V355.8M66 337.6V351M89.2 340.5V349.7M40.9 340.5V351.8M102.3 341.3V357.3M108.2 339.4V354.7M75.6 340.2V351.6M42 339.4V354.1M24.5 337.4V351.5M35 343.6V354.6M35.4 339.1V354.2M107.5 343.7V356.5M72.3 343.2V356.6M81.1 341V348.8M82.8 339V357.4M88.6 342.3V354.4M21.3 346.5V348.9M29.6 342.8V354.8M92.8 343V350.2M92.2 346.1V352.6M52 342.4V357.9M24.2 338.2V354.8M16.5 344.9V355.1M14.8 338.6V350.3M37.9 342V352.4M25 340.7V350.9M20.6 340.8V351.7M72.1 343.9V354.3M56.6 346.4V353.5M92.9 345V351M54.7 341.5V351M37.5 342.6V353.4M72.3 345.7V352.1M91.2 345.3V356.4M18.1 342V350.1M75 345.2V352.4M85.5 337.5V350.9M16.8 337.3V353.5M108.5 346.2V358M109.4 339V358.1M27.6 346.5V356.3M104 344.8V354.2M36.3 339.3V349.1M50.3 343.6V356.5M17.1 341.4V353.4M37.6 341.3V357.3M96.2 341V356M86.4 342.3V348.9M82.5 346.3V356.3M20.6 343.2V354.8M20.8 339.4V357.4M45.2 343.6V355.1M28.8 346.3V353.3M91.5 341.2V354.1M33.5 340.3V349.1M65.4 338.1V351.7M89.3 338.9V356.9M85.3 339.9V350M93.4 339.1V357.9M61.5 337.7V352.7M83 340.5V354.9M24.2 345.7V350.2M83.2 342.7V349.9M14.9 338.6V352.5M36.6 338.5V355.3M64.5 343.6V350.2M101.3 346.4V351.3M14.1 344.3V349.6M26.6 345.4V349.9M55 337.2V353.8M56.3 338.3V349.5M92.4 343.4V354.4M89.8 339.3V353.3M14.8 344.7V355.7M44.7 345V351.1M64.6 339.2V353.2M31.6 345.4V355.7M97.5 340.9V354.9M80.6 338.4V355.4M37.7 346.4V354.1M15.4 343.6V358.3M31 344.7V350.3M77.4 339.7V357.9M32.9 337.9V357.3M76.7 342.6V357.2M38.2 343V350.6M45 338.3V357M81.2 343.9V349.5M96.6 341.4V357.2M57.6 345.2V348.9M53.2 339.7V349.1M70 337.4V350.6M24.8 344.6V351.2M99.5 342V357.2M13.7 337.1V354.6M76.3 342V356.7M98.8 337.4V353.8M93.8 341.4V355.9M55.7 342.7V353.3M63.2 340.7V352.9M74.4 344.1V356.1M65.4 340.3V356.1M18.9 337V357.4M101.9 346.1V352.5M59.9 341.3V352M41.4 344.6V357M78.9 341.4V351.9M25.9 341.2V356.6M69.6 342V349.7M72.8 337.3V357M76.9 344.6V353.5M72.9 339.4V355.3M82.5 337.3V354.9M45 343.3V353.6M102.3 343.2V357.5M97.4 340.6V353.7M15.1 345.4V352M72.1 338V353.5M42 345.4V349.7M29.1 340.8V349.4M96.6 337.7V350.4M51.1 342.6V357.8M109 345.2V357.3M52.7 344V354.1M101.8 344.3V355.3M104 341.1V350.1M99.7 346.1V348.9M101.5 339.2V349.8" stroke="#22d822" stroke-width="0.7" opacity="0.8" fill="none"/>
<path d="M64.9 348.1V350.8M95.9 347.2V352.2M74.7 349V349.7M43.8 339.6V343.4M34.1 345V352M69 344.7V348.5M100.1 349.1V351.5M79.2 341.5V342.9M42.9 349.4V356.9M29.1 346.8V351.1M16.6 339.7V341.4M63.2 347.6V349.1M39.6 340.9V341.3M79.8 347.9V352.8M110.7 342.7V343.8M102.3 346V349.7M90.4 344.6V349.5M29.4 345V351.4M58.1 341.8V348.3M84.5 344.5V344.9M68 345.6V350M63.8 343.9V347.1M26.8 340.7V345.1M12.4 339.5V344.3M14.1 344.6V350.8M58.7 339.5V346.7M104.4 342.1V345.7M88.7 345.8V346.7M75.4 339.8V345.5M66.8 343.5V346.1M12.8 342.4V344.2M78.8 343.3V343.6M97.9 349.2V356.5M15.9 340.9V344.8M24.3 340.3V344.4M27.4 348.9V349M50.2 347V351.9M55.6 340.5V341M20.2 344.3V348.9M14 349.6V355.1M92.8 347.4V347.7M19.4 339.5V342.8M28.9 342.5V347M62 346.8V347.6M92.4 346.2V349.6M22.5 347V351M64.5 348.8V352.7M72.5 346V347.6M33.7 340.6V344" stroke="#ffffff" stroke-width="0.8" opacity="0.35" fill="none"/>
<path d="M111 325.1L111.7 326.1L112.4 327.6L113.1 326.2L113.8 325.4L114.5 326.9L115.2 325.7L115.9 326.6L116.6 325.4L117.3 327.2L118 324.8L118.7 325.6L119.4 327.9L120.1 324.9L120.8 326L121.5 325.3L122.2 325.9L122.9 326.6L123.6 327.9L124.3 327.9L125 325.7L125.7 327.3L126.4 326.2L127.1 325L127.8 325.5L128.5 325.7L129.2 326L129.9 328.1L130.6 327.4L131.3 324.9L132 326.6L132.7 325.6L133.4 325.5L134.1 327.7L134.8 324.8L135.5 327.2L136.2 327.7L136.9 324.6L137.6 325.6L138.3 327.4L139 324.8L139.7 325.9L140.4 325.4L141.1 327.7L141.8 327.4L142.5 327.3L143.2 325.6L143.9 325L144.6 327.8L145.3 325.4L146 325.4L146.7 324.9L147.4 327.5L148.1 326.2L148.8 325.2L149.5 324.7L150.2 326.2L150.9 324.7L151.6 324.6L152.3 326.3L153 326.6L153.7 326.5L154.4 327.8L155.1 324.8L155.8 324.8L156.5 324.9L157.2 326.7L157.9 326.9L158.6 325.4L159.3 326.6L160 324.8L160.7 325L161.4 325.6L162.1 325.1L162.8 325.5L163.5 325.6L164.2 326L164.9 327.6L165.6 327.2L166.3 327.4L167 325.2L167.7 327.4L168.4 325.9L169.1 327.8L169.8 326.8L170.5 327L171.2 326.7L171.9 324.7L172.6 325.6L173.3 325.2L174 325.5L174.7 327.3L175.4 326L176.1 325.1L176.8 327.4L177.5 325.6L178.2 325L178.9 325.9L179.6 325.8L180.3 326.5L181 326.9L181.7 327.3L182.4 326.7L183.1 326.3L183.8 325.7L184.5 326.9L185.2 327.1L185.9 327.7L186.6 326.9L187.3 327.7L188 324.7L188.7 325.7L189.4 325.7L190.1 326.9L190.8 327.5L191.5 326.8L192.2 325.5L192.9 326.7L193.6 325.3L194.3 326.5L195 324.7L195.7 327.4L196.4 328L197.1 325.3L197.8 326.9L198.5 324.8L199.2 325L199.9 326.7L200.6 324.8L201.3 326L202 326.2L202.7 327.4L203.4 327.8L204.1 326.2L204.8 324.7L205.5 325.7L206.2 325.1L206.9 326.4L207.6 325.7L208.3 325.7L209 326.4L209.7 326L210.4 325L211.1 327.7L211.8 325.8L212.5 325.2L213.2 326.1L213.9 327.3L214.6 325.8L215.3 324.8L216 326.8L216.7 327.4L217.4 326.8L218.1 326.1L218.8 325.3L219.5 324.8L220.2 326.8L220.9 325.1L221.6 327.9L222.3 325.8L223 326.4L223.7 325.1L224.4 326.5L225.1 326.3L225.8 327.3L226.5 328L227.2 325.1L227.9 327.7L228.6 325.4L229.3 326.4L230 327.7L230.7 325.9L231.4 325.8L232.1 326.1L232.8 325.8L233.5 325.8L234.2 326.2L234.9 326.7L235.6 326.8L236.3 324.9L237 325.2L237.7 325.7L238.4 325.8L239.1 326.1L239.8 326.5L240.5 328.1L241.2 327.5L241.9 327.8L242.6 325.8L243.3 325.9L244 327.2L244.7 324.9L245.4 327.9L246.1 326.6L246.8 325.8L247.5 327.5L248.2 327.4L248.9 326.8L249.6 327.5L250.3 326L251 325.3L251.7 325.2L252.4 328.1L253.1 326L253.8 328.1L254.5 327.8L255.2 328.1L255.9 325.9L256.6 327.7L257.3 326.2L258 326.1L258.7 326.5L259.4 327.4L260.1 325.1L260.4 325L260.4 369.5L260.1 367.8L259.4 367.9L258.7 368L258 369.1L257.3 369.7L256.6 369.5L255.9 367.1L255.2 370.2L254.5 368.3L253.8 368.7L253.1 367.8L252.4 368L251.7 369.7L251 367.9L250.3 370L249.6 368.7L248.9 367.2L248.2 367.6L247.5 370.1L246.8 369.6L246.1 368L245.4 369.2L244.7 367.2L244 369.9L243.3 367.3L242.6 370.4L241.9 368L241.2 367.6L240.5 369.3L239.8 368.6L239.1 367.9L238.4 370.3L237.7 368L237 367.8L236.3 369.1L235.6 367.6L234.9 367.3L234.2 370.4L233.5 367.8L232.8 370.2L232.1 367.7L231.4 370.5L230.7 369L230 367.4L229.3 367.8L228.6 368.7L227.9 370L227.2 367.6L226.5 370.1L225.8 369.9L225.1 369.9L224.4 368.9L223.7 368.2L223 367.8L222.3 369.5L221.6 369.1L220.9 368L220.2 369.7L219.5 369.3L218.8 368.5L218.1 370.1L217.4 369.6L216.7 367.3L216 368.1L215.3 370.2L214.6 367.8L213.9 369L213.2 367.4L212.5 368.6L211.8 368.7L211.1 367.9L210.4 370.3L209.7 368.1L209 369.6L208.3 368.1L207.6 369.7L206.9 367.4L206.2 369.2L205.5 368.5L204.8 369.2L204.1 368.5L203.4 369.5L202.7 368.4L202 370.5L201.3 368.5L200.6 368.7L199.9 369L199.2 369.6L198.5 369L197.8 368.5L197.1 367.3L196.4 368.2L195.7 369.2L195 367.4L194.3 368.5L193.6 367.9L192.9 368.5L192.2 367.2L191.5 370.5L190.8 370.3L190.1 369.3L189.4 370.6L188.7 368.4L188 369L187.3 367.2L186.6 368L185.9 367.9L185.2 367.6L184.5 369.6L183.8 368.9L183.1 367.5L182.4 370.4L181.7 370.4L181 370.2L180.3 367.6L179.6 367.3L178.9 368.6L178.2 370.1L177.5 370.4L176.8 369.6L176.1 369.3L175.4 369.6L174.7 368.9L174 368.8L173.3 368.3L172.6 367.7L171.9 368.2L171.2 367.4L170.5 370.5L169.8 367.6L169.1 368.5L168.4 370L167.7 368.5L167 369.7L166.3 370.5L165.6 369.9L164.9 367.9L164.2 370.1L163.5 368.6L162.8 370.2L162.1 367.1L161.4 368.6L160.7 370.4L160 368.7L159.3 368.1L158.6 367.3L157.9 369.8L157.2 370.5L156.5 370.6L155.8 368.7L155.1 369.6L154.4 370.5L153.7 370.3L153 367.7L152.3 367.6L151.6 368L150.9 368L150.2 368.5L149.5 368.4L148.8 368.3L148.1 369.7L147.4 369L146.7 368.2L146 369.9L145.3 369.1L144.6 367.1L143.9 369.3L143.2 368.9L142.5 370.5L141.8 368.4L141.1 368.5L140.4 367.2L139.7 370.5L139 370.1L138.3 369.4L137.6 370.4L136.9 367.2L136.2 367.7L135.5 367.6L134.8 367.4L134.1 367.5L133.4 369.5L132.7 370.1L132 367.6L131.3 370.4L130.6 368.7L129.9 368.9L129.2 367.9L128.5 369.5L127.8 368.4L127.1 368L126.4 367.8L125.7 370.4L125 368.1L124.3 367.4L123.6 367.9L122.9 368.9L122.2 369.9L121.5 369.9L120.8 369L120.1 369.5L119.4 368.4L118.7 370L118 369.4L117.3 369.6L116.6 368.6L115.9 370.5L115.2 370L114.5 368.7L113.8 370.2L113.1 368.2L112.4 367.4L111.7 367.4L111 368.3Z" fill="#22d822" opacity="0.6"/>
<path d="M197.1 340.4V354.3M204.9 327.4V370.2M133.9 338.3V366.7M116.8 329.9V350.4M191.1 338V365.6M154.9 326.3V355.5M198.3 344.8V365.4M142.5 326.2V362.1M177.4 328.7V353.5M148.4 327.9V368.3M146.3 335.1V369.9M173.3 344.3V368.7M243.1 335.5V350.1M137.4 327.1V361.4M203.9 338.8V367M226.3 335.5V362.2M259 336.8V351.9M167.7 327.7V364.2M171.3 337V356.2M213.7 333V353.1M123.6 330.6V367.1M150.7 330.4V361.8M199.9 325.5V354.3M136.9 339.9V354.4M218.4 337.4V352.5M133.1 337.9V367.3M232.4 327.5V361.8M141.4 339V350.7M246.1 328.7V363.1M252.4 339.7V352.5M173.8 336.2V358.3M239 328.7V351.6M195 332.4V351.5M228 335.7V362.8M213.1 330.2V355.7M246 327.6V362.2M219.5 336.2V368M259.3 328.4V368.7M134.7 327.5V357.7M192.5 336.5V366.3M198.1 328.2V364.4M208.5 334.2V365.6M176.7 324.6V352M119 337.7V367.2M239.8 334.3V369.7M168.2 334.7V362M111.2 326.6V370.6M244.7 332.8V352.2M163 331.5V362.6M170.5 331.8V357.2M164.7 339.4V356.6M127.6 331.7V351.4M256 343.5V353.2M189 337.3V366.5M244.9 328.9V351.8M180.7 333.4V365.7M128.2 326.2V353.7M173.5 325.7V370.1M179.6 339V350.1M139.2 332.5V352.3M215.6 338.1V364M148.7 333.4V359.3M204.7 340.2V353.6M234.4 336.4V362.7M192.7 334.2V364.3M133.5 329.5V366.5M203.2 340V357.2M175.5 335.8V351M256.5 337.5V369.4M202.7 336.9V365.5M208.6 335.5V367.4M176.4 332.3V366.5M130.5 333V361.7M146.9 327.8V370.5M200.4 332V353.8M177 339.4V370M253.9 330.9V365.4M206.8 334.3V353.1M192.6 341V357M224.5 335.4V354.9M218.1 341.5V357.5M258.4 335.2V366M121.9 336V363M214.4 339.5V350.7M234.4 330.4V350.9M259.4 326.8V351.6M187.9 335.2V353.4M206 332.3V367.6M173.6 334.8V353.5M175.1 329V351.3M165.2 339.3V356M184.7 340.2V368.9M128.4 338.5V366.4M145.5 338.5V369.8M113.6 325.7V370.3M143.5 327.6V354.4M183.4 326.5V355.8M137.6 331.2V359.9M224 341.1V355.2M167.2 345V358.5M125.4 330.3V358M148.7 340.5V357M199.8 340.3V359M241.2 325.7V350.3M185.8 330.8V359.1M207.5 339.5V363.5M184.7 333.4V356.4M204.8 337.7V362.6M248.7 345V367.1M129.7 340.2V358.1M191.4 333.2V354.6M152.1 337.5V360.5M255 331.1V350.8M225.4 339.6V352.3M207.6 329.8V364.5M213 331V360.1M189.3 332.6V356.8M232.6 326.7V354.1M163.9 341.3V364M124.7 343.1V369.8M259.2 334.1V366.2M139.8 334.8V366.6M149.9 326.5V350.4M220.5 329.8V368.5M238.6 334.1V369.8M249.4 343.6V353.3M138.3 338.1V368.7M177.7 328V369.1M186.7 325.8V357.9M215.5 330.3V363.1M179.4 333.6V351.2M161.9 334V354.2M256.6 342.6V362.7M119.9 339.8V360M199.6 329.2V358.9M183.7 337.7V364M204.3 340.9V370.5M115.7 328.1V353.3M241.7 343.5V359.3M133.6 326.4V365M152 330.5V367.8M114.5 342.3V368.6M231.9 331.3V358.3M212.1 338.5V363.9M207.3 325.1V359.1M180 325.9V369.5M140.5 338.2V357.5M146.5 336.3V367.1M154.8 341V364.9M198.1 329.8V368.5M238.2 344.5V359M230.9 332.2V359M138.4 330.7V359.8M257.7 326.6V361.3M227 343.4V359.1M204.6 340.3V366.2M216.5 334.1V366.4M150.6 344.1V357.2M216.9 335V360.5M226.5 330.8V366.9M170.2 344V354.4M240.5 335.6V350.3M246.9 344.7V365.1M205.8 334V369.5M201 328.7V364.2M242.1 337.7V359.6M205.7 328V363.2M131.5 329.9V350.4M195.5 342.6V352.2M168.7 338.7V362.4M221.4 337V360M251.7 343.2V350.4M177.8 338.1V359.5M238.2 337.6V367.4M220.6 342.4V369.8M254.1 343.7V359M176 328.5V357.6M234 333V354.5M174.5 341.9V357.2M198.6 345.2V369.3M211.4 326.4V356.3M253 337.3V360.8M159.3 341.1V370M251.6 342.5V355.3M179.6 325.5V354.8M169.5 332.4V362.4M126 325.5V361.9M167.9 330.4V360.7M207.9 333.5V353.2M257.2 341V368.8M161.7 343.7V369.8M205.9 335.7V364.6M209.6 338.8V368.3M226.6 326.8V350.6M256.2 334.2V364.9M167 329.7V361.3M189.6 327.4V363.8M144.8 335.7V369.4M197.5 344.1V364.4M235.7 325.1V369.7M205.3 327V369M167.5 328.7V352.4M218.7 332.5V370.5M174.7 328.6V356.6M119 345.1V366.9M146.3 333.7V365.5M238.4 329.7V353.9M187.3 326V369.2M187.3 330.8V351.1M176.2 332.3V354.3M224 327.7V358.3M199.1 326.2V361.7M117.1 325.5V350.6M258.3 335.1V360.3M124.7 341.6V367.1M164.5 325.6V350.4M167.3 338.2V350M115.4 338.5V357.7M239 336.1V359.4M127.3 330.3V354.7M172.1 340.6V366.1M194 343V362.7M131.4 327.7V362.6M210.7 329V355.6" stroke="#22d822" stroke-width="0.7" opacity="0.55" fill="none"/>
<path d="M150.1 347.8V350.2M208.7 352.2V356.7M124.2 330.1V344.6M175.3 339.3V343.7M120.2 337.4V339.3M254.8 338.5V341.6M151.5 336.2V351M249 347.4V352.7M137.3 337.6V349.1M176.2 346V352.4M113.6 341.1V354.6M200.9 345V350.1M216.4 340.2V349.8M153.7 331.8V344.1M195.7 336.7V346.7M222.5 343.4V352.3M242.1 348V362.5M252.5 336V341.4M223.1 334.1V338.3M123.6 347.4V356M142.8 342.6V342.7M179 347.9V356.4M218.4 344.4V354M251.6 339.3V353.3M112.4 342.4V352.1M157.7 334.2V348.7M181.4 347.6V355.1M170.9 331.1V339.8M184.6 351.7V354.2M152.2 332V333.8M222.6 339.4V347.3M177.1 338.4V348.7M150.5 336.7V346.5M230.8 344.2V360.2M220.5 339.3V350.9M138.1 329.5V340.7M210.6 337.7V345M130.6 351.8V352.1M214.6 334.7V338.9M253.2 343.5V356.4M212.2 329.3V335.8M237.1 350.7V353.1M186.5 337.6V339.7M253 334.5V341.7M223.1 349.8V358M233.6 334.5V344.9M158.4 338.3V339.1M236.7 342.5V343.9M125.9 348.4V358.2M186.7 330.7V340.1M227.8 347.1V350.9M119.8 339.7V349.6M178.1 334.2V346.3M180 330.7V335.2M183.5 340.4V353.6M112.9 335.6V345M210.2 345.9V360.8M120.3 343.6V350.8M160.3 350.7V364.2M235.1 341.2V356M224.9 332.2V334.9M132.3 350.6V365.2M192.7 343.4V351M250.5 349V359M186 350.4V352.2M114 337.7V353.5M246.1 343.9V357.2M164.1 342.9V349.1M124.2 346.3V354M187.2 339.3V345.3M215.5 330.4V331.2M153.8 341.4V351.6M167.5 333.8V348.8M123.4 334.1V339.1" stroke="#ffffff" stroke-width="0.8" opacity="0.3" fill="none"/>
<path d="M134 326.1L152 326.1L143 352.2ZM183 326.1L197 326.1L190 347.6ZM246 326.1L256 326.1L251 343ZM138 369.1L164 369.1L151 347.6ZM204 369.1L220 369.1L212 349.9ZM240 369.1L250 369.1L245 352.2Z" fill="#ffffff" opacity="0.62" filter="url(#sb)"/>
<path d="M11.6 388.3L12.1 389.5L12.6 389.7L13.1 388.6L13.6 388.3L14.1 390.2L14.6 389.7L15.1 388.3L15.6 389.5L16.1 389.9L16.6 389.9L17.1 390.3L17.6 390.7L18.1 389.9L18.6 390.8L19.1 389.3L19.6 388.5L20.1 390.7L20.6 388.6L21.1 388.2L21.6 388.1L22.1 389.4L22.6 390.6L23.1 388.8L23.6 390.8L24.1 390.5L24.6 388.5L25.1 389.3L25.6 389.6L26.1 389.8L26.6 389.9L27.1 387.9L27.6 389.9L28.1 388.2L28.6 389.3L29.1 389.4L29.6 388L30.1 389.7L30.6 389.5L31.1 388.5L31.6 390.1L32.1 388.2L32.6 390.7L33.1 387.9L33.6 390.3L34.1 389.4L34.6 388.2L35.1 388.6L35.6 390.8L36.1 389.9L36.6 389.6L37.1 390L37.6 388.2L38.1 389.4L38.6 390.5L39.1 388.7L39.6 389.1L40.1 390.9L40.6 390.6L41.1 388.7L41.6 390.7L42.1 387.7L42.6 389.5L43.1 390.4L43.6 390L44.1 389.6L44.6 388.6L45.1 390.8L45.6 389.5L46.1 390.6L46.6 390.6L47.1 389.9L47.6 389.2L48.1 389.8L48.6 388.2L49.1 388.8L49.6 390.8L50.1 388.2L50.6 387.8L51.1 390.6L51.6 389.3L52.1 388.6L52.6 390.7L53.1 390.2L53.6 389.1L54.1 389.3L54.6 388.7L55.1 389.2L55.6 389.8L56.1 389.9L56.6 388.7L57.1 390.6L57.6 387.9L58.1 390.8L58.6 390.1L59.1 388.3L59.6 389.9L60.1 390.8L60.6 389.8L61.1 389L61.6 390.3L62.1 389.6L62.6 390.2L63.1 387.8L63.6 389.1L64.1 390.4L64.6 389.2L65.1 390.7L65.6 389.4L66.1 388.1L66.6 389.9L67.1 388L67.6 388.5L68.1 390.4L68.6 389.8L69.1 388.1L69.6 387.8L70.1 389.3L70.6 387.9L71.1 388.2L71.6 389.1L72.1 388.9L72.6 389.1L73.1 389.8L73.6 388.6L74.1 389.6L74.6 388.2L75.1 390L75.6 390.2L76.1 390.4L76.6 388.3L77.1 390.8L77.6 390.1L78.1 390.4L78.6 389.2L79.1 389.8L79.6 387.9L80.1 390.8L80.6 387.9L81.1 389.3L81.6 388.3L82.1 390.9L82.6 389.5L83.1 389L83.6 389.5L84.1 390L84.6 387.9L85.1 388.7L85.6 388.9L86.1 389.7L86.6 388L87.1 389.7L87.6 389.2L88.1 389.9L88.6 389L89.1 387.9L89.6 389.4L90.1 387.9L90.6 388.9L91.1 388L91.6 390.6L92.1 389.7L92.6 388.9L93.1 388.4L93.6 388.8L94.1 388.6L94.6 390.3L95.1 389.5L95.6 388.7L96.1 388.5L96.6 390L97.1 388.5L97.6 390.6L98.1 390L98.6 389.7L99.1 388.1L99.6 390.8L100.1 389L100.6 389.9L101.1 390.4L101.6 390.6L102.1 388.5L102.6 390.7L103.1 387.8L103.6 388.2L104.1 390L104.6 389.8L105.1 390.7L105.6 388.1L106.1 388.5L106.6 388.3L107.1 388.7L107.6 387.7L108.1 389.2L108.6 390.5L109.1 390.7L109.6 388.6L110.1 389L110.6 388.3L111.1 388.5L111.6 387.6L112.1 385.7L112.6 382.1L113.1 381.1L113.6 379.7L114.1 378.6L114.6 379.7L115.1 377.1L115.6 378.9L116.1 376.7L116.6 378.2L117.1 378L117.6 375.5L118.1 377L118.6 377.8L119.1 377.3L119.6 376.7L120.1 377.3L120.6 376.2L121.1 375.8L121.6 377.2L122.1 375.4L122.6 375.5L123.1 377.4L123.6 374.8L124.1 375.9L124.6 376.3L125.1 375L125.6 374.2L126.1 376.6L126.6 376.2L127.1 376.2L127.6 374.9L128.1 376L128.6 375.5L129.1 376.8L129.6 376.6L130.1 376.7L130.6 374.7L131.1 374L131.6 375.4L132.1 376.5L132.6 375L133.1 376.1L133.6 376.4L134.1 374.6L134.6 374.4L135.1 376.6L135.6 374.4L136.1 374.7L136.6 374.5L137.1 375.7L137.6 376.1L138.1 376.3L138.6 373.9L139.1 376.5L139.6 376L140.1 374.9L140.6 375L141.1 374.8L141.6 376.7L142.1 376.5L142.6 375.5L143.1 376.6L143.6 374.1L144.1 374.1L144.6 374.9L145.1 375L145.6 375L146.1 375.4L146.6 376.2L147.1 375.1L147.6 376.6L148.1 376.3L148.6 376.6L149.1 374.6L149.6 376.7L150.1 376.2L150.6 374.7L151.1 376.1L151.6 375.7L152.1 375.3L152.6 374.6L153.1 374.2L153.6 374.5L154.1 377L154.6 376.8L155.1 375.1L155.6 374.8L156.1 375.7L156.6 375.7L157.1 375.9L157.6 374.2L158.1 375.5L158.6 376.4L159.1 375.9L159.6 375.2L160.1 374.6L160.6 376.6L161.1 374.7L161.6 376.7L162.1 376.5L162.6 376.6L163.1 374.7L163.6 374.9L164.1 375.6L164.6 376.9L165.1 375.4L165.6 375.4L166.1 376.5L166.6 374.7L167.1 375.8L167.6 375.1L168.1 376.1L168.6 374.9L169.1 374.4L169.6 375.8L170.1 375.6L170.6 375.5L171.1 376.8L171.6 375.6L172.1 376.8L172.6 375.2L173.1 375.4L173.6 374L174.1 374.1L174.6 375.1L175.1 376.6L175.6 376.1L176.1 376.8L176.6 376.4L177.1 374.1L177.6 374.4L178.1 376L178.6 376.3L179.1 374.5L179.6 374.5L180.1 375.2L180.6 376.7L181.1 376.3L181.6 376.4L182.1 376.1L182.6 375.6L183.1 375.9L183.6 374.5L184.1 373.8L184.6 375.1L185.1 376.6L185.6 376.8L186.1 375.9L186.6 375.4L187.1 373.9L187.6 375.2L188.1 376L188.6 376.2L189.1 373.9L189.6 374.5L190.1 374.3L190.6 376.6L191.1 373.9L191.6 375.1L192.1 376.4L192.6 375.8L193.1 374.7L193.6 375.7L194.1 375.6L194.6 374.5L195.1 374.4L195.6 376.2L196.1 376.7L196.6 376.8L197.1 375.7L197.6 374.2L198.1 375.9L198.6 374.7L199.1 373.9L199.6 375.7L200.1 376.8L200.6 374.1L201.1 375.3L201.6 374L202.1 374.6L202.6 374.4L203.1 375L203.6 375.9L204.1 376.7L204.6 376.7L205.1 376.2L205.6 375.4L206.1 374.1L206.6 374.6L207.1 375.2L207.6 376L208.1 376.4L208.6 376.5L209.1 376.2L209.6 375.8L210.1 374.2L210.6 376.5L211.1 374.7L211.6 376.8L212.1 376.9L212.6 375.8L213.1 374L213.6 374.9L214.1 376.6L214.6 374.5L215.1 376.9L215.6 375.6L216.1 374.2L216.6 375.5L217.1 374L217.6 376L218.1 376.9L218.6 374.6L219.1 374.7L219.6 374.3L220.1 375.6L220.6 375.4L221.1 376.3L221.6 375.4L222.1 376.4L222.6 375.9L223.1 375.9L223.6 376.2L224.1 376.8L224.6 376.6L225.1 376.7L225.6 376.4L226.1 374.4L226.6 374L227.1 376.8L227.6 373.8L228.1 374.5L228.6 376.5L229.1 374.3L229.6 375.4L230.1 374.3L230.6 375.6L231.1 374.3L231.6 375.1L232.1 376.3L232.6 375.4L233.1 376.7L233.6 377L234.1 374.1L234.6 375.9L235.1 375.6L235.6 376.8L236.1 375.4L236.6 373.9L237.1 374.4L237.6 376.6L238.1 375.1L238.6 375.8L239.1 375.2L239.6 374.8L240.1 374.2L240.6 376.7L241.1 374.8L241.6 374L242.1 376.2L242.6 376.6L243.1 374.2L243.6 377L244.1 375.2L244.6 374.8L245.1 376.1L245.6 375L246.1 376.1L246.6 374.2L247.1 374.4L247.6 374.5L248.1 375.2L248.6 376.5L249.1 374.3L249.6 375.8L250.1 375.4L250.6 374.9L251.1 375.6L251.6 375.2L252.1 374.3L252.6 375.5L253.1 373.9L253.6 375.6L254.1 375.3L254.6 376.8L255.1 375.7L255.6 376.3L256.1 374.7L256.6 374.7L257.1 375.6L257.6 374.8L258.1 374.1L258.6 375.3L259.1 375.6L259.6 375.8L260.1 374.2L260.4 374.6L260.4 382.5L260.1 383.7L259.6 384.2L259.1 384.2L258.6 385L258.1 383.4L257.6 382.5L257.1 384L256.6 385L256.1 384.6L255.6 385.3L255.1 383.5L254.6 384.6L254.1 383.4L253.6 383.6L253.1 384.9L252.6 383.1L252.1 383.2L251.6 383.2L251.1 384.6L250.6 382.6L250.1 383.6L249.6 385L249.1 384.2L248.6 383.8L248.1 384.6L247.6 384.2L247.1 382.8L246.6 382.8L246.1 384.4L245.6 384.7L245.1 383.3L244.6 383.3L244.1 384L243.6 382.6L243.1 383.5L242.6 385.3L242.1 382.5L241.6 384.1L241.1 383.6L240.6 384L240.1 383.2L239.6 383.5L239.1 384.4L238.6 384.4L238.1 383.4L237.6 382.5L237.1 383.3L236.6 384.4L236.1 385.4L235.6 384L235.1 384L234.6 382.4L234.1 382.5L233.6 385.1L233.1 384.1L232.6 384.7L232.1 384.3L231.6 385L231.1 384.3L230.6 382.9L230.1 383.4L229.6 383.7L229.1 383.7L228.6 384.4L228.1 384.9L227.6 382.3L227.1 385.1L226.6 382.5L226.1 384.3L225.6 382.5L225.1 383.4L224.6 383L224.1 385.2L223.6 384.9L223.1 384.4L222.6 383.8L222.1 382.2L221.6 383.9L221.1 382.9L220.6 383.7L220.1 384.3L219.6 385L219.1 383.6L218.6 385L218.1 383.1L217.6 383.1L217.1 383L216.6 382.3L216.1 382.5L215.6 385L215.1 382.3L214.6 384L214.1 382.6L213.6 382.6L213.1 382.8L212.6 384.3L212.1 383.4L211.6 385L211.1 383.4L210.6 384.5L210.1 382.5L209.6 383.1L209.1 382.7L208.6 382.8L208.1 382.4L207.6 382.5L207.1 384.9L206.6 382.7L206.1 384.3L205.6 384.2L205.1 382.6L204.6 383.9L204.1 385.1L203.6 383.5L203.1 383.1L202.6 382.5L202.1 383.9L201.6 384.2L201.1 385.3L200.6 383.9L200.1 383.9L199.6 383.2L199.1 383.4L198.6 382.5L198.1 382.8L197.6 383.5L197.1 384.9L196.6 382.8L196.1 383.9L195.6 384.7L195.1 382.6L194.6 382.8L194.1 383.1L193.6 383.7L193.1 382.8L192.6 384.8L192.1 385.3L191.6 385.2L191.1 383.8L190.6 384.6L190.1 385.4L189.6 384.8L189.1 383.2L188.6 383.6L188.1 384.4L187.6 383.3L187.1 383.7L186.6 385.2L186.1 384.8L185.6 385L185.1 383.4L184.6 382.3L184.1 384.2L183.6 383.4L183.1 384.5L182.6 382.6L182.1 382.8L181.6 384.8L181.1 384.7L180.6 383.9L180.1 384.9L179.6 383L179.1 382.9L178.6 383.1L178.1 383L177.6 384.5L177.1 383.4L176.6 383.1L176.1 384.4L175.6 384.2L175.1 382.3L174.6 382.9L174.1 383.2L173.6 382.8L173.1 383.9L172.6 382.9L172.1 383.9L171.6 383.2L171.1 382.8L170.6 384.3L170.1 382.5L169.6 384.8L169.1 384.3L168.6 383.8L168.1 382.4L167.6 382.9L167.1 382.9L166.6 385.3L166.1 385.1L165.6 383.1L165.1 384.7L164.6 383.5L164.1 384.7L163.6 383.5L163.1 385.1L162.6 382.7L162.1 384.7L161.6 383L161.1 385L160.6 382.9L160.1 385.1L159.6 382.9L159.1 382.3L158.6 384.6L158.1 382.9L157.6 384.6L157.1 384.3L156.6 385.3L156.1 385.3L155.6 383.4L155.1 383.6L154.6 383.7L154.1 383.1L153.6 382.6L153.1 384.2L152.6 384.2L152.1 384.8L151.6 385.3L151.1 383.8L150.6 384.8L150.1 384.3L149.6 383.1L149.1 383.1L148.6 384.5L148.1 383.6L147.6 382.3L147.1 382.5L146.6 384.9L146.1 384.6L145.6 383.3L145.1 383.5L144.6 384.5L144.1 383.9L143.6 382.2L143.1 384.4L142.6 383.2L142.1 382.8L141.6 384.6L141.1 383L140.6 383.1L140.1 384L139.6 385.1L139.1 383.2L138.6 384.2L138.1 384.7L137.6 383.6L137.1 384.3L136.6 382.8L136.1 383.5L135.6 383.2L135.1 383.8L134.6 382.3L134.1 385L133.6 384.9L133.1 382.9L132.6 384.1L132.1 383.2L131.6 382.6L131.1 385L130.6 382.7L130.1 384L129.6 383.7L129.1 384.9L128.6 383.1L128.1 385.5L127.6 385.4L127.1 383.6L126.6 382.9L126.1 384.8L125.6 385.7L125.1 385.6L124.6 384.6L124.1 382.9L123.6 384.4L123.1 384.1L122.6 383L122.1 384.8L121.6 383.8L121.1 385.7L120.6 384.4L120.1 385.3L119.6 383.7L119.1 384.5L118.6 383.1L118.1 384.7L117.6 385.1L117.1 384.6L116.6 385.3L116.1 386.3L115.6 387.3L115.1 387.1L114.6 386.4L114.1 387.3L113.6 389L113.1 391.3L112.6 390.8L112.1 393.8L111.6 396.7L111.1 398.3L110.6 397.4L110.1 395.4L109.6 397.8L109.1 396.3L108.6 396.4L108.1 396.2L107.6 397.8L107.1 395.4L106.6 398.1L106.1 395.3L105.6 397.9L105.1 396.6L104.6 398.2L104.1 397.6L103.6 396.1L103.1 398.1L102.6 395.7L102.1 397.3L101.6 397.5L101.1 397.6L100.6 398.1L100.1 397.9L99.6 396.1L99.1 397.1L98.6 396L98.1 396.2L97.6 396.2L97.1 397.9L96.6 395.3L96.1 396.8L95.6 397.7L95.1 396L94.6 395.7L94.1 396.7L93.6 397.5L93.1 397.8L92.6 395.6L92.1 397.9L91.6 395.6L91.1 397L90.6 396.4L90.1 396.1L89.6 396.6L89.1 396.8L88.6 396.4L88.1 397.1L87.6 398.1L87.1 397.3L86.6 396.5L86.1 397.5L85.6 395.4L85.1 395.9L84.6 395.4L84.1 396.9L83.6 396.6L83.1 398.1L82.6 397.8L82.1 395.7L81.6 396.8L81.1 396.2L80.6 395.5L80.1 396.5L79.6 395.4L79.1 396.4L78.6 395.4L78.1 398.2L77.6 396.9L77.1 396.1L76.6 396.6L76.1 396L75.6 396.2L75.1 397.1L74.6 397.8L74.1 396.5L73.6 395.6L73.1 398.2L72.6 395.2L72.1 395.8L71.6 396.9L71.1 395.5L70.6 398.1L70.1 395.1L69.6 398L69.1 396.3L68.6 396.9L68.1 395.1L67.6 396.2L67.1 396.2L66.6 396.9L66.1 396.6L65.6 398L65.1 396.7L64.6 397.9L64.1 396.7L63.6 396.3L63.1 398.1L62.6 397.8L62.1 395.1L61.6 396.3L61.1 397.7L60.6 396.8L60.1 395.7L59.6 397.5L59.1 395.9L58.6 397.4L58.1 396.7L57.6 395.4L57.1 395.3L56.6 398L56.1 395.6L55.6 397.3L55.1 397.6L54.6 396.3L54.1 396.3L53.6 398.2L53.1 397.5L52.6 395.2L52.1 395.8L51.6 397.6L51.1 396.9L50.6 396.5L50.1 397.4L49.6 397.5L49.1 395.3L48.6 396.2L48.1 396.5L47.6 395.6L47.1 395.6L46.6 395.6L46.1 395.3L45.6 395.6L45.1 396.3L44.6 396.8L44.1 397.4L43.6 395.3L43.1 396.2L42.6 395.5L42.1 395.3L41.6 395.2L41.1 395.5L40.6 397.3L40.1 396.1L39.6 396L39.1 395.9L38.6 397.8L38.1 395.3L37.6 397.3L37.1 396.6L36.6 396.3L36.1 395.7L35.6 397.2L35.1 395.4L34.6 395.1L34.1 397.7L33.6 396.4L33.1 397.1L32.6 396.2L32.1 398.1L31.6 395.2L31.1 397.8L30.6 396.5L30.1 395.7L29.6 397.1L29.1 397.3L28.6 395.9L28.1 395.3L27.6 395.4L27.1 395.1L26.6 396.7L26.1 398.1L25.6 398L25.1 396.4L24.6 395.5L24.1 395.3L23.6 395.5L23.1 396.8L22.6 395.5L22.1 396.4L21.6 397.7L21.1 398.2L20.6 396.6L20.1 398L19.6 395.7L19.1 397L18.6 396.1L18.1 395.5L17.6 397.4L17.1 397.8L16.6 397.1L16.1 397.9L15.6 396.7L15.1 395.9L14.6 395.6L14.1 398L13.6 395.1L13.1 397.5L12.6 396.9L12.1 395.6L11.6 395.5Z" fill="#e01010" opacity="0.95"/>
<path d="M11.6 410L12.6 410L13.6 410L14.6 410L15.6 410L16.6 410L17.6 410L18.6 410L19.6 410L20.6 410L21.6 410L22.6 410L23.6 410L24.6 410L25.6 410L26.6 410L27.6 410L28.6 410L29.6 410L30.6 410L31.6 410L32.6 410L33.6 410L34.6 410L35.6 410L36.6 410L37.6 410L38.6 410L39.6 410L40.6 410L41.6 410L42.6 410L43.6 410L44.6 410L45.6 410L46.6 410L47.6 410L48.6 410L49.6 410L50.6 410L51.6 410L52.6 410L53.6 410L54.6 410L55.6 410L56.6 410L57.6 410L58.6 410L59.6 410L60.6 410L61.6 410L62.6 410L63.6 410L64.6 410L65.6 410L66.6 410L67.6 410L68.6 410L69.6 410L70.6 410L71.6 410L72.6 410L73.6 410L74.6 410L75.6 410L76.6 410L77.6 410L78.6 410L79.6 410L80.6 410L81.6 410L82.6 410L83.6 410L84.6 410L85.6 410L86.6 410L87.6 410L88.6 410L89.6 410L90.6 410L91.6 410L92.6 410L93.6 410L94.6 410L95.6 410L96.6 410L97.6 410L98.6 410L99.6 410L100.6 410L101.6 410L102.6 410L103.6 410L104.6 410L105.6 410L106.6 410L107.6 410L108.6 410L109.6 410L110.6 410L111.6 410L112.6 410.1L113.6 410.1L114.6 410.1L115.6 410.1L116.6 410.2L117.6 410.2L118.6 410.2L119.6 410.2L120.6 410.3L121.6 410.3L122.6 410.3L123.6 410.3L124.6 410.4L125.6 410.4L126.6 410.4L127.6 410.4L128.6 410.4L129.6 410.5L130.6 410.5L131.6 410.5L132.6 410.5L133.6 410.5L134.6 410.5L135.6 410.6L136.6 410.6L137.6 410.6L138.6 410.6L139.6 410.6L140.6 410.6L141.6 410.6L142.6 410.7L143.6 410.7L144.6 410.7L145.6 410.7L146.6 410.7L147.6 410.7L148.6 410.7L149.6 410.7L150.6 410.7L151.6 410.7L152.6 410.8L153.6 410.8L154.6 410.8L155.6 410.8L156.6 410.8L157.6 410.8L158.6 410.8L159.6 410.8L160.6 410.8L161.6 410.8L162.6 410.8L163.6 410.8L164.6 410.8L165.6 410.8L166.6 410.8L167.6 410.8L168.6 410.9L169.6 410.9L170.6 410.9L171.6 410.9L172.6 410.9L173.6 410.9L174.6 410.9L175.6 410.9L176.6 410.9L177.6 410.9L178.6 410.9L179.6 410.9L180.6 410.9L181.6 410.9L182.6 410.9L183.6 410.9L184.6 410.9L185.6 410.9L186.6 410.9L187.6 410.9L188.6 410.9L189.6 410.9L190.6 410.9L191.6 410.9L192.6 410.9L193.6 410.9L194.6 410.9L195.6 410.9L196.6 410.9L197.6 410.9L198.6 410.9L199.6 410.9L200.6 410.9L201.6 411L202.6 411L203.6 411L204.6 411L205.6 411L206.6 411L207.6 411L208.6 411L209.6 411L210.6 411L211.6 411L212.6 411L213.6 411L214.6 411L215.6 411L216.6 411L217.6 411L218.6 411L219.6 411L220.6 411L221.6 411L222.6 411L223.6 411L224.6 411L225.6 411L226.6 411L227.6 411L228.6 411L229.6 411L230.6 411L231.6 411L232.6 411L233.6 411L234.6 411L235.6 411L236.6 411L237.6 411L238.6 411L239.6 411L240.6 411L241.6 411L242.6 411L243.6 411L244.6 411L245.6 411L246.6 411L247.6 411L248.6 411L249.6 411L250.6 411L251.6 411L252.6 411L253.6 411L254.6 411L255.6 411L256.6 411L257.6 411L258.6 411L259.6 411L260.6 411" fill="none" stroke="#5a64e4" stroke-width="1.3"/>
<rect x="11.4" y="262.4" width="249.7" height="170.2" fill="none" stroke="#262626" stroke-width="1.1"/>
<text x="126" y="266.2" font-family="Liberation Sans" font-size="3.6" fill="#555" textLength="18" lengthAdjust="spacingAndGlyphs">&lt;2(1:4000)&gt;</text>
<text x="238.5" y="266.5" font-family="Liberation Sans" font-size="4" font-weight="bold" fill="#222" textLength="20" lengthAdjust="spacingAndGlyphs">&lt;200ms/div&gt;</text>
<path d="M6.1 293.6L10.6 296L6.1 298.4Z" fill="#f2a81e"/>
<path d="M2.6 296H6.6" stroke="#f2a81e" stroke-width="1.3" opacity="0.45"/>
<path d="M6.1 344.6L10.6 347L6.1 349.4Z" fill="#7c8a66"/>
<path d="M2.6 347H6.6" stroke="#7c8a66" stroke-width="1.3" opacity="0.45"/>
<path d="M6.1 395.6L10.6 398L6.1 400.4Z" fill="#e81818"/>
<path d="M2.6 398H6.6" stroke="#e81818" stroke-width="1.3" opacity="0.45"/>
<path d="M6.1 429.6L10.6 432L6.1 434.4Z" fill="#1820e0"/>
<path d="M2.6 432H6.6" stroke="#1820e0" stroke-width="1.3" opacity="0.45"/>
<text x="14" y="276.5" fill="#dcd020" font-family="Liberation Serif" font-size="13.1" text-anchor="start"><tspan font-style="italic">i</tspan><tspan font-style="italic" font-size="11.5" dy="3.5" dx="0.5">&#945;</tspan><tspan dy="-3.5" dx="1.1">(5 A/div)</tspan></text>
<text x="14" y="328" fill="#2ad02a" font-family="Liberation Serif" font-size="13.1" text-anchor="start"><tspan font-style="italic">i</tspan><tspan font-style="italic" font-size="11.5" dy="3.5" dx="0.5">&#946;</tspan><tspan dy="-3.5" dx="1.1">(5 A/div)</tspan></text>
<text x="257.4" y="400.3" fill="#e02020" font-family="Liberation Serif" font-size="13" text-anchor="end"><tspan font-style="italic">T</tspan><tspan font-style="italic" font-size="10" dy="2.5" dx="0">e</tspan><tspan dy="-2.5" dx="1.1">(1.6 Nm/div)</tspan></text>
<text x="257" y="425" fill="#2a78d0" font-family="Liberation Serif" font-size="13.1" text-anchor="end"><tspan font-style="italic">n</tspan>(1500 rpm/div)</text>
<path d="M324 262V432M349 262V432M374 262V432M399 262V432M424 262V432M449 262V432M474 262V432M499 262V432M524 262V432" stroke="#e6e6e6" stroke-width="0.6" fill="none"/>
<path d="M299 279H548M299 296H548M299 313H548M299 330H548M299 347H548M299 364H548M299 381H548M299 398H548M299 415H548" stroke="#b4b4b4" stroke-width="0.8" stroke-dasharray="1 2.5" fill="none"/>
<path d="M299.6 289L300.3 288.7L301 290.3L301.7 290.2L302.4 290.2L303.1 288.6L303.8 290.8L304.5 287.7L305.2 290.2L305.9 289.7L306.6 287.7L307.3 290.8L308 289.7L308.7 287.3L309.4 290L310.1 289.7L310.8 289.1L311.5 287L312.2 289.6L312.9 290.9L313.6 290.7L314.3 288.2L315 289.7L315.7 287.6L316.4 289.1L317.1 287.9L317.8 289.1L318.5 287.7L319.2 288.9L319.9 288.6L320.6 288.1L321.3 290.5L322 290.7L322.7 289.4L323.4 290.2L324.1 289.5L324.8 290L325.5 288L326.2 288.1L326.9 288.2L327.6 289L328.3 289.1L329 290.7L329.7 290.2L330.4 288.3L331.1 288.5L331.8 289.8L332.5 290L333.2 287.2L333.9 288.7L334.6 287L335.3 289.8L336 290.9L336.7 287.7L337.4 289.3L338.1 290.8L338.8 288.2L339.5 287.2L340.2 289.3L340.9 289.4L341.6 289.6L342.3 290.5L343 288.5L343.7 289.5L344.4 290.7L345.1 287.7L345.8 287.2L346.5 289.3L347.2 287.7L347.9 290.3L348.6 290.5L349.3 289.6L350 289.6L350.7 289.7L351.4 287L352.1 287.1L352.8 287.3L353.5 289.8L354.2 290.5L354.9 288.1L355.6 287.8L356.3 289L357 290.1L357.7 289.7L358.4 287.1L359.1 287.5L359.8 287.4L360.5 290.9L361.2 291L361.9 287.2L362.6 290.3L363.3 290.9L364 290.8L364.7 288L365.4 290.7L366.1 287.7L366.8 287L367.5 287.3L368.2 287.2L368.9 290.8L369.6 288.9L370.3 290L371 288.3L371.7 289.3L372.4 290.3L373.1 288L373.8 290.9L374.5 287L375.2 290.2L375.9 287.5L376.6 289.3L377.3 288.1L378 290.2L378.7 287.7L379.4 288.5L380.1 289.9L380.8 289.5L381.5 288.3L382.2 287.8L382.9 290.5L383.6 289.7L384.3 287.1L385 288.4L385.7 288.3L386.4 290.8L387.1 287.4L387.8 290.2L388.5 288L389.2 288.5L389.9 287.8L390.6 290.6L391.3 290.7L392 288.6L392.7 288.1L393.4 288.7L394.1 290.7L394.8 287.4L395.5 287.8L396.2 287.7L396.9 290.5L397.6 287.6L398.3 289L399 290.3L399.7 290.7L400.4 288.7L401.1 291L401.8 290.9L402.5 290.8L403.2 288.2L403.9 287.8L404.6 289.9L405.3 288.5L406 290.9L406.7 288.3L407.4 290.1L408.1 289.9L408.8 290.7L409.5 290.5L409.5 289.7L409.5 305.3L409.5 303L408.8 303.1L408.1 305.2L407.4 305.5L406.7 305.3L406 305.2L405.3 302.8L404.6 305.6L403.9 303.7L403.2 304.2L402.5 303.7L401.8 305.4L401.1 303.2L400.4 305.3L399.7 304.9L399 304L398.3 304.3L397.6 302.5L396.9 302.2L396.2 305.2L395.5 304.5L394.8 305L394.1 305.8L393.4 302.4L392.7 305.5L392 305.4L391.3 303.2L390.6 303.4L389.9 303.2L389.2 302.9L388.5 303.9L387.8 306L387.1 302.5L386.4 302.2L385.7 302.5L385 304.6L384.3 302.9L383.6 304.2L382.9 304.5L382.2 303.3L381.5 303.9L380.8 302.6L380.1 302.6L379.4 304.4L378.7 302.5L378 303.8L377.3 303.1L376.6 305.7L375.9 302.8L375.2 304.8L374.5 304.2L373.8 302.3L373.1 304.7L372.4 304.7L371.7 303.4L371 303L370.3 305.5L369.6 304L368.9 305.1L368.2 303.8L367.5 303.7L366.8 305.2L366.1 302.7L365.4 302.1L364.7 304.5L364 304.4L363.3 302.5L362.6 304.8L361.9 305.9L361.2 302L360.5 303L359.8 304.6L359.1 305.4L358.4 302.4L357.7 302.2L357 305.3L356.3 305.4L355.6 302.1L354.9 303.9L354.2 304.1L353.5 304.2L352.8 305.1L352.1 302.1L351.4 302.9L350.7 305.3L350 303.8L349.3 305.4L348.6 304.9L347.9 303.7L347.2 304.8L346.5 303.6L345.8 305.3L345.1 302.4L344.4 305L343.7 304.4L343 303.9L342.3 303.4L341.6 305L340.9 304.9L340.2 303.2L339.5 302.1L338.8 304.5L338.1 305.4L337.4 303L336.7 303.6L336 305.2L335.3 303.8L334.6 303.2L333.9 303.4L333.2 305.1L332.5 305.5L331.8 304.9L331.1 303.8L330.4 304.2L329.7 304.7L329 305L328.3 302.9L327.6 305.4L326.9 305.1L326.2 303L325.5 305.3L324.8 303.1L324.1 304.1L323.4 303.9L322.7 303.9L322 304.6L321.3 306L320.6 305.6L319.9 304.2L319.2 303.9L318.5 302.3L317.8 304.8L317.1 302.2L316.4 304.4L315.7 304.5L315 302.7L314.3 303.8L313.6 304L312.9 302.2L312.2 305.4L311.5 303.3L310.8 302.1L310.1 304L309.4 303.1L308.7 304.6L308 303.8L307.3 304.3L306.6 305.4L305.9 303.4L305.2 302.6L304.5 304.4L303.8 303L303.1 304.1L302.4 302.3L301.7 303.2L301 304.1L300.3 303.1L299.6 303.8Z" fill="#e0de10" opacity="0.85"/>
<path d="M324.9 289.4V298M345.1 293.8V297.6M333.5 292.1V297.8M362.5 290.8V304.9M354.5 293.2V302.4M387.7 289.6V298.4M393.4 291.7V303.5M376.3 294.4V303.3M313.2 292.6V301.2M348.5 293.3V301.3M405.1 289.1V301.9M322.2 288.5V305.7M339.8 289.5V299.5M384.6 291.7V298.4M320.6 292.1V300.9M356.7 293.7V305.6M334 293.6V300.5M370.3 290.4V305.2M358.9 289.8V301.2M302.3 289.6V303.4M381 291.6V300.3M380.1 290.9V304.2M374.2 293.7V304.7M304.6 291.3V298.6M357.9 291.9V298.9M342.6 290.8V300.8M334.4 287V301.3M381.8 287V302.8M393 293.1V303.4M394.7 292.2V302.3M370.1 294.9V304.3M354.1 290.8V300.1M337.1 290.7V303.9M301.3 289V305.4M390.4 294.6V305.8M400.5 289.9V300.9M387.9 290.1V301.9M405.2 292.8V303.2M392.2 293.1V304.5M313.2 295V302.3M373.1 294.1V302.8M396.8 289.8V298.2M301.2 290.2V300.7M323.2 291V302M352.8 288.3V300.4M320.6 293.5V297.6M356.8 292V302.4M384.3 294.5V301.8M384.4 293.9V298.5M323.6 287.1V304.7M316.3 295.5V298.2M305.1 295V302M402.9 291.4V302.4M313.7 290.5V303.9M300.2 292.1V303.8M366.9 291.7V298.2M350.1 292.7V304.4M374.2 295.2V302.6M328 290.3V303.7M310.1 295.3V305.8M325.6 287.9V305M383.5 289.2V301.4M314.6 288.9V297.8M338.9 294.3V300.1M401 287.9V299.2M364.7 288.8V298.5M357.3 287.3V298.8M403.3 295.4V303.8M377.8 291.4V297.8M388.8 289V299.7M377.6 293V300.1M407.2 294.5V301.8M403 292.4V305.2M404.8 288.1V298.4M377.3 289.4V298M372.6 290.9V301.1M314.7 295.5V305.6M336.2 290V301M406.1 288.6V300.6M339.5 295.3V298.1M317.7 293.8V302.7M383.1 291.6V302M350.4 290.1V305.9M385.1 290.5V299.6M365.6 293.3V297.7M322.6 288.5V298.3M302.8 294.1V303M353.8 293.4V299.6M385.2 287.3V298.5M326.2 294V301.4M318.7 289.4V301M378.9 291.1V303.9M347 292.4V301.9M341.1 287V303.2M374.2 294.8V297.6M370.8 293.3V304.2M383.3 289.8V300M386.2 292.2V301.8M375.8 290.2V299.3M374.4 294.3V302.1M358.3 294.4V301.7M396.6 293.2V297.6M370.1 288.3V304.7M361.2 291.4V299.5M380.2 295V302.5M313.9 287.3V303.2M388.8 294.5V305.9M360.6 287.8V298.9M381.4 289.2V299.2M300 289.9V301.5M345.6 291.8V301.9M321 295.4V304.6M307.6 292.8V299.7M314.1 288.2V299.2M377.5 287.2V304.5M322.8 288.3V304.1M402.5 293.9V303.6M299.9 290.1V298M319.4 294.1V300.7M373 291.4V302.3M366.8 288.1V302.1M390.9 288.2V303M304.5 294V300.6M369 291.3V304.3M403.6 289.2V305.3M371.3 290.2V300.9M301.1 290.5V298.5M376.9 287.4V305.6M368.9 288.9V305.8M394.7 294.5V298.4M330.1 288.5V297.9M300.1 290.1V302.8M352.9 294.2V301.3M340.1 294V301.7M367 292.5V298.1M329.1 295.3V304.4M365.5 290.9V304.9M324.5 295.3V303.5M370.2 289.7V303.5M408.2 289.3V302.9M387.7 289.9V298.8M379.8 290.3V301.8M333.4 292.1V299.6M394.7 294.9V299.3M313.7 294V297.8M325.6 290.9V298.5M387.4 288.3V300.4M379.8 287.9V304M397.9 290.3V298.9M387.9 293.3V297.6M315.9 292.8V304.6M313.6 292.6V299.5M357.8 288.6V302.4M310.1 292.8V300.3M353.1 294.8V305.6M347.8 290.8V303M327.7 287.2V304.2M383.1 294.7V306M315.3 287.2V303M330.5 295V298.5M348.4 291.4V300.4M356.7 294.3V299.8M355.2 295.3V299.6M400.8 292.6V302.1M327.7 292V303.2M310.8 294.4V300.8M304.7 291.4V300.2M308.4 294V300.8M338.7 289.8V298.3M345.4 287.4V302.1M344.4 291.2V304.4M342.5 287.3V299.4M391 294.5V303M364.5 288.9V300.5M385.5 292V305.5M387.3 289.1V298.2M408.2 289.3V304.7M393.5 288.9V305.8M396.5 294.6V298.7M380.3 287.2V301M397.2 295V298.9M309.6 294.7V299.4M323.5 291.2V298.2M376.1 292.2V304.7M354.6 292V299.4M331.2 287.6V297.7M394.9 290.1V298.8M375.9 294.9V300.6M307.7 287.1V304.9M401.3 287.7V301M381.9 289.7V302.4M384.2 295V299.1M328.7 291V302.1M395.6 294.3V298.9M349.5 289.2V304.2M407.9 291.6V298.8M312 288.2V301M363.1 292.4V299.8M387.6 290.9V303.7M319.1 294.6V302.2M344.1 293.4V299.1M329.3 290.2V301.9M371.5 288.4V304.3M400 294.8V298.2M386.8 291.9V302.3M409.2 287.7V303.2M335.3 295.4V302.4M359.3 295.5V300.7M345.8 290.3V299.9M354.7 289.8V305.3M359.9 294.3V300.7M361.3 288.3V298.2M316.7 292V301.2M356.7 289.8V302.5M356.6 291.2V303.1M362.4 293.7V300.9M383.5 294.5V301.9M406 293.4V301.8M368.5 294.6V298.5" stroke="#e0de10" stroke-width="0.7" opacity="0.8" fill="none"/>
<path d="M348.3 289.9V292.5M303.1 289.3V294.5M342.3 290.4V294.6M343.3 298.2V299.9M347.9 293.6V297.1M309.1 291.2V295M387.8 295.1V298.7M382 293.1V298.7M378.8 296.5V296.7M402.3 291.7V293M336.5 290.2V291.7M357.9 297.5V300.6M373.5 289.1V295.6M310.4 290V292.2M381.3 291.1V295.3M308.9 293.5V298M387.4 296.1V301.8M341.8 294V297M388.2 293.9V298.5M349 290.5V295.9M336.7 294.3V299.8M389.3 294V297.9M372.9 293.3V295.1M330.7 293.1V293.4M395.7 295.4V298.6M313.2 291.5V293M307.8 292.8V295.8M331.6 291.6V292.8M352.8 293.7V300.3M394.6 293.7V295.9M319.5 289.8V296.1M357.1 289.9V294.3M393.3 297.3V297.5M304.7 298V298.6M333.4 296.2V297.9M380.3 294.9V301.3M376.2 295.2V299.2M368.3 292.7V297.4M339.6 292.8V298.9M347.3 290.8V296.3M401.5 290.5V291M331.4 293.6V295.8M329.4 298V304.5M350.3 291.6V294.3M392.3 291.5V293.3M310.2 294.9V297M304.9 294.4V300.2M369.8 289.1V293.1M370.5 298.1V299.3M378.6 294.1V295.2M354.4 296.2V301.6M364.5 295.3V295.5M383.8 296V301.8M324.1 294.5V296.4" stroke="#ffffff" stroke-width="0.8" opacity="0.35" fill="none"/>
<path d="M409.5 276.3L410.2 273.7L410.9 275.6L411.6 274.8L412.3 275.3L413 274.8L413.7 274.8L414.4 275.8L415.1 276.3L415.8 274L416.5 276.1L417.2 275.6L417.9 275.1L418.6 275.8L419.3 276.1L420 275.8L420.7 275.1L421.4 276.3L422.1 276.1L422.8 275.1L423.5 273.9L424.2 274.4L424.9 274.3L425.6 274.7L426.3 276.6L427 273.8L427.7 276L428.4 275.4L429.1 274.4L429.8 275.8L430.5 274.7L431.2 274.2L431.9 275.7L432.6 275.7L433.3 276.1L434 274.9L434.7 275.4L435.4 276.3L436.1 276.3L436.8 274.2L437.5 275L438.2 274.1L438.9 273.6L439.6 273.9L440.3 276L441 274.7L441.7 274.5L442.4 276.3L443.1 276.4L443.8 276.7L444.5 274.1L445.2 273.7L445.9 273.7L446.6 274.8L447.3 276.2L448 276.4L448.7 275.6L449.4 276.3L450.1 275.5L450.8 273.9L451.5 273.6L452.2 273.8L452.9 273.9L453.6 275.7L454.3 275.3L455 275.5L455.7 275L456.4 275.9L457.1 275.5L457.8 275.9L458.5 274.7L459.2 275.3L459.9 273.4L460.6 276.7L461.3 274.8L462 274L462.7 276L463.4 274L464.1 274.3L464.8 274.1L465.5 273.5L466.2 274.8L466.9 274.8L467.6 275L468.3 275.7L469 276.4L469.7 274.5L470.4 273.9L471.1 276.6L471.8 275.2L472.5 276.3L473.2 275.3L473.9 276.4L474.6 273.6L475.3 274L476 276.4L476.7 273.5L477.4 275.3L478.1 275L478.8 276.1L479.5 275.6L480.2 275.5L480.9 275.7L481.6 273.4L482.3 275.2L483 274.6L483.7 275.5L484.4 274L485.1 274.2L485.8 274.4L486.5 276.8L487.2 275.3L487.9 274L488.6 276.1L489.3 276.7L490 274.8L490.7 274.3L491.4 274L492.1 274.2L492.8 275.8L493.5 274.8L494.2 276.9L494.9 275.7L495.6 274.2L496.3 275.5L497 274.7L497.7 273.9L498.4 274.8L499.1 275.5L499.8 276.9L500.5 275.2L501.2 276.2L501.9 276.9L502.6 275L503.3 274.6L504 275.8L504.7 276.2L505.4 273.7L506.1 275.6L506.8 274.2L507.5 275L508.2 275.9L508.9 274.5L509.6 276.1L510.3 275.3L511 275L511.7 275.1L512.4 276.5L513.1 274.2L513.8 273.8L514.5 274.5L515.2 275.1L515.9 275.6L516.6 274.5L517.3 275.6L518 276.5L518.7 275.9L519.4 275.1L520.1 274.4L520.8 274.9L521.5 276.6L522.2 274.7L522.9 275.1L523.6 275.7L524.3 274.4L525 274.7L525.7 275.1L526.4 276.1L527.1 275.6L527.8 274.5L528.5 276.8L529.2 276.1L529.9 275.3L530.6 274.5L531.3 274.5L532 274.6L532.7 274L533.4 275L534.1 275.5L534.8 275.4L535.5 275.1L536.2 276.7L536.9 274.3L537.6 274.7L538.3 273.6L539 276.1L539.7 274.2L540.4 274.4L541.1 274.5L541.8 276.1L542.5 274.7L543.2 276.5L543.9 273.6L544.6 275.6L545.3 276.3L546 275.2L546.7 275.8L547.4 276.7L547.4 314.9L546.7 316.8L546 316.1L545.3 314.8L544.6 315.7L543.9 315.3L543.2 316L542.5 317.1L541.8 314.4L541.1 315.2L540.4 316.1L539.7 315.3L539 315.9L538.3 316.1L537.6 314.9L536.9 314.7L536.2 315L535.5 314.3L534.8 316.7L534.1 315.9L533.4 315.5L532.7 315.1L532 316.2L531.3 315.9L530.6 314.6L529.9 317L529.2 315.8L528.5 315.1L527.8 315.4L527.1 315.1L526.4 316.1L525.7 316.1L525 317L524.3 314.8L523.6 314.2L522.9 316.6L522.2 315L521.5 314.1L520.8 314L520.1 317L519.4 316L518.7 315.6L518 314.2L517.3 314.5L516.6 314.2L515.9 316.1L515.2 315.6L514.5 314.9L513.8 315.2L513.1 316.3L512.4 316.4L511.7 315.4L511 316.4L510.3 314.1L509.6 317.2L508.9 316.9L508.2 315.5L507.5 317.3L506.8 316.6L506.1 316.6L505.4 315.4L504.7 315L504 314.8L503.3 316.9L502.6 316.1L501.9 315.9L501.2 315.3L500.5 315.5L499.8 317L499.1 316.7L498.4 314.9L497.7 317L497 316.6L496.3 317.3L495.6 314.3L494.9 315.8L494.2 316.4L493.5 314.7L492.8 314.9L492.1 315.3L491.4 314.3L490.7 314.1L490 317.1L489.3 316.6L488.6 317.2L487.9 317.1L487.2 315.4L486.5 316.3L485.8 315L485.1 315.1L484.4 315.7L483.7 315.4L483 314.9L482.3 314.4L481.6 313.9L480.9 315.6L480.2 315.7L479.5 317.1L478.8 314.2L478.1 316.4L477.4 317.4L476.7 316.2L476 317.1L475.3 316.4L474.6 315.7L473.9 315.2L473.2 316.3L472.5 315.8L471.8 314.2L471.1 317.2L470.4 314.4L469.7 316.9L469 314.3L468.3 315.4L467.6 315.2L466.9 317.3L466.2 317.2L465.5 315L464.8 314.8L464.1 315.9L463.4 314.9L462.7 313.9L462 314.3L461.3 316.3L460.6 314L459.9 316L459.2 316.4L458.5 315.7L457.8 316.8L457.1 317.2L456.4 314.6L455.7 315.7L455 316.9L454.3 315.8L453.6 315L452.9 316.3L452.2 316.8L451.5 317.3L450.8 315.6L450.1 316.4L449.4 314.9L448.7 317.2L448 315L447.3 315.7L446.6 316.3L445.9 314.9L445.2 316L444.5 316.7L443.8 315.3L443.1 314.3L442.4 314.3L441.7 315.8L441 314.8L440.3 315.4L439.6 317L438.9 315.1L438.2 316.3L437.5 314.5L436.8 315.9L436.1 313.9L435.4 314L434.7 315.3L434 316.5L433.3 316.7L432.6 317.4L431.9 314.1L431.2 315.2L430.5 315.3L429.8 316.3L429.1 317L428.4 314.9L427.7 313.9L427 316.6L426.3 317.1L425.6 314.5L424.9 314.7L424.2 314.9L423.5 314.7L422.8 316.5L422.1 314.3L421.4 314.9L420.7 314.2L420 315.1L419.3 314.1L418.6 316.4L417.9 314.4L417.2 316.8L416.5 315.1L415.8 314.3L415.1 316L414.4 315.3L413.7 315.7L413 314.6L412.3 315.6L411.6 316.4L410.9 314.5L410.2 316.5L409.5 315.4Z" fill="#e0de10" opacity="0.6"/>
<path d="M460.6 278.5V297.8M420.5 279.9V305.2M519.2 287.6V311M422.1 279.7V309.8M411.3 282V303.4M519.7 279.4V309.2M456 286.1V317.1M413.6 288.2V302.3M537.7 280.9V312.3M468.3 288.8V302.1M460.6 276.9V297.6M411.5 285.6V309.5M547 279.6V303.7M442.5 284.6V309.6M430.9 276.5V314.4M442.5 281.8V315.1M489.7 276V310M520.3 274.8V315.5M430.1 275.5V309.1M517.3 274.2V298.3M520.3 285.2V315.6M513 290V298.8M461.2 286.8V314.4M501.3 282.4V300.2M420.4 284.4V316.5M515.5 291.1V311.2M540.6 282.9V314.4M541.7 287.1V312.9M466.9 273.6V305.2M515.7 280.4V300.3M514.5 288.1V305.1M475.8 282.4V302.5M492.5 277.2V306.9M474.9 276.3V312.1M413.6 277.7V308.2M532.4 277.8V313.3M482.5 277.9V308.8M474.2 277.9V315.9M546.9 285.6V307.3M453.4 276.6V301.7M526.2 287.5V306.5M544.6 275.1V301.7M454.9 286.2V317.1M540.2 276.6V299.4M435.9 291.1V317M532.3 291.9V313.7M540.5 279.8V309.5M508 289.1V303.6M453.4 283.1V298.4M495.3 285.2V302.1M530.6 283.1V314.2M471.4 291.8V307.3M476.8 279.7V310.1M474.8 281.2V315.7M448.7 275.8V314.1M454.3 278.1V315.7M494.9 286.5V298.2M453.9 284.9V316.3M411.9 291.7V312.4M427.4 282V301.4M540.8 292.7V307.7M485.6 278.4V308.9M532.7 274.6V305.3M511.4 292.6V305.1M518.6 291.2V316.3M531 279.2V314.5M431.2 288.7V311.2M544.4 277.4V302.1M543.7 278.8V316.9M422.7 289.6V298.3M529.3 286.8V309.6M508.3 287.3V315.6M497.8 283.3V309.1M422.3 289.4V311.9M517.8 290.7V306.4M538.4 287.6V315.3M516.3 283.2V303.1M529.2 281.2V305.6M505 281V314.6M522.9 287.4V299.8M530 275V308.7M496.9 278.1V310.6M511.2 275.2V307.7M539.3 284V302.6M410 277.7V313.6M537.1 284.1V315.5M477.8 285.4V301M479 273.6V303.6M491.2 287V300.1M540.6 290.8V313.7M460.5 282V299.6M520.3 281.6V313.5M412.5 281.1V298.9M487.9 274.2V303.4M433.4 284.6V315.2M429.1 279.5V305.9M508.6 282.8V305.3M528.4 274.9V315.6M507.2 280.8V310.7M515.8 291.9V305M444.1 289.6V302.6M423.4 281.5V305M463.8 289.5V305.2M512.2 274V311.9M432.8 279.9V313.3M507.2 281.6V315.1M476.5 289.3V300M461.5 279.8V304.8M519.7 284.3V315M505.1 287.1V317.2M482.1 284.6V305.8M430 275.6V301.8M512.3 277.3V312M546.2 286V306.2M496.8 290.3V305.6M505.4 277V308.4M511.8 275.6V301.4M486.7 288V310.3M533.3 286.2V303.4M474.1 287.4V313M492.5 283.1V309.1M418.2 291.3V298.9M544.6 289.1V299.1M443.2 275.4V307.3M416.8 275.2V313.5M464.6 278.6V303.9M530.6 275.1V306.2M526 289.2V308.9M479.4 279.7V304.2M417.7 278V308.7M491.9 285.5V307M443.1 274.5V302.1M531.7 284V302.3M458 284.3V313.4M480.7 291.9V305.8M494.4 287V307M514.5 280.8V297.9M509.7 285.9V312.6M426.3 285.2V311.8M417.9 292.2V303.5M510.5 284.2V307M482.8 292.8V305.2M505.7 288.4V310.1M411.6 274.9V314.7M473.3 290.1V307.7M425.6 292.3V311.1M478.8 284.4V303.3M437.6 278.1V311.5M521.2 275.4V300.8M517 286.6V316.1M534.3 274.6V303.2M471.7 283.6V304.3M474 285.9V305.8M540.9 280.4V307.8M452.3 284.3V302.4M423.4 286V311.8M453.7 275.9V306.4M438.3 283.8V305.4M501.8 289.3V303.7M425.7 291.1V311.7M472 281.1V308.1M458.6 292.7V299.8M542 285.4V302.6M501.1 292.5V300.9M479.2 276.7V303.2M521.6 283.5V298.2M475.5 287.8V305.9M450.8 278.4V314M449.4 278V303.9M470.6 278.2V312.7M499.4 280.1V309.1M520.9 291.5V307.4M520 289.8V298.8M538.8 287.1V307.1M489.5 284.9V309.7M498.8 282.7V299M484.8 282.4V301.8M506.9 279.3V305.1M528.5 288.4V302.6M455.3 292.2V310.1M486.6 276.4V311.5M526 285.5V302.3M433.7 281.1V316.9M507.9 282.9V314.8M430.2 279.3V304.3M508.3 277.8V301.3M487.4 280V300M481.3 274.1V316.1M520.7 281.5V309.2M509.1 279.6V298.9M441.3 284.6V298.6M529.2 291.3V313.1M455.2 284V302.4M458.4 282.3V304.6M423.6 286.9V303.2M498.2 276.4V301.7M425.9 274V310M437.4 278.4V307.4M442 289.3V305.6M504.4 284.5V314M441.7 275.3V313.2M436 288.7V313M536.8 278.4V315.4M458.6 292.7V307.2M516.6 284.5V301.6M514.4 288.4V303.1" stroke="#e0de10" stroke-width="0.7" opacity="0.55" fill="none"/>
<path d="M480.5 280.2V291.2M412.3 285.2V295.2M448.4 295.2V300.8M466.8 284.9V285.1M528.7 278.3V283.5M438.6 287V290.5M433.4 286.1V290.8M444.5 278.7V280.6M492.6 291.1V305.5M453.1 297.6V300.8M499.3 290.6V299.5M444.1 283.4V292.1M420.1 298.2V299M468.8 288.3V302.5M488.3 298.9V304.6M454.9 291.4V305.3M510.7 288.4V300.7M416.6 296V308.3M418 278.3V286.7M517.7 279V282.5M471.2 296.9V306.3M414.5 286.9V297.1M478.2 287.1V295.2M489.3 288.3V300.8M522.8 281.7V284.2M462.3 291.3V294.5M462.4 289.1V292.6M480.5 295.4V305.7M451 288.3V302.6M412.8 285.7V286.9M481.2 290.1V296.9M506.9 293.2V298.4M461.8 279.8V285.6M518.7 297.5V310.5M457.3 280.6V285.4M486.2 297.8V303.2M423.4 288.7V303.3M501.8 292V295M511.5 289.5V296.2M493.6 281.6V293.6M461.8 286.3V292.5M529.3 294.4V300.2M494.4 292.6V299.6M527.5 297.1V300.2M497.8 295.5V300M422.8 282V286.7M423.4 283.3V288.8M413 298V302.4M471.1 286V291.8M484 282.6V283M448.2 290.6V300.2M523.4 284.2V290.1M423 281.7V296.4M507.5 286.2V291.8M544 290.9V305.5M528 299.1V300.9M519.6 296.7V307.7M466.4 288.4V303.4M478.8 299V301M536.5 281.8V285.9M458.2 280.6V291.2M517.2 287.8V295.6M425.2 286.6V293.8M538.6 288.4V288.7M485.6 290.3V299.8M460 287.8V301.1M469.8 297V302.1M462 278.1V280.1" stroke="#ffffff" stroke-width="0.8" opacity="0.3" fill="none"/>
<path d="M412 315.9L422 315.9L417 299.8ZM428.6 315.9L452.6 315.9L440.6 295.4ZM507.5 315.9L529.5 315.9L518.5 295.4ZM528.6 274.9L542.6 274.9L535.6 295.4ZM465 274.9L475 274.9L470 286.6Z" fill="#ffffff" opacity="0.62" filter="url(#sb)"/>
<path d="M299.6 340L300.3 340.4L301 342.1L301.7 342.6L302.4 343L303.1 341.9L303.8 340.9L304.5 343L305.2 342.5L305.9 342.4L306.6 342L307.3 342.6L308 340.6L308.7 341.8L309.4 342.9L310.1 341.6L310.8 342.5L311.5 342.7L312.2 339.6L312.9 339.6L313.6 342L314.3 342.9L315 341.3L315.7 342.2L316.4 341.9L317.1 340.9L317.8 342.3L318.5 342L319.2 342.9L319.9 342L320.6 339L321.3 341.7L322 342.2L322.7 341.9L323.4 340.2L324.1 340.4L324.8 340.5L325.5 342.5L326.2 341.6L326.9 342.9L327.6 339.5L328.3 341L329 342.4L329.7 340.7L330.4 342.8L331.1 341.2L331.8 341.2L332.5 341.8L333.2 340.9L333.9 342.1L334.6 341.3L335.3 342L336 339.4L336.7 339.7L337.4 339.3L338.1 341.8L338.8 342.7L339.5 341.9L340.2 341.9L340.9 341.1L341.6 341.8L342.3 340.5L343 340.8L343.7 342.8L344.4 341.6L345.1 340.5L345.8 340.3L346.5 340.3L347.2 340.9L347.9 339.5L348.6 341L349.3 339.3L350 339.6L350.7 340.4L351.4 341.9L352.1 340.5L352.8 341.4L353.5 341.5L354.2 339.4L354.9 339.4L355.6 340.4L356.3 342.5L357 340L357.7 342.7L358.4 340.1L359.1 341.9L359.8 340L360.5 341.4L361.2 339.7L361.9 340.5L362.6 341.8L363.3 342.7L364 340.8L364.7 339.9L365.4 342.7L366.1 339.2L366.8 340.1L367.5 342.5L368.2 341.6L368.9 342.5L369.6 342.4L370.3 340.5L371 342.4L371.7 340.4L372.4 340.3L373.1 341.9L373.8 342.6L374.5 340.5L375.2 340.6L375.9 341.2L376.6 340.5L377.3 340.9L378 342.1L378.7 340.2L379.4 342.8L380.1 340.9L380.8 342.9L381.5 341.7L382.2 340.6L382.9 339.9L383.6 339.4L384.3 339.3L385 341.3L385.7 341L386.4 341L387.1 340.8L387.8 342.9L388.5 341.7L389.2 341.4L389.9 342.3L390.6 339.7L391.3 342.8L392 341.5L392.7 340.9L393.4 339.5L394.1 342.4L394.8 342.3L395.5 339.3L396.2 339.1L396.9 342.3L397.6 341.6L398.3 339.8L399 340.7L399.7 341.4L400.4 342.5L401.1 341.7L401.8 339.9L402.5 339.9L403.2 341.2L403.9 339L404.6 341.4L405.3 342.9L406 339.4L406.7 342.3L407.4 341.4L408.1 342.5L408.8 341.3L409.5 341.9L409.5 341.2L409.5 355.4L409.5 354L408.8 353.8L408.1 354.8L407.4 354.4L406.7 354.4L406 354.3L405.3 354L404.6 354.6L403.9 354.2L403.2 352.7L402.5 352.8L401.8 355L401.1 354.4L400.4 355L399.7 353.8L399 352.7L398.3 355.1L397.6 354.7L396.9 354.4L396.2 352.8L395.5 353.8L394.8 353.1L394.1 355.5L393.4 355.7L392.7 354.5L392 353.3L391.3 354L390.6 354.1L389.9 352.3L389.2 355.1L388.5 355.7L387.8 354.6L387.1 355.9L386.4 352.7L385.7 354.3L385 354.5L384.3 355.1L383.6 353.1L382.9 353.5L382.2 355.6L381.5 355.5L380.8 355.1L380.1 352.7L379.4 354.9L378.7 352.1L378 353.2L377.3 354.3L376.6 352.6L375.9 355.5L375.2 353.5L374.5 353.3L373.8 353.8L373.1 354.5L372.4 355.7L371.7 354.7L371 354.8L370.3 352.8L369.6 354L368.9 355.8L368.2 353.5L367.5 355.6L366.8 353.4L366.1 355.9L365.4 353.8L364.7 352.6L364 353.4L363.3 354L362.6 356L361.9 353.1L361.2 352.8L360.5 352.5L359.8 352.2L359.1 354.2L358.4 352.7L357.7 355.7L357 353.5L356.3 353.1L355.6 352.2L354.9 355.9L354.2 353.2L353.5 352.2L352.8 354.9L352.1 352.4L351.4 353.5L350.7 355L350 352.3L349.3 353L348.6 353.3L347.9 355.6L347.2 353L346.5 354.9L345.8 356L345.1 354.7L344.4 353.4L343.7 354.4L343 353.9L342.3 352.1L341.6 354L340.9 353.1L340.2 352.6L339.5 355.1L338.8 354.3L338.1 354.1L337.4 354.2L336.7 353.4L336 352.1L335.3 353.6L334.6 355.1L333.9 354.2L333.2 352.7L332.5 353.9L331.8 353.2L331.1 352.8L330.4 355L329.7 353.6L329 355.3L328.3 354.4L327.6 353.4L326.9 354.1L326.2 352.3L325.5 352L324.8 356L324.1 354.1L323.4 356L322.7 355.7L322 352.3L321.3 352.4L320.6 353.9L319.9 353.5L319.2 355.3L318.5 353.8L317.8 353.2L317.1 354L316.4 355.2L315.7 355.1L315 353.7L314.3 353L313.6 354.4L312.9 352.2L312.2 352.6L311.5 352.2L310.8 353.8L310.1 354.6L309.4 354L308.7 354.2L308 352.6L307.3 353.9L306.6 353.7L305.9 354.8L305.2 355.4L304.5 356L303.8 355.3L303.1 354.1L302.4 354.2L301.7 353.5L301 353.4L300.3 352.8L299.6 355.5Z" fill="#22d822" opacity="0.85"/>
<path d="M363.5 345.5V348.7M322.9 342.9V353.2M345.1 344.2V352.1M319.8 339.8V353.3M362.9 339.8V348.7M308.7 340V349.9M317.9 342.5V355M342 343.2V354.5M380.9 343.7V355.3M373.4 346.6V353.8M306.4 345.5V355.6M399.8 339.4V355.9M341.2 346V349.3M333.4 341.5V355M393.1 343.7V350.7M309.9 342.4V350M321.1 345.5V351M331.5 343.2V354.5M356.4 341.2V350.1M322.6 340.4V353.7M335.3 339.9V350.6M334.8 341.3V354.7M394.5 345.8V354.6M325.8 344.5V350.8M358.2 339.7V355M387.3 345.3V351.2M374.3 340.4V350.5M338.4 344.7V352.1M299.8 341.7V352.1M404.1 341.8V351.9M335.1 346.5V349.5M386.8 342.1V352.5M329.1 346V355.5M307.5 339.9V349.8M407.9 342.2V352.4M311.5 340V350.2M304.6 343.4V352.3M401.4 342.4V354.8M387.1 342.3V350.9M370.8 339.1V353.1M301 343.9V351.2M313.6 341.5V350.9M373.9 343.9V355M404.2 341.2V351.2M320.5 340.3V349.3M368.1 343.2V350.7M396.5 344.6V355M302.4 342.7V352.4M401.7 341.5V349.6M407.9 342.7V354.1M398.2 343.3V353.3M365.7 344.2V350.5M303.4 343.1V355.9M402 339.8V351.1M313.6 341.7V350.1M328.4 344V352.4M312.8 341.1V355.7M315.3 342.3V349M338.6 340V348.7M334.6 346.2V356M404.2 340.4V348.5M373.1 341.8V349.9M342.6 342.4V350.3M398 341.2V350.9M376.2 345.4V352.1M341 339.6V354.4M349.4 342.6V349.6M357.4 343.1V351.3M325.9 345.1V355.7M331.1 342.1V353.2M312.4 339.2V354.9M406.7 341.5V353.6M301.7 346.6V351.2M300.2 341.4V350.1M351.7 344.8V351.1M400.9 344.7V349.6M366 343.3V350.4M367.7 340V349.1M328.1 344.1V350.6M378.5 340.7V352.1M402.9 345.7V349.6M346.5 343.2V352.5M317.2 343.1V352M324.1 345.7V352.2M374.4 341.1V350.4M315 342.9V354.7M309.9 339.6V348.4M385.6 344.1V349.4M370.7 343.8V354.3M313.2 346.2V352.1M329.1 344.1V349M331.1 340.7V351.8M333.8 343.9V353.3M362.2 341.9V351.9M383.5 345.1V355.3M404.4 342.8V349.8M400.7 340.7V353.7M356.6 345.5V352.9M336.4 343.3V355.6M382.1 343V355M389.6 339.5V354.7M376.9 340.6V355.5M366.5 340.3V350.2M390.1 340.6V349.2M346.3 339.7V353.5M306.5 344.2V355.7M360.4 341.9V351.4M408.8 339.6V349.4M407.7 344.2V351.9M400.5 340.5V349.5M362.3 345.8V353.6M300.3 343.8V350.6M308.5 339.9V350.4M353.4 340.6V351.8M330.2 343.2V354M324.6 340.2V348.7M344.6 345.8V348.5M391.3 344.8V348.4M381.5 341.7V349.3M394.3 339V354.4M375.7 344.2V348.8M396.8 340.1V350.4M402.4 341.5V353.5M368.7 345V353.9M388 342.9V353.2M337.3 341.4V349.5M352.2 343.2V350.2M376.6 344.7V355.4M330.7 341.6V353.9M318.6 345.9V351.8M399.7 339.5V348.5M332.4 342.2V354.3M300.4 345.9V353.2M341.3 339.1V350.5M323.7 346.1V349.8M306.8 341.7V354.6M355.8 344.5V348.9M370.9 340.7V355.2M314.7 344.1V353.9M388.1 340.9V351.6M404.2 343.8V353.5M393.6 346.2V349.2M401.4 340.3V352.4M388.6 339.4V348.6M309.4 345.2V353.6M374.9 340.5V349.8M350.6 339.5V354.5M390.3 342.1V351.8M350.7 345.3V352.3M319.4 340V352.9M391.9 339.6V355.3M326.6 344.8V354.8M370.3 346V353.1M345.6 346.5V350.2M365.5 343.1V348.6M345.5 339.8V349.2M325.4 346.3V353.6M328.6 339.4V351.1M355 343.9V354M360.8 344.2V351.5M391.9 343V354.3M369.2 339.9V356M383 342.7V354.7M347 345.9V353.1M331.6 346.1V351.1M345 343V352M380.5 342.2V352.5M322.8 339.6V353.1M321.7 344.2V348.4M391.3 344V348.7M388.4 342.8V354.9M323.9 340.4V355.6M334 344.1V349.4M303.4 345V348.5M373.8 341.2V349.2M326.1 343.8V352.4M348.1 342.7V352M349.8 343.7V349.6M389 346.2V355.5M340.7 341.1V353.6M400.9 342.9V353.7M408.4 339.4V354.4M299.6 343.7V351.8M337.4 340.8V351.1M300.8 341.9V355.4M395.1 341.8V351.2M389.3 340.3V351.2M365.2 341.5V349.6M317.9 346.5V350.1M351.7 341.4V352.5M370.3 344.6V350.4M331.5 341.3V348.9M338.6 339.4V352.4M356.5 340.2V351.7M370.3 341V353.9M346.9 343.7V348.9M342.9 341.8V350.7M363.8 343.5V349.8M325.9 343.8V353.8M406.5 346.1V350.6M309.4 339V355.7M342.2 344.5V349M305.6 339.9V348.8M333.7 346.4V352M331.9 346.3V348.4M322 339.5V350.9M408.6 344.2V349.3M352.8 345.4V351.4M346.8 339.7V355.2M369.7 340.2V355.7M318.6 345.1V349.8M393.8 346.1V348.7M315.6 346.2V348.7M350.7 345V349.9M303.8 345.5V353M365.1 345.3V354M344.7 342.5V351M334.1 341.8V353.3M334.9 339.3V354.9" stroke="#22d822" stroke-width="0.7" opacity="0.8" fill="none"/>
<path d="M330.6 342.6V347.1M382.7 347.9V350.4M305.9 347.2V352.9M336.1 342.8V343M374.1 348.8V350.7M390.7 341.3V345.1M394.7 347.9V348.9M336.1 343.4V345.9M365.9 344.5V350.2M346.1 345.9V351.8M379.3 343.5V345.6M375 344.3V347.5M392.9 345.8V346.4M303.5 348.9V353.7M386.5 343V345.8M367.2 346.5V350.4M319.1 347.7V350.4M351.3 348.1V350.6M338.6 342.6V344.8M313 342.2V346.1M362.2 344.7V345.3M396.5 342V346.6M360.7 347.3V350M348.4 343.3V346.5M310 347V352.6M340.3 347.7V351.9M300.9 346.7V347.4M341.3 344.1V344.2M324.8 342.5V344M323.2 348.8V350.3M318.4 341.7V344.3M367.9 342V346.8M377.1 344.9V349.4M325.8 344.2V344.3M369.5 348V349.9M319.2 345.7V350.8M393.8 348.4V351.7M396.2 342V342.7M355.8 341.4V342M330.3 341.6V344.7M323.4 344.1V348.3M313.9 342V345M328 342V343.3M385.2 342.4V346.8M344.3 348.4V350.3M333 345.5V349.9M301.6 342.4V345.5M384.5 343.5V347.8M352.9 341V344.5M368.9 340.8V342.2M309.9 349.1V353.1M372.8 344.5V344.8M322.3 348V349.1M303.6 341.9V343" stroke="#ffffff" stroke-width="0.8" opacity="0.35" fill="none"/>
<path d="M409.5 324L410.2 325.1L410.9 323.7L411.6 324L412.3 325.8L413 324.9L413.7 325.1L414.4 324.1L415.1 326.8L415.8 326L416.5 325.4L417.2 325.6L417.9 324.3L418.6 325.7L419.3 326.3L420 324.3L420.7 324.2L421.4 325.5L422.1 324.2L422.8 325.1L423.5 324.6L424.2 323.9L424.9 324.9L425.6 326.6L426.3 325.6L427 324.4L427.7 323.9L428.4 324L429.1 327.2L429.8 326.4L430.5 325.8L431.2 325.6L431.9 326.7L432.6 324.1L433.3 326.4L434 326.6L434.7 324.7L435.4 326.3L436.1 324.8L436.8 326L437.5 324.6L438.2 324.4L438.9 327.1L439.6 324.4L440.3 324.5L441 324.6L441.7 325.5L442.4 324.4L443.1 323.8L443.8 324.9L444.5 325.3L445.2 323.7L445.9 327.2L446.6 324.1L447.3 325.5L448 327.1L448.7 326.5L449.4 326.8L450.1 327L450.8 326.1L451.5 325.6L452.2 325.7L452.9 324.7L453.6 327L454.3 325.3L455 326.2L455.7 324.4L456.4 324L457.1 325.6L457.8 327.1L458.5 325.2L459.2 324.6L459.9 325.1L460.6 327.1L461.3 324.5L462 325.1L462.7 326.1L463.4 324.6L464.1 325.3L464.8 324.4L465.5 326.6L466.2 324L466.9 324.2L467.6 325.1L468.3 326.4L469 326.5L469.7 327L470.4 325.2L471.1 324.1L471.8 325.5L472.5 326.3L473.2 325.3L473.9 326.1L474.6 325.3L475.3 325.5L476 326.9L476.7 325.1L477.4 325.5L478.1 325.4L478.8 327.1L479.5 326.9L480.2 325L480.9 325.3L481.6 325L482.3 324.1L483 325.2L483.7 325.8L484.4 325L485.1 325.5L485.8 324.2L486.5 326.9L487.2 326.1L487.9 323.8L488.6 324.8L489.3 326.2L490 326.8L490.7 325.7L491.4 324L492.1 325.5L492.8 323.8L493.5 324.2L494.2 324.6L494.9 325.9L495.6 324.9L496.3 324.1L497 325.4L497.7 326.2L498.4 324.6L499.1 326.5L499.8 323.7L500.5 325.4L501.2 323.8L501.9 326.2L502.6 324.5L503.3 326.9L504 326.5L504.7 325.1L505.4 323.8L506.1 324.2L506.8 327.1L507.5 325.4L508.2 326.7L508.9 326.9L509.6 324.6L510.3 326.1L511 325.6L511.7 325.7L512.4 324.9L513.1 325.2L513.8 327.1L514.5 326.2L515.2 325.5L515.9 325.1L516.6 325.1L517.3 325.3L518 326.1L518.7 325.9L519.4 326.3L520.1 326.5L520.8 324.3L521.5 326.3L522.2 325.8L522.9 325.3L523.6 326.4L524.3 327.1L525 325.8L525.7 324.7L526.4 324L527.1 325.8L527.8 324.5L528.5 325.6L529.2 327.1L529.9 326.7L530.6 324.2L531.3 324.4L532 325.8L532.7 324.2L533.4 324.2L534.1 324.5L534.8 325.4L535.5 325.5L536.2 324.6L536.9 324.1L537.6 325.6L538.3 324.3L539 324.6L539.7 327L540.4 327.2L541.1 323.7L541.8 326.6L542.5 326.1L543.2 327.1L543.9 326.1L544.6 324.8L545.3 325.6L546 325.6L546.7 326.2L547.4 325.4L547.4 369L546.7 366.4L546 367.9L545.3 368.2L544.6 366.7L543.9 368.3L543.2 366L542.5 367.9L541.8 366.5L541.1 367.5L540.4 368.7L539.7 366.6L539 368.2L538.3 368.5L537.6 369L536.9 366.4L536.2 366.2L535.5 368.7L534.8 366.6L534.1 367.4L533.4 368.3L532.7 366.1L532 366L531.3 366.6L530.6 368L529.9 365.8L529.2 368.9L528.5 368.3L527.8 368.3L527.1 365.8L526.4 367L525.7 365.7L525 366.6L524.3 367.3L523.6 367.2L522.9 367.5L522.2 366.9L521.5 368L520.8 368.8L520.1 368.1L519.4 366.9L518.7 366.6L518 366.6L517.3 367.4L516.6 367.4L515.9 368.4L515.2 366.9L514.5 365.9L513.8 366.6L513.1 365.7L512.4 367.2L511.7 366.9L511 365.9L510.3 367.3L509.6 368.5L508.9 365.7L508.2 367.2L507.5 366.5L506.8 368.6L506.1 367.9L505.4 367.5L504.7 368.1L504 368.6L503.3 368L502.6 368.6L501.9 365.9L501.2 367.2L500.5 367.4L499.8 367.1L499.1 367.9L498.4 367.6L497.7 369.1L497 365.7L496.3 365.8L495.6 366L494.9 369L494.2 366.9L493.5 367.1L492.8 366.6L492.1 366.6L491.4 366.3L490.7 367L490 369L489.3 368L488.6 365.6L487.9 367.7L487.2 367.4L486.5 368.3L485.8 368.8L485.1 367.7L484.4 366.2L483.7 367.6L483 367.5L482.3 367.6L481.6 368.5L480.9 368.4L480.2 367.4L479.5 367.9L478.8 366.4L478.1 368L477.4 365.6L476.7 367.1L476 367.4L475.3 366.5L474.6 368.6L473.9 368.7L473.2 368.4L472.5 369L471.8 367L471.1 367.4L470.4 368.7L469.7 365.9L469 365.9L468.3 368.2L467.6 366.9L466.9 368.2L466.2 366.4L465.5 367.5L464.8 367.3L464.1 366.2L463.4 368L462.7 367.4L462 367L461.3 366.1L460.6 368.7L459.9 368.8L459.2 366.9L458.5 367.9L457.8 366.1L457.1 367.2L456.4 369L455.7 365.8L455 368.5L454.3 368.2L453.6 366.4L452.9 367.4L452.2 368.2L451.5 368L450.8 366.8L450.1 365.7L449.4 369.1L448.7 365.7L448 368.4L447.3 367.8L446.6 367L445.9 366.1L445.2 367.5L444.5 368.5L443.8 366.8L443.1 366.3L442.4 368.8L441.7 366.9L441 367.7L440.3 366.3L439.6 369L438.9 365.6L438.2 366.7L437.5 368.7L436.8 366.9L436.1 366.2L435.4 367.8L434.7 365.9L434 366.4L433.3 366.8L432.6 368.3L431.9 368.1L431.2 368.2L430.5 366.5L429.8 366L429.1 366.6L428.4 366.6L427.7 367.1L427 365.7L426.3 367.3L425.6 367.2L424.9 365.7L424.2 367.3L423.5 366.4L422.8 366.9L422.1 366.5L421.4 368.8L420.7 366.7L420 366.2L419.3 366.8L418.6 367.7L417.9 368.7L417.2 367.4L416.5 366.3L415.8 368L415.1 367.2L414.4 368.6L413.7 368.2L413 367.6L412.3 366.1L411.6 367.1L410.9 366.8L410.2 366.2L409.5 367.1Z" fill="#22d822" opacity="0.6"/>
<path d="M495.4 326.6V365.6M440.8 341.1V361.3M531.3 335V353.9M538.5 341.9V358.5M433 329.1V356.1M505 342.9V351.1M439.6 337.2V364.4M523.5 331.5V361M528.8 339.5V364.6M472.6 343.4V354.7M413.5 343.9V362.1M422.1 340.7V368.5M436.8 332V349.9M454.1 342.7V364.9M522.9 333.9V355.3M434 334.6V349.6M420.8 326.2V363.3M486.7 335.7V365.5M451.6 343V364.9M503.4 331.4V355.5M453.7 342.7V353.6M455.1 342.2V355.5M526.9 338.3V352.1M543 327V356.1M488.4 343.5V351.6M534 330.6V360.6M476.4 340.6V356.2M466.4 329.1V353.4M509.4 335.7V361.1M469.2 327.2V363.4M515 342.8V352.9M450.2 324.5V356.6M496.7 342.7V367.4M529.5 339.4V360.1M506 335.4V354.2M436.9 338.3V350.5M488.9 335.1V357.6M533.1 338.9V359.6M495.6 341.4V352.1M513.7 342.1V363.7M415.7 324.5V355.1M519.5 343.1V367.7M461.4 343.3V354.8M522.9 327.2V360.4M521.5 332.8V358.7M534 338.5V366.7M505.1 342V363.2M542.6 329.6V351.8M439.2 343.1V351M526.5 338.6V365.5M435.2 325.1V358.9M509.3 340V362.5M536.2 339.1V357.8M510.2 334.1V356.3M526.5 334.9V351M512.2 342V363.4M427.9 339.4V362.1M412 343.4V358M427 332.2V358.4M458.2 331.4V362.5M517 327.5V349M469.8 326.6V366.8M414 331.2V363.2M525.2 335V369.1M417.7 327.3V361.7M517.9 328.5V366.5M441.7 327.1V350.2M503.8 324.9V350.8M502.1 343.4V366.9M441.1 329.1V353.2M447.4 332V362.2M508.1 340.4V365.5M531.3 336.3V350.6M449.6 336.6V365.1M454.2 330.9V349.5M543 341.6V368.4M546.5 340.3V354.1M451.5 343.9V358.5M517.3 334V357.2M457.6 340.1V350.1M539.2 338V359.9M440.1 328.5V352.9M450.1 337.2V358.2M433.8 338.3V355.1M538.1 340.8V352.1M546 330.4V360.4M510.9 336.4V357M444.3 336.1V358.9M506.1 333.1V359.5M500.3 328.7V356.1M497.8 338.1V355.7M478.7 340.5V359.9M454.3 343.8V354.4M418 327.8V355M462.8 331.3V367M434.2 335.9V351.5M454.6 341V357.5M501.5 339.3V366.3M538.5 328.6V364.5M471.2 324.6V348.8M510.3 328.1V369M484.7 340.5V350.4M476.7 337.9V355.7M467 331.8V350.3M457.5 330.6V352.6M476.6 328.6V351.5M545.7 331.6V367.3M435.2 325.9V359.8M451.2 341.7V352.5M525.5 336.9V364.6M463.9 337.5V354M470.7 337.6V363M429.5 326.7V356.1M503 327.9V356M473.8 326V351.3M417.8 339V364.7M439.1 329.4V358.3M420.1 342.3V353.2M486.4 337.1V364.7M424 342.8V350.9M507.8 331.7V361.2M435.3 334V354.1M529.7 339.1V362.7M542.3 340.7V352.5M458.3 329V358.8M428.4 341.7V366.4M487.8 340.7V367.5M445 342.7V364.8M430.5 342.2V365.9M495.5 335.8V361.5M425.6 324.7V359.5M455.5 338V359.7M410.3 338.7V351.5M536.9 332.4V356.3M522.2 339.9V366.4M469.3 329.7V363.5M423 335.8V357.8M465.6 337.4V358.7M430.5 333.3V366.5M507.2 337.7V367.1M419.4 340.7V364.3M432.3 326.5V362.7M503.5 341.9V367.1M535.6 335.8V353M481.9 328.3V363.3M537.9 328.3V355.1M521 341.2V353.8M507.4 341.9V353.2M446.9 338.3V357.2M535.8 333.1V353.2M517.5 327.9V354.6M446.7 334.8V367.5M540.8 333.8V366.1M528.1 333.3V368.8M449.7 337V358.4M442.2 324.8V364.4M521 344V363.2M414.6 324.7V351.4M518 341V358.7M510.6 333V362.8M496.1 323.8V350.7M505.3 334.1V350.4M420 330.6V360.1M470.6 336.9V361.8M424.1 333.1V356.6M545.5 324.8V365.5M453 343.8V356.3M440.9 342.2V360.3M498.2 335.9V365.4M485.8 338.6V358.6M420.8 324.5V351M417.7 342.9V358.3M478.4 343.6V368.4M473.6 336.1V368.1M516 336.9V359.1M487.5 337.8V367.6M457.9 337.3V360M518.7 343.8V364.9M492.3 340.9V357.9M438.7 331.4V359.8M481.7 335.5V365M431 325.8V364.6M500.3 328.8V358.5M454 327.2V350.9M528.5 328V365.1M452 341.9V354M493.5 336.4V358.7M449.1 329.3V356.7M468.4 342.1V367.9M420 340.7V367.2M413.7 325.2V366.6M533.3 342.1V367.8M411.6 339.1V366.2M482 328.6V362.1M534.6 331.6V356.4M426.7 327.8V352M508.8 339.7V365.4M476.9 331.8V353.7M532.9 324.6V361M432.8 323.9V358.3M526.4 334.1V358.5M494.7 336.6V366.6M545.9 329.7V357.9M469.6 335.2V360.8M524.3 337.9V359.2M503.2 336.1V355.5" stroke="#22d822" stroke-width="0.7" opacity="0.55" fill="none"/>
<path d="M528.8 343.4V355M488.4 336.4V349.9M469.6 348.4V355.6M459.8 342.4V355.3M497.8 341.6V355.9M455.5 336V350M466.2 349.3V362.2M414.7 343.2V355.4M464.4 329.8V337.3M462.2 330.4V346M472.1 333.1V333.2M498.3 349.6V358.4M492.3 334.7V339.5M430 342.2V357.4M443.4 335.7V337.4M440.4 333.3V337.4M528.3 343.2V345M507 343.1V358.5M514.3 345.1V346.1M472.2 335.8V337.4M447.7 333.8V347.7M515.4 350.8V354.5M430.5 334.1V349.1M472.4 339.9V344.8M494.7 348.6V356.9M489.1 335.4V345M519.1 337.8V351.2M523.7 331.3V339.6M481.1 345.3V359.9M451 328.5V338.2M503 334.1V342.2M514.1 344.4V356.5M472 340.3V347.2M513.6 348V351.4M411.1 333.7V342.8M453.1 346.4V360.1M436.4 336.6V345.3M429.3 332.3V343.9M529.6 342.1V345.3M453.8 340.3V345.1M460.8 332.9V337.4M463.6 337.9V349.3M484.2 330.2V337.7M534.6 347.1V349.3M530.9 338V351.4M493.3 337.6V352.6M452.3 341.4V354.6M499 339.9V346.9M422.7 344V356.4M469.9 344.8V356.5M490.1 349.9V353.8M535.9 336V350.7M471.7 334.8V345.5M427 345.2V353M499.8 334.9V336.3M502.3 336.1V339.4M474.8 333.6V336.8M512.2 342.1V344.4M478.5 335.4V338.6M413.4 329.7V344.2M537.3 345.2V350.3M539.6 337.3V351.1M461.9 337.3V338.7M411.2 342.5V345.1M418.2 334V336.6M500.6 335.6V343M449.1 342.4V348.2M411.3 348.6V364.2" stroke="#ffffff" stroke-width="0.8" opacity="0.3" fill="none"/>
<path d="M437.5 325.2L475.5 325.2L456.5 350.9ZM484 325.2L510 325.2L497 346.4ZM417 367.6L437 367.6L427 346.4ZM508 367.6L534 367.6L521 344.1ZM536 325.2L544 325.2L540 337.3Z" fill="#ffffff" opacity="0.62" filter="url(#sb)"/>
<path d="M299.6 389.1L300.1 390.7L300.6 390.3L301.1 390.5L301.6 390.5L302.1 390.1L302.6 390.2L303.1 389.2L303.6 389.7L304.1 390.1L304.6 389.4L305.1 389.4L305.6 389.6L306.1 389L306.6 389.9L307.1 390L307.6 389.5L308.1 389.3L308.6 390.4L309.1 390.3L309.6 389.6L310.1 389.9L310.6 390L311.1 389.9L311.6 390.8L312.1 389.7L312.6 390.2L313.1 390.3L313.6 389.8L314.1 390.2L314.6 390L315.1 390.1L315.6 389.4L316.1 390.6L316.6 390.2L317.1 389.5L317.6 390.8L318.1 389.2L318.6 390L319.1 389.5L319.6 389.1L320.1 390.6L320.6 390.8L321.1 390.4L321.6 389.7L322.1 390.1L322.6 390.4L323.1 389L323.6 390.1L324.1 389.3L324.6 389.1L325.1 389.2L325.6 390.8L326.1 390L326.6 389.6L327.1 389.2L327.6 389.8L328.1 390.4L328.6 390.7L329.1 389L329.6 389.3L330.1 389.1L330.6 390.6L331.1 390.1L331.6 389.6L332.1 390.1L332.6 389.6L333.1 389.6L333.6 390.3L334.1 389.1L334.6 390.3L335.1 389.2L335.6 389.6L336.1 389.4L336.6 389.5L337.1 390.4L337.6 390.8L338.1 389.9L338.6 389.9L339.1 390.5L339.6 390.5L340.1 389L340.6 390.7L341.1 390.4L341.6 389.7L342.1 390.1L342.6 390.6L343.1 389L343.6 389.8L344.1 389L344.6 389.5L345.1 390.4L345.6 389.8L346.1 390.7L346.6 389.3L347.1 389.7L347.6 389.7L348.1 389.7L348.6 389.8L349.1 389.2L349.6 389L350.1 389.8L350.6 390.7L351.1 389.8L351.6 390.3L352.1 390.5L352.6 389.1L353.1 390.8L353.6 389.2L354.1 389.9L354.6 390.6L355.1 390.5L355.6 390.7L356.1 390.2L356.6 390.5L357.1 389.1L357.6 390.2L358.1 390.7L358.6 390.8L359.1 390.3L359.6 390.5L360.1 389.4L360.6 390.1L361.1 390.6L361.6 390.2L362.1 389.6L362.6 390.3L363.1 389.8L363.6 389.7L364.1 390.6L364.6 389.6L365.1 390L365.6 390.1L366.1 390.1L366.6 390L367.1 390.7L367.6 389.8L368.1 389.5L368.6 389.3L369.1 389.8L369.6 389.4L370.1 390.8L370.6 389.8L371.1 389.3L371.6 390.2L372.1 389.4L372.6 390.5L373.1 389.6L373.6 389.3L374.1 390.6L374.6 390.4L375.1 390.1L375.6 390.5L376.1 390.6L376.6 389.2L377.1 389.3L377.6 390.8L378.1 390.6L378.6 389.9L379.1 390.5L379.6 390.6L380.1 389.9L380.6 390.2L381.1 389.8L381.6 390.2L382.1 390.5L382.6 390.7L383.1 389.7L383.6 390.3L384.1 390.7L384.6 389.4L385.1 389.9L385.6 390.6L386.1 389.7L386.6 390.4L387.1 390.2L387.6 390.4L388.1 390L388.6 389.9L389.1 390.2L389.6 390.6L390.1 390.2L390.6 390.7L391.1 389.7L391.6 390.8L392.1 390.1L392.6 390.7L393.1 390.3L393.6 390.2L394.1 389.4L394.6 390.4L395.1 390L395.6 389.2L396.1 389.8L396.6 390.2L397.1 390.3L397.6 389.4L398.1 389.1L398.6 390.8L399.1 390.1L399.6 389.9L400.1 389.5L400.6 389.2L401.1 390.7L401.6 389.3L402.1 390.1L402.6 389.4L403.1 390L403.6 389.1L404.1 389.9L404.6 390.4L405.1 390.5L405.6 390.5L406.1 389.4L406.6 390.5L407.1 389.4L407.6 390L408.1 389.7L408.6 387.5L409.1 384.4L409.6 380.8L410.1 380.9L410.6 380.7L411.1 381.4L411.6 381.1L412.1 381.4L412.6 380.8L413.1 379.6L413.6 381.1L414.1 379.9L414.6 378.4L415.1 378L415.6 377.4L416.1 377.7L416.6 376.6L417.1 377.4L417.6 376.4L418.1 377.2L418.6 377.1L419.1 377.5L419.6 377.3L420.1 376.3L420.6 376.7L421.1 377.5L421.6 377.2L422.1 376.6L422.6 376.4L423.1 376.4L423.6 376.3L424.1 377.9L424.6 376.9L425.1 377.5L425.6 377.9L426.1 376.3L426.6 377L427.1 376.9L427.6 376.6L428.1 377.5L428.6 376.3L429.1 377.6L429.6 376.8L430.1 376.9L430.6 377.2L431.1 377.6L431.6 376.6L432.1 377.5L432.6 377.8L433.1 377.8L433.6 376.7L434.1 377.7L434.6 377.6L435.1 377.9L435.6 377.3L436.1 377.6L436.6 376.7L437.1 377L437.6 376.5L438.1 376.5L438.6 376.2L439.1 377.7L439.6 378L440.1 377.8L440.6 378L441.1 377.2L441.6 376.6L442.1 376.7L442.6 377.3L443.1 377.3L443.6 377.1L444.1 376.8L444.6 377.9L445.1 376.5L445.6 376.3L446.1 377.5L446.6 377.5L447.1 377L447.6 377.7L448.1 377.5L448.6 376.7L449.1 377.1L449.6 376.3L450.1 377.1L450.6 377.7L451.1 376.5L451.6 376.2L452.1 377.5L452.6 376.6L453.1 376.4L453.6 376.4L454.1 376.5L454.6 377L455.1 377L455.6 376.3L456.1 377.3L456.6 377.7L457.1 377L457.6 377.3L458.1 377.3L458.6 377.7L459.1 377.2L459.6 376.4L460.1 377.4L460.6 377.8L461.1 377.6L461.6 377.6L462.1 377.4L462.6 377L463.1 377.3L463.6 376.4L464.1 376.2L464.6 377.6L465.1 376.3L465.6 377.2L466.1 376.9L466.6 376.6L467.1 377.4L467.6 377.2L468.1 376.5L468.6 377.4L469.1 377.9L469.6 376.2L470.1 376.3L470.6 377.5L471.1 377L471.6 377.6L472.1 377.5L472.6 376.9L473.1 377.6L473.6 377.6L474.1 377.5L474.6 376.6L475.1 377L475.6 376.9L476.1 377.5L476.6 377.7L477.1 377.5L477.6 376.9L478.1 376.9L478.6 377.6L479.1 376.3L479.6 377.5L480.1 377L480.6 377.2L481.1 377.8L481.6 376.9L482.1 376.3L482.6 377.8L483.1 376.2L483.6 377.4L484.1 377.4L484.6 377L485.1 377.5L485.6 376.2L486.1 376.1L486.6 377L487.1 377.5L487.6 377L488.1 376.6L488.6 376.8L489.1 376.6L489.6 377.4L490.1 377.5L490.6 377.2L491.1 377.2L491.6 377.2L492.1 377.4L492.6 376.4L493.1 376.8L493.6 377L494.1 376.8L494.6 376.5L495.1 376.9L495.6 377.4L496.1 376.5L496.6 376.3L497.1 376.9L497.6 376.6L498.1 377.4L498.6 377.4L499.1 376.6L499.6 376.1L500.1 376.7L500.6 376.7L501.1 376.2L501.6 377.7L502.1 376.8L502.6 376.8L503.1 377L503.6 377.4L504.1 377.8L504.6 377.4L505.1 376.8L505.6 377.6L506.1 376.4L506.6 377.1L507.1 377.4L507.6 376.4L508.1 377.7L508.6 376.6L509.1 376.6L509.6 377.3L510.1 376.9L510.6 376.8L511.1 377L511.6 377.6L512.1 377.6L512.6 376.8L513.1 377.1L513.6 376.8L514.1 377.5L514.6 377.8L515.1 377.3L515.6 377.3L516.1 377.5L516.6 377.2L517.1 377.4L517.6 376.9L518.1 376.8L518.6 377.6L519.1 377.6L519.6 376.5L520.1 377.5L520.6 377.7L521.1 377.6L521.6 377.7L522.1 377.2L522.6 376.7L523.1 376.6L523.6 376.4L524.1 377.8L524.6 376.2L525.1 377.3L525.6 376.5L526.1 376.2L526.6 377.2L527.1 376.6L527.6 377.2L528.1 377.8L528.6 376.4L529.1 376.8L529.6 376.5L530.1 377L530.6 377L531.1 376.8L531.6 377.6L532.1 377.6L532.6 376.4L533.1 377.2L533.6 377.5L534.1 377L534.6 376.3L535.1 376.1L535.6 377.4L536.1 377.5L536.6 376.6L537.1 377L537.6 377.3L538.1 376.2L538.6 377.1L539.1 376.5L539.6 376.5L540.1 377.2L540.6 377.3L541.1 377L541.6 377.1L542.1 377.5L542.6 377.7L543.1 377.5L543.6 377.4L544.1 377.5L544.6 377.7L545.1 376.6L545.6 377.2L546.1 376L546.6 377L547.1 376.2L547.4 376.9L547.4 381.6L547.1 381.6L546.6 380.3L546.1 380.3L545.6 381.5L545.1 380.5L544.6 381.5L544.1 381.9L543.6 381.8L543.1 381.7L542.6 380.7L542.1 381L541.6 380.2L541.1 380.2L540.6 381.7L540.1 380.3L539.6 381.5L539.1 381.5L538.6 381.5L538.1 381.8L537.6 381.1L537.1 380.3L536.6 381L536.1 380.4L535.6 381.3L535.1 381.4L534.6 381L534.1 381.6L533.6 380.2L533.1 380.7L532.6 381.1L532.1 380.4L531.6 381.1L531.1 381.2L530.6 381.5L530.1 381.7L529.6 381.5L529.1 381.1L528.6 381.3L528.1 380.8L527.6 381.3L527.1 381.2L526.6 380.9L526.1 381.1L525.6 381.5L525.1 380.3L524.6 381L524.1 380.4L523.6 381.7L523.1 380.4L522.6 381.7L522.1 380.4L521.6 381.2L521.1 381.7L520.6 381.7L520.1 381.3L519.6 380.4L519.1 381.4L518.6 381.5L518.1 381.2L517.6 381L517.1 381.2L516.6 382L516.1 381.9L515.6 381.5L515.1 381L514.6 381.7L514.1 381.6L513.6 381.8L513.1 381.8L512.6 380.6L512.1 381.5L511.6 381.3L511.1 381.6L510.6 381.5L510.1 380.5L509.6 382L509.1 380.7L508.6 380.6L508.1 381.7L507.6 381.3L507.1 381.3L506.6 382.1L506.1 380.4L505.6 380.8L505.1 382L504.6 380.9L504.1 380.8L503.6 380.3L503.1 381.6L502.6 381.8L502.1 380.7L501.6 381.7L501.1 381.9L500.6 382L500.1 381.5L499.6 381.7L499.1 380.4L498.6 380.7L498.1 381.2L497.6 380.6L497.1 382L496.6 381.6L496.1 381.4L495.6 380.4L495.1 382L494.6 380.4L494.1 381.9L493.6 381.5L493.1 381.8L492.6 380.8L492.1 382L491.6 381.1L491.1 382L490.6 381.5L490.1 382L489.6 380.5L489.1 381.2L488.6 381.8L488.1 381L487.6 381.8L487.1 381.2L486.6 380.4L486.1 381.8L485.6 380.6L485.1 380.8L484.6 381.5L484.1 381.8L483.6 381.6L483.1 381.2L482.6 381.8L482.1 380.4L481.6 381L481.1 380.4L480.6 380.8L480.1 380.5L479.6 381L479.1 381.5L478.6 381.2L478.1 381.4L477.6 380.6L477.1 380.4L476.6 381.1L476.1 381L475.6 380.6L475.1 382.1L474.6 381.7L474.1 381L473.6 381.6L473.1 380.3L472.6 382.1L472.1 381.1L471.6 380.6L471.1 381.1L470.6 382.1L470.1 381.8L469.6 381.4L469.1 381.9L468.6 381.1L468.1 381.9L467.6 381.5L467.1 380.6L466.6 380.4L466.1 380.7L465.6 381.8L465.1 380.4L464.6 381.2L464.1 381.7L463.6 381.6L463.1 380.9L462.6 380.4L462.1 380.7L461.6 380.5L461.1 381.3L460.6 380.6L460.1 380.9L459.6 381.9L459.1 380.6L458.6 381.5L458.1 380.5L457.6 381.2L457.1 381.9L456.6 380.9L456.1 381.9L455.6 380.7L455.1 380.7L454.6 380.7L454.1 380.4L453.6 381.9L453.1 380.9L452.6 381.3L452.1 380.8L451.6 380.9L451.1 381L450.6 381.4L450.1 380.5L449.6 380.5L449.1 381L448.6 380.7L448.1 381.5L447.6 381.5L447.1 380.9L446.6 381.7L446.1 381.9L445.6 380.5L445.1 381.8L444.6 381.4L444.1 380.4L443.6 380.7L443.1 381.2L442.6 382.1L442.1 380.6L441.6 382L441.1 380.8L440.6 380.8L440.1 381L439.6 380.9L439.1 382.1L438.6 380.9L438.1 381.6L437.6 380.7L437.1 381.8L436.6 381.5L436.1 381L435.6 382.1L435.1 382.1L434.6 381.3L434.1 381.2L433.6 380.8L433.1 382.1L432.6 381.2L432.1 381.8L431.6 380.5L431.1 381.9L430.6 382L430.1 380.5L429.6 382L429.1 381.5L428.6 381.1L428.1 381.7L427.6 380.7L427.1 380.9L426.6 380.9L426.1 381.4L425.6 380.5L425.1 381.8L424.6 381.1L424.1 380.9L423.6 380.5L423.1 381.2L422.6 381.6L422.1 381.6L421.6 381.1L421.1 382L420.6 381L420.1 380.4L419.6 381.8L419.1 382L418.6 382.1L418.1 381L417.6 381.1L417.1 380.8L416.6 382L416.1 381.5L415.6 381.4L415.1 382.3L414.6 382.7L414.1 382.9L413.6 384.7L413.1 385.5L412.6 385.1L412.1 385.5L411.6 384.3L411.1 385.5L410.6 385.4L410.1 385.6L409.6 385.8L409.1 388.9L408.6 392.8L408.1 394.9L407.6 394.1L407.1 395.2L406.6 394.1L406.1 394.4L405.6 394.1L405.1 394.4L404.6 395.2L404.1 395.2L403.6 394.6L403.1 394.7L402.6 394.7L402.1 394.1L401.6 394.9L401.1 393.7L400.6 394.2L400.1 395.3L399.6 394.7L399.1 394L398.6 393.6L398.1 395.1L397.6 395.3L397.1 394L396.6 393.8L396.1 394.4L395.6 393.7L395.1 395L394.6 395.3L394.1 394.8L393.6 393.9L393.1 395L392.6 394L392.1 394.9L391.6 394L391.1 394.5L390.6 394.4L390.1 395.2L389.6 393.9L389.1 393.8L388.6 394.8L388.1 394.5L387.6 395.3L387.1 394.6L386.6 394.8L386.1 395.2L385.6 393.7L385.1 395.1L384.6 394.9L384.1 393.9L383.6 393.8L383.1 393.9L382.6 395L382.1 393.8L381.6 394.5L381.1 393.7L380.6 394.3L380.1 395.1L379.6 395.3L379.1 394.3L378.6 394.2L378.1 394L377.6 394.8L377.1 394.5L376.6 394.8L376.1 394.5L375.6 394.2L375.1 394L374.6 393.7L374.1 395L373.6 394L373.1 394.6L372.6 395L372.1 395.1L371.6 395L371.1 394.3L370.6 394.2L370.1 394.4L369.6 393.8L369.1 394.5L368.6 395L368.1 394.9L367.6 394.8L367.1 394.8L366.6 394.5L366.1 394.1L365.6 394.3L365.1 394.2L364.6 395.4L364.1 394.6L363.6 393.7L363.1 393.8L362.6 393.7L362.1 394.6L361.6 394.2L361.1 394.9L360.6 393.9L360.1 394.9L359.6 393.8L359.1 395.1L358.6 394.5L358.1 395.1L357.6 394.7L357.1 394.7L356.6 393.8L356.1 394L355.6 394.3L355.1 395.4L354.6 394.5L354.1 394.2L353.6 394L353.1 394.4L352.6 395.3L352.1 395L351.6 394.8L351.1 394.2L350.6 395L350.1 394L349.6 394.1L349.1 393.8L348.6 394.8L348.1 394.1L347.6 394.3L347.1 395.2L346.6 395L346.1 394.5L345.6 394.5L345.1 394.6L344.6 393.9L344.1 395.4L343.6 395L343.1 394.3L342.6 393.6L342.1 393.9L341.6 394.1L341.1 395.3L340.6 393.9L340.1 395L339.6 394.8L339.1 394.2L338.6 394.5L338.1 394.6L337.6 394.7L337.1 393.7L336.6 393.6L336.1 393.7L335.6 394.1L335.1 395.4L334.6 394.3L334.1 394.2L333.6 394.2L333.1 394.3L332.6 394L332.1 394.3L331.6 395.2L331.1 394.1L330.6 394.3L330.1 394.4L329.6 393.7L329.1 393.8L328.6 394.3L328.1 395.1L327.6 394.3L327.1 394.6L326.6 394.2L326.1 395.2L325.6 394L325.1 395.3L324.6 393.7L324.1 394.5L323.6 393.7L323.1 395L322.6 395L322.1 394.3L321.6 394.4L321.1 395L320.6 394.4L320.1 394.7L319.6 394.4L319.1 394.1L318.6 393.6L318.1 395.1L317.6 395.3L317.1 393.7L316.6 394.2L316.1 395.4L315.6 394.7L315.1 394.1L314.6 394.7L314.1 395.3L313.6 395.2L313.1 394L312.6 395.3L312.1 394.3L311.6 395.2L311.1 394.7L310.6 394.4L310.1 394.3L309.6 393.9L309.1 394.1L308.6 395L308.1 395.1L307.6 394.9L307.1 393.9L306.6 394.5L306.1 394.9L305.6 394.5L305.1 395.2L304.6 394.4L304.1 394.7L303.6 394.8L303.1 394L302.6 394.5L302.1 395.4L301.6 393.9L301.1 395L300.6 394.9L300.1 394.5L299.6 395.3Z" fill="#e01010" opacity="0.95"/>
<path d="M299.6 410L300.6 410L301.6 410L302.6 410L303.6 410L304.6 410L305.6 410L306.6 410L307.6 410L308.6 410L309.6 410L310.6 410L311.6 410L312.6 410L313.6 410L314.6 410L315.6 410L316.6 410L317.6 410L318.6 410L319.6 410L320.6 410L321.6 410L322.6 410L323.6 410L324.6 410L325.6 410L326.6 410L327.6 410L328.6 410L329.6 410L330.6 410L331.6 410L332.6 410L333.6 410L334.6 410L335.6 410L336.6 410L337.6 410L338.6 410L339.6 410L340.6 410L341.6 410L342.6 410L343.6 410L344.6 410L345.6 410L346.6 410L347.6 410L348.6 410L349.6 410L350.6 410L351.6 410L352.6 410L353.6 410L354.6 410L355.6 410L356.6 410L357.6 410L358.6 410L359.6 410L360.6 410L361.6 410L362.6 410L363.6 410L364.6 410L365.6 410L366.6 410L367.6 410L368.6 410L369.6 410L370.6 410L371.6 410L372.6 410L373.6 410L374.6 410L375.6 410L376.6 410L377.6 410L378.6 410L379.6 410L380.6 410L381.6 410L382.6 410L383.6 410L384.6 410L385.6 410L386.6 410L387.6 410L388.6 410L389.6 410L390.6 410L391.6 410L392.6 410L393.6 410L394.6 410L395.6 410L396.6 410L397.6 410L398.6 410L399.6 410L400.6 410L401.6 410L402.6 410L403.6 410L404.6 410L405.6 410L406.6 410L407.6 410L408.6 410L409.6 410L410.6 410.1L411.6 410.1L412.6 410.1L413.6 410.2L414.6 410.2L415.6 410.3L416.6 410.3L417.6 410.4L418.6 410.4L419.6 410.4L420.6 410.5L421.6 410.5L422.6 410.5L423.6 410.6L424.6 410.6L425.6 410.6L426.6 410.7L427.6 410.7L428.6 410.7L429.6 410.7L430.6 410.8L431.6 410.8L432.6 410.8L433.6 410.8L434.6 410.9L435.6 410.9L436.6 410.9L437.6 410.9L438.6 410.9L439.6 411L440.6 411L441.6 411L442.6 411L443.6 411L444.6 411L445.6 411L446.6 411.1L447.6 411.1L448.6 411.1L449.6 411.1L450.6 411.1L451.6 411.1L452.6 411.1L453.6 411.2L454.6 411.2L455.6 411.2L456.6 411.2L457.6 411.2L458.6 411.2L459.6 411.2L460.6 411.2L461.6 411.2L462.6 411.2L463.6 411.3L464.6 411.3L465.6 411.3L466.6 411.3L467.6 411.3L468.6 411.3L469.6 411.3L470.6 411.3L471.6 411.3L472.6 411.3L473.6 411.3L474.6 411.3L475.6 411.3L476.6 411.3L477.6 411.3L478.6 411.4L479.6 411.4L480.6 411.4L481.6 411.4L482.6 411.4L483.6 411.4L484.6 411.4L485.6 411.4L486.6 411.4L487.6 411.4L488.6 411.4L489.6 411.4L490.6 411.4L491.6 411.4L492.6 411.4L493.6 411.4L494.6 411.4L495.6 411.4L496.6 411.4L497.6 411.4L498.6 411.4L499.6 411.4L500.6 411.4L501.6 411.4L502.6 411.4L503.6 411.4L504.6 411.4L505.6 411.4L506.6 411.4L507.6 411.4L508.6 411.4L509.6 411.4L510.6 411.4L511.6 411.5L512.6 411.5L513.6 411.5L514.6 411.5L515.6 411.5L516.6 411.5L517.6 411.5L518.6 411.5L519.6 411.5L520.6 411.5L521.6 411.5L522.6 411.5L523.6 411.5L524.6 411.5L525.6 411.5L526.6 411.5L527.6 411.5L528.6 411.5L529.6 411.5L530.6 411.5L531.6 411.5L532.6 411.5L533.6 411.5L534.6 411.5L535.6 411.5L536.6 411.5L537.6 411.5L538.6 411.5L539.6 411.5L540.6 411.5L541.6 411.5L542.6 411.5L543.6 411.5L544.6 411.5L545.6 411.5L546.6 411.5L547.6 411.5" fill="none" stroke="#5a64e4" stroke-width="1.3"/>
<rect x="299.4" y="262.4" width="248.7" height="170.2" fill="none" stroke="#262626" stroke-width="1.1"/>
<text x="414" y="266.2" font-family="Liberation Sans" font-size="3.6" fill="#555" textLength="18" lengthAdjust="spacingAndGlyphs">&lt;2(1:4000)&gt;</text>
<text x="525.5" y="266.5" font-family="Liberation Sans" font-size="4" font-weight="bold" fill="#222" textLength="20" lengthAdjust="spacingAndGlyphs">&lt;200ms/div&gt;</text>
<path d="M294.1 293.6L298.6 296L294.1 298.4Z" fill="#f2a81e"/>
<path d="M290.6 296H294.6" stroke="#f2a81e" stroke-width="1.3" opacity="0.45"/>
<path d="M294.1 344.6L298.6 347L294.1 349.4Z" fill="#7c8a66"/>
<path d="M290.6 347H294.6" stroke="#7c8a66" stroke-width="1.3" opacity="0.45"/>
<path d="M294.1 395.6L298.6 398L294.1 400.4Z" fill="#e81818"/>
<path d="M290.6 398H294.6" stroke="#e81818" stroke-width="1.3" opacity="0.45"/>
<path d="M294.1 429.6L298.6 432L294.1 434.4Z" fill="#1820e0"/>
<path d="M290.6 432H294.6" stroke="#1820e0" stroke-width="1.3" opacity="0.45"/>
<text x="302" y="276.5" fill="#dcd020" font-family="Liberation Serif" font-size="13.1" text-anchor="start"><tspan font-style="italic">i</tspan><tspan font-style="italic" font-size="11.5" dy="3.5" dx="0.5">&#945;</tspan><tspan dy="-3.5" dx="1.1">(5 A/div)</tspan></text>
<text x="302" y="328" fill="#2ad02a" font-family="Liberation Serif" font-size="13.1" text-anchor="start"><tspan font-style="italic">i</tspan><tspan font-style="italic" font-size="11.5" dy="3.5" dx="0.5">&#946;</tspan><tspan dy="-3.5" dx="1.1">(5 A/div)</tspan></text>
<text x="544.4" y="400.3" fill="#e02020" font-family="Liberation Serif" font-size="13" text-anchor="end"><tspan font-style="italic">T</tspan><tspan font-style="italic" font-size="10" dy="2.5" dx="0">e</tspan><tspan dy="-2.5" dx="1.1">(1.6 Nm/div)</tspan></text>
<text x="544" y="425" fill="#2a78d0" font-family="Liberation Serif" font-size="13.1" text-anchor="end"><tspan font-style="italic">n</tspan>(1500 rpm/div)</text>
</svg>
<div class="t" style="left:57px;top:1px;font-size:13.5px">Previous reported DV-MPCC</div>
<div class="t" style="left:327.5px;top:1px;font-size:14.1px">DV-MPCC proposed in this paper</div>
<div class="t" style="left:99px;top:190px;font-size:13.3px"><i>t</i>(200 ms/div)</div>
<div class="t" style="left:387px;top:190px;font-size:13.3px"><i>t</i>(200 ms/div)</div>
<div class="t" style="left:198px;top:209px;font-size:14px">(a) 500 &#8211; 2000 r/min, 0.5 Nm</div>
<div class="t" style="left:57px;top:246px;font-size:13.5px">Previous reported DV-MPCC</div>
<div class="t" style="left:327.5px;top:246px;font-size:14.1px">DV-MPCC proposed in this paper</div>
<div class="t" style="left:99px;top:436px;font-size:13.3px"><i>t</i>(200 ms/div)</div>
<div class="t" style="left:387px;top:436px;font-size:13.3px"><i>t</i>(200 ms/div)</div>
<div class="t" style="left:200px;top:455px;font-size:15px;word-spacing:1px">(b) 2000 r/min, 0.5 &#8211; 2 Nm</div>
</body></html>
